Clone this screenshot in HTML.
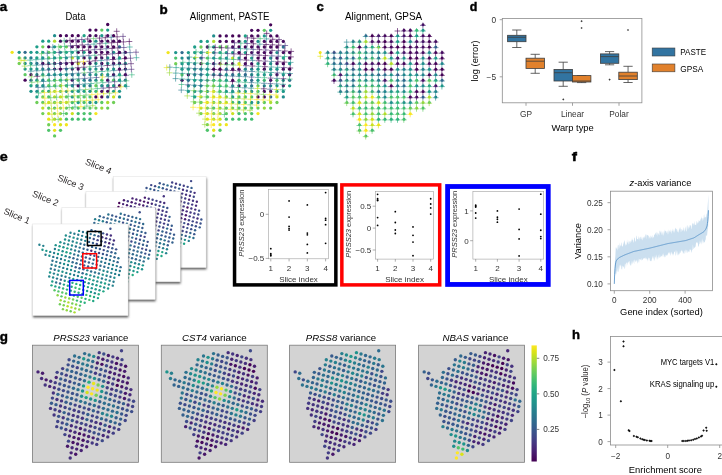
<!DOCTYPE html>
<html><head><meta charset="utf-8"><title>Figure</title>
<style>html,body{margin:0;padding:0;background:#fff;} body{width:722px;height:475px;overflow:hidden;} svg{display:block;}</style>
</head><body>
<svg width="722" height="475" viewBox="0 0 722 475" font-family="'Liberation Sans', Arial, sans-serif">
<defs><filter id="shd" x="-20%" y="-20%" width="140%" height="140%"><feGaussianBlur stdDeviation="1.3"/></filter><linearGradient id="vir" x1="0" y1="1" x2="0" y2="0"><stop offset="0.00" stop-color="#440154"/><stop offset="0.05" stop-color="#471365"/><stop offset="0.10" stop-color="#482475"/><stop offset="0.15" stop-color="#463480"/><stop offset="0.20" stop-color="#414487"/><stop offset="0.25" stop-color="#3b528b"/><stop offset="0.30" stop-color="#355f8d"/><stop offset="0.35" stop-color="#2f6c8e"/><stop offset="0.40" stop-color="#2a788e"/><stop offset="0.45" stop-color="#25848e"/><stop offset="0.50" stop-color="#21918c"/><stop offset="0.55" stop-color="#1e9c89"/><stop offset="0.60" stop-color="#22a884"/><stop offset="0.65" stop-color="#2fb47c"/><stop offset="0.70" stop-color="#44bf70"/><stop offset="0.75" stop-color="#5ec962"/><stop offset="0.80" stop-color="#7ad151"/><stop offset="0.85" stop-color="#9bd93c"/><stop offset="0.90" stop-color="#bddf26"/><stop offset="0.95" stop-color="#dfe318"/><stop offset="1.00" stop-color="#fde725"/></linearGradient></defs>
<text x="-0.30" y="10.80" font-size="13.5" font-weight="bold" fill="#000" stroke="#000" stroke-width="0.45" textLength="7.4" lengthAdjust="spacingAndGlyphs">a</text>
<text x="159.50" y="13.70" font-size="13.5" font-weight="bold" fill="#000" stroke="#000" stroke-width="0.45" textLength="8.2" lengthAdjust="spacingAndGlyphs">b</text>
<text x="316.40" y="11.20" font-size="13.5" font-weight="bold" fill="#000" stroke="#000" stroke-width="0.45" textLength="7.3" lengthAdjust="spacingAndGlyphs">c</text>
<text x="469.70" y="10.70" font-size="13.5" font-weight="bold" fill="#000" stroke="#000" stroke-width="0.45" textLength="7.6" lengthAdjust="spacingAndGlyphs">d</text>
<text x="-0.30" y="160.90" font-size="13.5" font-weight="bold" fill="#000" stroke="#000" stroke-width="0.45" textLength="8.0" lengthAdjust="spacingAndGlyphs">e</text>
<text x="571.80" y="160.80" font-size="13.5" font-weight="bold" fill="#000" stroke="#000" stroke-width="0.45" textLength="5.2" lengthAdjust="spacingAndGlyphs">f</text>
<text x="-0.30" y="341.30" font-size="13.5" font-weight="bold" fill="#000" stroke="#000" stroke-width="0.45" textLength="8.2" lengthAdjust="spacingAndGlyphs">g</text>
<text x="572.00" y="339.20" font-size="13.5" font-weight="bold" fill="#000" stroke="#000" stroke-width="0.45" textLength="8.0" lengthAdjust="spacingAndGlyphs">h</text>
<text x="75.50" y="19.70" font-size="10.4" text-anchor="middle" textLength="20" lengthAdjust="spacingAndGlyphs">Data</text>
<text x="229.65" y="19.80" font-size="10.4" text-anchor="middle" textLength="79.9" lengthAdjust="spacingAndGlyphs">Alignment, PASTE</text>
<text x="383.60" y="19.80" font-size="10.4" text-anchor="middle" textLength="77.2" lengthAdjust="spacingAndGlyphs">Alignment, GPSA</text>
<rect x="502.30" y="18.40" width="139.60" height="84.40" fill="none" stroke="#8c8c8c" stroke-width="0.8"/>
<line x1="499.70" y1="19.70" x2="502.30" y2="19.70" stroke="#8c8c8c" stroke-width="0.8"/>
<text x="496.00" y="22.70" font-size="8.3" text-anchor="end" fill="#333333">0</text>
<line x1="499.70" y1="76.80" x2="502.30" y2="76.80" stroke="#8c8c8c" stroke-width="0.8"/>
<text x="496.00" y="79.80" font-size="8.3" text-anchor="end" fill="#333333">−5</text>
<line x1="526.00" y1="102.80" x2="526.00" y2="105.80" stroke="#8c8c8c" stroke-width="0.8"/>
<text x="526.00" y="117.20" font-size="8.3" text-anchor="middle" fill="#333333">GP</text>
<line x1="572.50" y1="102.80" x2="572.50" y2="105.80" stroke="#8c8c8c" stroke-width="0.8"/>
<text x="572.50" y="117.20" font-size="8.3" text-anchor="middle" fill="#333333">Linear</text>
<line x1="619.00" y1="102.80" x2="619.00" y2="105.80" stroke="#8c8c8c" stroke-width="0.8"/>
<text x="619.00" y="117.20" font-size="8.3" text-anchor="middle" fill="#333333">Polar</text>
<text x="572.60" y="130.60" font-size="9.0" text-anchor="middle" textLength="42.4" lengthAdjust="spacingAndGlyphs">Warp type</text>
<text x="477.80" y="61.00" font-size="9.4" text-anchor="middle" transform="rotate(-90 477.80 61.00)">log (error)</text>
<line x1="516.80" y1="30.00" x2="516.80" y2="35.30" stroke="#3d3d3d" stroke-width="0.8"/>
<line x1="516.80" y1="41.70" x2="516.80" y2="47.50" stroke="#3d3d3d" stroke-width="0.8"/>
<line x1="512.20" y1="30.00" x2="521.40" y2="30.00" stroke="#3d3d3d" stroke-width="0.8"/>
<line x1="512.20" y1="47.50" x2="521.40" y2="47.50" stroke="#3d3d3d" stroke-width="0.8"/>
<rect x="507.60" y="35.30" width="18.40" height="6.40" fill="#3274a1" stroke="#3d3d3d" stroke-width="0.8"/>
<line x1="507.60" y1="37.30" x2="526.00" y2="37.30" stroke="#3d3d3d" stroke-width="0.8"/>
<line x1="535.20" y1="54.30" x2="535.20" y2="58.20" stroke="#3d3d3d" stroke-width="0.8"/>
<line x1="535.20" y1="68.40" x2="535.20" y2="73.30" stroke="#3d3d3d" stroke-width="0.8"/>
<line x1="530.60" y1="54.30" x2="539.80" y2="54.30" stroke="#3d3d3d" stroke-width="0.8"/>
<line x1="530.60" y1="73.30" x2="539.80" y2="73.30" stroke="#3d3d3d" stroke-width="0.8"/>
<rect x="526.00" y="58.20" width="18.40" height="10.20" fill="#e1812c" stroke="#3d3d3d" stroke-width="0.8"/>
<line x1="526.00" y1="61.20" x2="544.40" y2="61.20" stroke="#3d3d3d" stroke-width="0.8"/>
<line x1="563.20" y1="62.20" x2="563.20" y2="69.40" stroke="#3d3d3d" stroke-width="0.8"/>
<line x1="563.20" y1="81.00" x2="563.20" y2="86.30" stroke="#3d3d3d" stroke-width="0.8"/>
<line x1="558.60" y1="62.20" x2="567.80" y2="62.20" stroke="#3d3d3d" stroke-width="0.8"/>
<line x1="558.60" y1="86.30" x2="567.80" y2="86.30" stroke="#3d3d3d" stroke-width="0.8"/>
<rect x="554.00" y="69.40" width="18.40" height="11.60" fill="#3274a1" stroke="#3d3d3d" stroke-width="0.8"/>
<line x1="554.00" y1="72.70" x2="572.40" y2="72.70" stroke="#3d3d3d" stroke-width="0.8"/>
<path d="M562.20 99.40 l1.1 -1.1 l1.1 1.1 l-1.1 1.1z" fill="#3d3d3d"/>
<line x1="581.65" y1="75.60" x2="581.65" y2="75.60" stroke="#3d3d3d" stroke-width="0.8"/>
<line x1="581.65" y1="82.00" x2="581.65" y2="82.60" stroke="#3d3d3d" stroke-width="0.8"/>
<line x1="577.02" y1="75.60" x2="586.27" y2="75.60" stroke="#3d3d3d" stroke-width="0.8"/>
<line x1="577.02" y1="82.60" x2="586.27" y2="82.60" stroke="#3d3d3d" stroke-width="0.8"/>
<rect x="572.40" y="75.60" width="18.50" height="6.40" fill="#e1812c" stroke="#3d3d3d" stroke-width="0.8"/>
<line x1="572.40" y1="81.00" x2="590.90" y2="81.00" stroke="#3d3d3d" stroke-width="0.8"/>
<path d="M580.50 21.20 l1.1 -1.1 l1.1 1.1 l-1.1 1.1z" fill="#3d3d3d"/>
<path d="M580.50 28.00 l1.1 -1.1 l1.1 1.1 l-1.1 1.1z" fill="#3d3d3d"/>
<line x1="609.60" y1="51.60" x2="609.60" y2="53.90" stroke="#3d3d3d" stroke-width="0.8"/>
<line x1="609.60" y1="63.30" x2="609.60" y2="64.80" stroke="#3d3d3d" stroke-width="0.8"/>
<line x1="605.00" y1="51.60" x2="614.20" y2="51.60" stroke="#3d3d3d" stroke-width="0.8"/>
<line x1="605.00" y1="64.80" x2="614.20" y2="64.80" stroke="#3d3d3d" stroke-width="0.8"/>
<rect x="600.40" y="53.90" width="18.40" height="9.40" fill="#3274a1" stroke="#3d3d3d" stroke-width="0.8"/>
<line x1="600.40" y1="56.60" x2="618.80" y2="56.60" stroke="#3d3d3d" stroke-width="0.8"/>
<path d="M608.50 79.60 l1.1 -1.1 l1.1 1.1 l-1.1 1.1z" fill="#3d3d3d"/>
<line x1="628.05" y1="66.30" x2="628.05" y2="72.20" stroke="#3d3d3d" stroke-width="0.8"/>
<line x1="628.05" y1="79.60" x2="628.05" y2="82.50" stroke="#3d3d3d" stroke-width="0.8"/>
<line x1="623.42" y1="66.30" x2="632.67" y2="66.30" stroke="#3d3d3d" stroke-width="0.8"/>
<line x1="623.42" y1="82.50" x2="632.67" y2="82.50" stroke="#3d3d3d" stroke-width="0.8"/>
<rect x="618.80" y="72.20" width="18.50" height="7.40" fill="#e1812c" stroke="#3d3d3d" stroke-width="0.8"/>
<line x1="618.80" y1="76.00" x2="637.30" y2="76.00" stroke="#3d3d3d" stroke-width="0.8"/>
<path d="M626.90 30.00 l1.1 -1.1 l1.1 1.1 l-1.1 1.1z" fill="#3d3d3d"/>
<rect x="652.20" y="48.00" width="22.70" height="8.00" fill="#3274a1" stroke="#3d3d3d" stroke-width="0.6"/>
<rect x="652.20" y="64.00" width="22.70" height="7.80" fill="#e1812c" stroke="#3d3d3d" stroke-width="0.6"/>
<text x="680.30" y="55.30" font-size="9.2" text-anchor="start" textLength="25.8" lengthAdjust="spacingAndGlyphs">PASTE</text>
<text x="680.30" y="71.60" font-size="9.2" text-anchor="start" textLength="23.0" lengthAdjust="spacingAndGlyphs">GPSA</text>
<text x="0" y="0" font-size="9.2" fill="#231f20" transform="translate(2.90,213.60) rotate(22.5)">Slice 1</text>
<text x="0" y="0" font-size="9.2" fill="#231f20" transform="translate(31.50,196.00) rotate(22.5)">Slice 2</text>
<text x="0" y="0" font-size="9.2" fill="#231f20" transform="translate(56.80,179.90) rotate(22.5)">Slice 3</text>
<text x="0" y="0" font-size="9.2" fill="#231f20" transform="translate(84.50,163.90) rotate(22.5)">Slice 4</text>
<rect x="113.70" y="178.20" width="92.80" height="91.20" fill="#5a5a5a" filter="url(#shd)"/>
<rect x="113.30" y="176.40" width="92.80" height="91.20" fill="#ffffff" stroke="#e4e4e4" stroke-width="0.5"/>
<circle cx="120.12" cy="197.20" r="1.2" fill="#3c4f8a"/>
<circle cx="123.99" cy="198.26" r="1.2" fill="#3a538b"/>
<circle cx="123.18" cy="202.18" r="1.2" fill="#33638d"/>
<circle cx="127.05" cy="203.24" r="1.2" fill="#3c4f8a"/>
<circle cx="126.24" cy="207.16" r="1.2" fill="#3b518b"/>
<circle cx="130.91" cy="204.31" r="1.2" fill="#3a548c"/>
<circle cx="130.11" cy="208.22" r="1.2" fill="#414287"/>
<circle cx="136.40" cy="197.54" r="1.2" fill="#3b528b"/>
<circle cx="135.59" cy="201.46" r="1.2" fill="#39568c"/>
<circle cx="134.78" cy="205.37" r="1.2" fill="#355e8d"/>
<circle cx="133.97" cy="209.28" r="1.2" fill="#433e85"/>
<circle cx="133.17" cy="213.20" r="1.2" fill="#3f4889"/>
<circle cx="132.36" cy="217.11" r="1.2" fill="#423f85"/>
<circle cx="131.55" cy="221.03" r="1.2" fill="#34608d"/>
<circle cx="130.75" cy="224.94" r="1.2" fill="#365c8d"/>
<circle cx="129.94" cy="228.85" r="1.2" fill="#423f85"/>
<circle cx="141.07" cy="194.69" r="1.2" fill="#31678e"/>
<circle cx="140.26" cy="198.61" r="1.2" fill="#32658e"/>
<circle cx="139.46" cy="202.52" r="1.2" fill="#38588c"/>
<circle cx="138.65" cy="206.43" r="1.2" fill="#39558c"/>
<circle cx="137.84" cy="210.35" r="1.2" fill="#424186"/>
<circle cx="137.03" cy="214.26" r="1.2" fill="#443a83"/>
<circle cx="136.23" cy="218.18" r="1.2" fill="#3a538b"/>
<circle cx="135.42" cy="222.09" r="1.2" fill="#423f85"/>
<circle cx="134.61" cy="226.00" r="1.2" fill="#404688"/>
<circle cx="133.81" cy="229.92" r="1.2" fill="#3e4989"/>
<circle cx="133.00" cy="233.83" r="1.2" fill="#424086"/>
<circle cx="132.19" cy="237.75" r="1.2" fill="#39558c"/>
<circle cx="146.55" cy="187.93" r="1.2" fill="#3a548c"/>
<circle cx="145.75" cy="191.84" r="1.2" fill="#33638d"/>
<circle cx="144.94" cy="195.76" r="1.2" fill="#3a538b"/>
<circle cx="144.13" cy="199.67" r="1.2" fill="#39568c"/>
<circle cx="143.32" cy="203.58" r="1.2" fill="#3c508b"/>
<circle cx="142.52" cy="207.50" r="1.2" fill="#39568c"/>
<circle cx="141.71" cy="211.41" r="1.2" fill="#3c4f8a"/>
<circle cx="140.90" cy="215.33" r="1.2" fill="#3f4788"/>
<circle cx="140.09" cy="219.24" r="1.2" fill="#31688e"/>
<circle cx="139.29" cy="223.15" r="1.2" fill="#30698e"/>
<circle cx="138.48" cy="227.07" r="1.2" fill="#33638d"/>
<circle cx="137.67" cy="230.98" r="1.2" fill="#355f8d"/>
<circle cx="136.86" cy="234.90" r="1.2" fill="#3c4f8a"/>
<circle cx="136.06" cy="238.81" r="1.2" fill="#3e4c8a"/>
<circle cx="135.25" cy="242.72" r="1.2" fill="#3c4f8a"/>
<circle cx="151.23" cy="185.08" r="1.2" fill="#3f4788"/>
<circle cx="150.42" cy="188.99" r="1.2" fill="#32648e"/>
<circle cx="149.61" cy="192.91" r="1.2" fill="#3b518b"/>
<circle cx="148.81" cy="196.82" r="1.2" fill="#34618d"/>
<circle cx="148.00" cy="200.73" r="1.2" fill="#3e4a89"/>
<circle cx="147.19" cy="204.65" r="1.2" fill="#33638d"/>
<circle cx="146.38" cy="208.56" r="1.2" fill="#355e8d"/>
<circle cx="145.58" cy="212.48" r="1.2" fill="#443983"/>
<circle cx="144.77" cy="216.39" r="1.2" fill="#404588"/>
<circle cx="143.96" cy="220.30" r="1.2" fill="#32658e"/>
<circle cx="143.15" cy="224.22" r="1.2" fill="#3a538b"/>
<circle cx="142.35" cy="228.13" r="1.2" fill="#306a8e"/>
<circle cx="141.54" cy="232.05" r="1.2" fill="#3b528b"/>
<circle cx="140.73" cy="235.96" r="1.2" fill="#404588"/>
<circle cx="139.92" cy="239.87" r="1.2" fill="#355e8d"/>
<circle cx="139.12" cy="243.79" r="1.2" fill="#32658e"/>
<circle cx="138.31" cy="247.70" r="1.2" fill="#3c4f8a"/>
<circle cx="155.10" cy="186.14" r="1.2" fill="#3e4a89"/>
<circle cx="154.29" cy="190.06" r="1.2" fill="#3b528b"/>
<circle cx="153.48" cy="193.97" r="1.2" fill="#30698e"/>
<circle cx="152.67" cy="197.88" r="1.2" fill="#365d8d"/>
<circle cx="151.87" cy="201.80" r="1.2" fill="#433d84"/>
<circle cx="151.06" cy="205.71" r="1.2" fill="#424186"/>
<circle cx="150.25" cy="209.63" r="1.2" fill="#443b84"/>
<circle cx="149.44" cy="213.54" r="1.2" fill="#443b84"/>
<circle cx="148.64" cy="217.45" r="1.2" fill="#355f8d"/>
<circle cx="147.83" cy="221.37" r="1.2" fill="#404688"/>
<circle cx="147.02" cy="225.28" r="1.2" fill="#38598c"/>
<circle cx="146.21" cy="229.20" r="1.2" fill="#3a548c"/>
<circle cx="145.41" cy="233.11" r="1.2" fill="#3e4a89"/>
<circle cx="144.60" cy="237.02" r="1.2" fill="#33638d"/>
<circle cx="143.79" cy="240.94" r="1.2" fill="#3e4989"/>
<circle cx="142.98" cy="244.85" r="1.2" fill="#34608d"/>
<circle cx="142.18" cy="248.77" r="1.2" fill="#3e4989"/>
<circle cx="141.37" cy="252.68" r="1.2" fill="#38588c"/>
<circle cx="140.56" cy="256.59" r="1.2" fill="#3c4f8a"/>
<circle cx="159.77" cy="183.29" r="1.2" fill="#39558c"/>
<circle cx="158.96" cy="187.21" r="1.2" fill="#2c718e"/>
<circle cx="158.16" cy="191.12" r="1.2" fill="#31678e"/>
<circle cx="157.35" cy="195.03" r="1.2" fill="#3e4c8a"/>
<circle cx="156.54" cy="198.95" r="1.2" fill="#34608d"/>
<circle cx="155.73" cy="202.86" r="1.2" fill="#423f85"/>
<circle cx="154.93" cy="206.78" r="1.2" fill="#3f4788"/>
<circle cx="154.12" cy="210.69" r="1.2" fill="#365d8d"/>
<circle cx="153.31" cy="214.60" r="1.2" fill="#39568c"/>
<circle cx="152.50" cy="218.52" r="1.2" fill="#424186"/>
<circle cx="151.70" cy="222.43" r="1.2" fill="#2f6b8e"/>
<circle cx="150.89" cy="226.35" r="1.2" fill="#3e4a89"/>
<circle cx="150.08" cy="230.26" r="1.2" fill="#3d4e8a"/>
<circle cx="149.27" cy="234.17" r="1.2" fill="#32658e"/>
<circle cx="148.47" cy="238.09" r="1.2" fill="#3b528b"/>
<circle cx="147.66" cy="242.00" r="1.2" fill="#3b528b"/>
<circle cx="146.85" cy="245.92" r="1.2" fill="#3f4889"/>
<circle cx="146.04" cy="249.83" r="1.2" fill="#3e4989"/>
<circle cx="145.24" cy="253.74" r="1.2" fill="#34608d"/>
<circle cx="144.43" cy="257.66" r="1.2" fill="#3b518b"/>
<circle cx="143.62" cy="261.57" r="1.2" fill="#34618d"/>
<circle cx="163.64" cy="184.36" r="1.2" fill="#38598c"/>
<circle cx="162.83" cy="188.27" r="1.2" fill="#375b8d"/>
<circle cx="162.02" cy="192.18" r="1.2" fill="#306a8e"/>
<circle cx="161.22" cy="196.10" r="1.2" fill="#3c508b"/>
<circle cx="160.41" cy="200.01" r="1.2" fill="#3c4f8a"/>
<circle cx="159.60" cy="203.93" r="1.2" fill="#38598c"/>
<circle cx="158.79" cy="207.84" r="1.2" fill="#443a83"/>
<circle cx="157.99" cy="211.75" r="1.2" fill="#443b84"/>
<circle cx="157.18" cy="215.67" r="1.2" fill="#33628d"/>
<circle cx="156.37" cy="219.58" r="1.2" fill="#33638d"/>
<circle cx="155.56" cy="223.50" r="1.2" fill="#3d4e8a"/>
<circle cx="154.76" cy="227.41" r="1.2" fill="#3d4d8a"/>
<circle cx="153.95" cy="231.32" r="1.2" fill="#32648e"/>
<circle cx="153.14" cy="235.24" r="1.2" fill="#2e6d8e"/>
<circle cx="152.33" cy="239.15" r="1.2" fill="#3d4e8a"/>
<circle cx="151.53" cy="243.07" r="1.2" fill="#2e6f8e"/>
<circle cx="150.72" cy="246.98" r="1.2" fill="#2e6d8e"/>
<circle cx="149.91" cy="250.89" r="1.2" fill="#33628d"/>
<circle cx="149.10" cy="254.81" r="1.2" fill="#375b8d"/>
<circle cx="148.30" cy="258.72" r="1.2" fill="#3d4d8a"/>
<circle cx="147.49" cy="262.64" r="1.2" fill="#3e4989"/>
<circle cx="167.51" cy="185.42" r="1.2" fill="#2f6c8e"/>
<circle cx="166.70" cy="189.33" r="1.2" fill="#3e4a89"/>
<circle cx="165.89" cy="193.25" r="1.2" fill="#375a8c"/>
<circle cx="165.08" cy="197.16" r="1.2" fill="#423f85"/>
<circle cx="164.28" cy="201.08" r="1.2" fill="#3a548c"/>
<circle cx="163.47" cy="204.99" r="1.2" fill="#3f4889"/>
<circle cx="162.66" cy="208.90" r="1.2" fill="#443b84"/>
<circle cx="161.85" cy="212.82" r="1.2" fill="#443a83"/>
<circle cx="161.05" cy="216.73" r="1.2" fill="#375b8d"/>
<circle cx="160.24" cy="220.65" r="1.2" fill="#404588"/>
<circle cx="159.43" cy="224.56" r="1.2" fill="#3c508b"/>
<circle cx="158.62" cy="228.47" r="1.2" fill="#355f8d"/>
<circle cx="157.82" cy="232.39" r="1.2" fill="#306a8e"/>
<circle cx="157.01" cy="236.30" r="1.2" fill="#34618d"/>
<circle cx="156.20" cy="240.22" r="1.2" fill="#3a538b"/>
<circle cx="155.39" cy="244.13" r="1.2" fill="#2d708e"/>
<circle cx="154.59" cy="248.04" r="1.2" fill="#3b528b"/>
<circle cx="153.78" cy="251.96" r="1.2" fill="#3e4a89"/>
<circle cx="152.97" cy="255.87" r="1.2" fill="#39558c"/>
<circle cx="152.16" cy="259.79" r="1.2" fill="#365d8d"/>
<circle cx="151.36" cy="263.70" r="1.2" fill="#3e4c8a"/>
<circle cx="172.18" cy="182.57" r="1.2" fill="#414287"/>
<circle cx="171.38" cy="186.48" r="1.2" fill="#3e4c8a"/>
<circle cx="170.57" cy="190.40" r="1.2" fill="#3b528b"/>
<circle cx="169.76" cy="194.31" r="1.2" fill="#453882"/>
<circle cx="168.95" cy="198.23" r="1.2" fill="#433d84"/>
<circle cx="168.14" cy="202.14" r="1.2" fill="#3b518b"/>
<circle cx="167.34" cy="206.05" r="1.2" fill="#3a538b"/>
<circle cx="166.53" cy="209.97" r="1.2" fill="#3f4788"/>
<circle cx="165.72" cy="213.88" r="1.2" fill="#3c508b"/>
<circle cx="164.91" cy="217.80" r="1.2" fill="#3a548c"/>
<circle cx="164.11" cy="221.71" r="1.2" fill="#3e4a89"/>
<circle cx="163.30" cy="225.62" r="1.2" fill="#3e4a89"/>
<circle cx="162.49" cy="229.54" r="1.2" fill="#3f4889"/>
<circle cx="161.68" cy="233.45" r="1.2" fill="#2e6e8e"/>
<circle cx="160.88" cy="237.37" r="1.2" fill="#31668e"/>
<circle cx="160.07" cy="241.28" r="1.2" fill="#2c728e"/>
<circle cx="159.26" cy="245.19" r="1.2" fill="#3d4d8a"/>
<circle cx="158.45" cy="249.11" r="1.2" fill="#31688e"/>
<circle cx="157.65" cy="253.02" r="1.2" fill="#33628d"/>
<circle cx="156.84" cy="256.94" r="1.2" fill="#2f6b8e"/>
<circle cx="156.03" cy="260.85" r="1.2" fill="#375a8c"/>
<circle cx="155.22" cy="264.76" r="1.2" fill="#2b748e"/>
<circle cx="176.05" cy="183.63" r="1.2" fill="#453882"/>
<circle cx="175.24" cy="187.55" r="1.2" fill="#3d4d8a"/>
<circle cx="174.43" cy="191.46" r="1.2" fill="#3a538b"/>
<circle cx="173.63" cy="195.38" r="1.2" fill="#39558c"/>
<circle cx="172.82" cy="199.29" r="1.2" fill="#3f4788"/>
<circle cx="172.01" cy="203.20" r="1.2" fill="#424086"/>
<circle cx="171.20" cy="207.12" r="1.2" fill="#414487"/>
<circle cx="170.40" cy="211.03" r="1.2" fill="#3d4d8a"/>
<circle cx="169.59" cy="214.95" r="1.2" fill="#443a83"/>
<circle cx="168.78" cy="218.86" r="1.2" fill="#39568c"/>
<circle cx="167.97" cy="222.77" r="1.2" fill="#306a8e"/>
<circle cx="167.17" cy="226.69" r="1.2" fill="#2e6d8e"/>
<circle cx="166.36" cy="230.60" r="1.2" fill="#375a8c"/>
<circle cx="165.55" cy="234.52" r="1.2" fill="#306a8e"/>
<circle cx="164.74" cy="238.43" r="1.2" fill="#2d708e"/>
<circle cx="163.94" cy="242.34" r="1.2" fill="#31678e"/>
<circle cx="163.13" cy="246.26" r="1.2" fill="#306a8e"/>
<circle cx="162.32" cy="250.17" r="1.2" fill="#34618d"/>
<circle cx="161.51" cy="254.09" r="1.2" fill="#30698e"/>
<circle cx="160.71" cy="258.00" r="1.2" fill="#30698e"/>
<circle cx="159.90" cy="261.91" r="1.2" fill="#3b518b"/>
<circle cx="179.92" cy="184.70" r="1.2" fill="#3c508b"/>
<circle cx="179.11" cy="188.61" r="1.2" fill="#355e8d"/>
<circle cx="178.30" cy="192.53" r="1.2" fill="#39558c"/>
<circle cx="177.49" cy="196.44" r="1.2" fill="#3f4889"/>
<circle cx="176.69" cy="200.35" r="1.2" fill="#46307e"/>
<circle cx="175.88" cy="204.27" r="1.2" fill="#443a83"/>
<circle cx="175.07" cy="208.18" r="1.2" fill="#472f7d"/>
<circle cx="174.26" cy="212.10" r="1.2" fill="#472e7c"/>
<circle cx="173.46" cy="216.01" r="1.2" fill="#3e4a89"/>
<circle cx="172.65" cy="219.92" r="1.2" fill="#46337f"/>
<circle cx="171.84" cy="223.84" r="1.2" fill="#355e8d"/>
<circle cx="171.03" cy="227.75" r="1.2" fill="#414487"/>
<circle cx="170.23" cy="231.67" r="1.2" fill="#34618d"/>
<circle cx="169.42" cy="235.58" r="1.2" fill="#34608d"/>
<circle cx="168.61" cy="239.49" r="1.2" fill="#375b8d"/>
<circle cx="167.80" cy="243.41" r="1.2" fill="#2c718e"/>
<circle cx="167.00" cy="247.32" r="1.2" fill="#2f6b8e"/>
<circle cx="166.19" cy="251.24" r="1.2" fill="#2e6f8e"/>
<circle cx="165.38" cy="255.15" r="1.2" fill="#29798e"/>
<circle cx="183.78" cy="185.76" r="1.2" fill="#433d84"/>
<circle cx="182.98" cy="189.68" r="1.2" fill="#472f7d"/>
<circle cx="182.17" cy="193.59" r="1.2" fill="#443983"/>
<circle cx="181.36" cy="197.50" r="1.2" fill="#414487"/>
<circle cx="180.55" cy="201.42" r="1.2" fill="#482173"/>
<circle cx="179.75" cy="205.33" r="1.2" fill="#481668"/>
<circle cx="178.94" cy="209.25" r="1.2" fill="#443983"/>
<circle cx="178.13" cy="213.16" r="1.2" fill="#46327e"/>
<circle cx="177.32" cy="217.07" r="1.2" fill="#46307e"/>
<circle cx="176.52" cy="220.99" r="1.2" fill="#3a538b"/>
<circle cx="175.71" cy="224.90" r="1.2" fill="#404688"/>
<circle cx="174.90" cy="228.82" r="1.2" fill="#355e8d"/>
<circle cx="174.09" cy="232.73" r="1.2" fill="#3b518b"/>
<circle cx="173.29" cy="236.64" r="1.2" fill="#32658e"/>
<circle cx="172.48" cy="240.56" r="1.2" fill="#297b8e"/>
<circle cx="171.67" cy="244.47" r="1.2" fill="#26828e"/>
<circle cx="170.86" cy="248.39" r="1.2" fill="#27808e"/>
<circle cx="170.06" cy="252.30" r="1.2" fill="#306a8e"/>
<circle cx="187.65" cy="186.83" r="1.2" fill="#3d4d8a"/>
<circle cx="186.84" cy="190.74" r="1.2" fill="#423f85"/>
<circle cx="186.04" cy="194.65" r="1.2" fill="#46327e"/>
<circle cx="185.23" cy="198.57" r="1.2" fill="#443a83"/>
<circle cx="184.42" cy="202.48" r="1.2" fill="#424086"/>
<circle cx="183.61" cy="206.40" r="1.2" fill="#443983"/>
<circle cx="182.81" cy="210.31" r="1.2" fill="#472f7d"/>
<circle cx="182.00" cy="214.22" r="1.2" fill="#453882"/>
<circle cx="181.19" cy="218.14" r="1.2" fill="#482071"/>
<circle cx="180.38" cy="222.05" r="1.2" fill="#472e7c"/>
<circle cx="179.58" cy="225.97" r="1.2" fill="#3e4a89"/>
<circle cx="178.77" cy="229.88" r="1.2" fill="#3d4d8a"/>
<circle cx="177.96" cy="233.79" r="1.2" fill="#38588c"/>
<circle cx="177.15" cy="237.71" r="1.2" fill="#2d718e"/>
<circle cx="176.35" cy="241.62" r="1.2" fill="#25838e"/>
<circle cx="175.54" cy="245.54" r="1.2" fill="#277e8e"/>
<circle cx="174.73" cy="249.45" r="1.2" fill="#2c718e"/>
<circle cx="173.92" cy="253.36" r="1.2" fill="#26818e"/>
<circle cx="191.52" cy="187.89" r="1.2" fill="#355e8d"/>
<circle cx="190.71" cy="191.80" r="1.2" fill="#404688"/>
<circle cx="189.90" cy="195.72" r="1.2" fill="#472e7c"/>
<circle cx="189.10" cy="199.63" r="1.2" fill="#482374"/>
<circle cx="188.29" cy="203.55" r="1.2" fill="#414487"/>
<circle cx="187.48" cy="207.46" r="1.2" fill="#471164"/>
<circle cx="186.67" cy="211.37" r="1.2" fill="#472c7a"/>
<circle cx="185.87" cy="215.29" r="1.2" fill="#481b6d"/>
<circle cx="185.06" cy="219.20" r="1.2" fill="#482173"/>
<circle cx="184.25" cy="223.12" r="1.2" fill="#3c4f8a"/>
<circle cx="183.44" cy="227.03" r="1.2" fill="#443983"/>
<circle cx="182.64" cy="230.94" r="1.2" fill="#404688"/>
<circle cx="181.83" cy="234.86" r="1.2" fill="#31688e"/>
<circle cx="181.02" cy="238.77" r="1.2" fill="#2c738e"/>
<circle cx="180.21" cy="242.69" r="1.2" fill="#1e9d89"/>
<circle cx="179.41" cy="246.60" r="1.2" fill="#277f8e"/>
<circle cx="178.60" cy="250.51" r="1.2" fill="#2c718e"/>
<circle cx="194.58" cy="192.87" r="1.2" fill="#46307e"/>
<circle cx="193.77" cy="196.78" r="1.2" fill="#3f4788"/>
<circle cx="192.96" cy="200.70" r="1.2" fill="#453882"/>
<circle cx="192.16" cy="204.61" r="1.2" fill="#443b84"/>
<circle cx="191.35" cy="208.52" r="1.2" fill="#453781"/>
<circle cx="190.54" cy="212.44" r="1.2" fill="#453882"/>
<circle cx="189.73" cy="216.35" r="1.2" fill="#423f85"/>
<circle cx="188.93" cy="220.27" r="1.2" fill="#424086"/>
<circle cx="188.12" cy="224.18" r="1.2" fill="#443983"/>
<circle cx="187.31" cy="228.09" r="1.2" fill="#3c508b"/>
<circle cx="186.50" cy="232.01" r="1.2" fill="#404688"/>
<circle cx="185.70" cy="235.92" r="1.2" fill="#375a8c"/>
<circle cx="184.89" cy="239.84" r="1.2" fill="#20928c"/>
<circle cx="184.08" cy="243.75" r="1.2" fill="#1fa287"/>
<circle cx="196.83" cy="201.76" r="1.2" fill="#472c7a"/>
<circle cx="196.02" cy="205.67" r="1.2" fill="#472d7b"/>
<circle cx="195.22" cy="209.59" r="1.2" fill="#472d7b"/>
<circle cx="194.41" cy="213.50" r="1.2" fill="#433e85"/>
<circle cx="193.60" cy="217.42" r="1.2" fill="#443b84"/>
<circle cx="192.79" cy="221.33" r="1.2" fill="#3f4788"/>
<circle cx="191.99" cy="225.24" r="1.2" fill="#3a548c"/>
<circle cx="191.18" cy="229.16" r="1.2" fill="#3d4d8a"/>
<circle cx="190.37" cy="233.07" r="1.2" fill="#33638d"/>
<circle cx="189.56" cy="236.99" r="1.2" fill="#277e8e"/>
<circle cx="188.76" cy="240.90" r="1.2" fill="#287d8e"/>
<circle cx="199.08" cy="210.65" r="1.2" fill="#3c4f8a"/>
<circle cx="198.28" cy="214.57" r="1.2" fill="#3f4788"/>
<circle cx="197.47" cy="218.48" r="1.2" fill="#472f7d"/>
<circle cx="196.66" cy="222.39" r="1.2" fill="#424186"/>
<circle cx="195.85" cy="226.31" r="1.2" fill="#3d4d8a"/>
<circle cx="195.05" cy="230.22" r="1.2" fill="#33628d"/>
<circle cx="194.24" cy="234.14" r="1.2" fill="#3a548c"/>
<circle cx="193.43" cy="238.05" r="1.2" fill="#2e6e8e"/>
<circle cx="201.34" cy="219.54" r="1.2" fill="#3a548c"/>
<circle cx="200.53" cy="223.46" r="1.2" fill="#3b528b"/>
<circle cx="199.72" cy="227.37" r="1.2" fill="#365c8d"/>
<circle cx="191.09" cy="181.09" r="1.2" fill="#3f4788"/>
<rect x="86.40" y="193.30" width="94.20" height="90.30" fill="#5a5a5a" filter="url(#shd)"/>
<rect x="86.00" y="191.50" width="94.20" height="90.30" fill="#ffffff" stroke="#e4e4e4" stroke-width="0.5"/>
<circle cx="92.82" cy="212.30" r="1.2" fill="#443a83"/>
<circle cx="96.69" cy="213.36" r="1.2" fill="#482374"/>
<circle cx="95.88" cy="217.28" r="1.2" fill="#424086"/>
<circle cx="99.75" cy="218.34" r="1.2" fill="#414487"/>
<circle cx="98.94" cy="222.26" r="1.2" fill="#424186"/>
<circle cx="103.61" cy="219.41" r="1.2" fill="#423f85"/>
<circle cx="102.81" cy="223.32" r="1.2" fill="#472c7a"/>
<circle cx="109.10" cy="212.64" r="1.2" fill="#443a83"/>
<circle cx="108.29" cy="216.56" r="1.2" fill="#404588"/>
<circle cx="107.48" cy="220.47" r="1.2" fill="#3e4c8a"/>
<circle cx="106.67" cy="224.38" r="1.2" fill="#433e85"/>
<circle cx="105.87" cy="228.30" r="1.2" fill="#3c4f8a"/>
<circle cx="105.06" cy="232.21" r="1.2" fill="#433e85"/>
<circle cx="104.25" cy="236.13" r="1.2" fill="#365d8d"/>
<circle cx="103.44" cy="240.04" r="1.2" fill="#355e8d"/>
<circle cx="102.64" cy="243.95" r="1.2" fill="#3e4989"/>
<circle cx="113.77" cy="209.79" r="1.2" fill="#450457"/>
<circle cx="112.97" cy="213.71" r="1.2" fill="#482173"/>
<circle cx="112.16" cy="217.62" r="1.2" fill="#46307e"/>
<circle cx="111.35" cy="221.53" r="1.2" fill="#414487"/>
<circle cx="110.54" cy="225.45" r="1.2" fill="#433e85"/>
<circle cx="109.73" cy="229.36" r="1.2" fill="#472d7b"/>
<circle cx="108.93" cy="233.28" r="1.2" fill="#38588c"/>
<circle cx="108.12" cy="237.19" r="1.2" fill="#443983"/>
<circle cx="107.31" cy="241.10" r="1.2" fill="#365d8d"/>
<circle cx="106.50" cy="245.02" r="1.2" fill="#414487"/>
<circle cx="105.70" cy="248.93" r="1.2" fill="#3d4d8a"/>
<circle cx="104.89" cy="252.85" r="1.2" fill="#33628d"/>
<circle cx="119.25" cy="203.03" r="1.2" fill="#440154"/>
<circle cx="118.45" cy="206.94" r="1.2" fill="#440154"/>
<circle cx="117.64" cy="210.86" r="1.2" fill="#481d6f"/>
<circle cx="116.83" cy="214.77" r="1.2" fill="#46327e"/>
<circle cx="116.03" cy="218.68" r="1.2" fill="#424186"/>
<circle cx="115.22" cy="222.60" r="1.2" fill="#414287"/>
<circle cx="114.41" cy="226.51" r="1.2" fill="#39558c"/>
<circle cx="113.60" cy="230.43" r="1.2" fill="#3f4788"/>
<circle cx="112.79" cy="234.34" r="1.2" fill="#34608d"/>
<circle cx="111.99" cy="238.25" r="1.2" fill="#433d84"/>
<circle cx="111.18" cy="242.17" r="1.2" fill="#404688"/>
<circle cx="110.37" cy="246.08" r="1.2" fill="#39568c"/>
<circle cx="109.56" cy="250.00" r="1.2" fill="#3d4e8a"/>
<circle cx="108.76" cy="253.91" r="1.2" fill="#33628d"/>
<circle cx="107.95" cy="257.82" r="1.2" fill="#355f8d"/>
<circle cx="123.93" cy="200.18" r="1.2" fill="#481c6e"/>
<circle cx="123.12" cy="204.09" r="1.2" fill="#482979"/>
<circle cx="122.31" cy="208.01" r="1.2" fill="#481c6e"/>
<circle cx="121.51" cy="211.92" r="1.2" fill="#481769"/>
<circle cx="120.70" cy="215.83" r="1.2" fill="#482475"/>
<circle cx="119.89" cy="219.75" r="1.2" fill="#404588"/>
<circle cx="119.08" cy="223.66" r="1.2" fill="#3c508b"/>
<circle cx="118.28" cy="227.58" r="1.2" fill="#453882"/>
<circle cx="117.47" cy="231.49" r="1.2" fill="#375b8d"/>
<circle cx="116.66" cy="235.40" r="1.2" fill="#32648e"/>
<circle cx="115.85" cy="239.32" r="1.2" fill="#3a548c"/>
<circle cx="115.05" cy="243.23" r="1.2" fill="#38598c"/>
<circle cx="114.24" cy="247.15" r="1.2" fill="#3e4a89"/>
<circle cx="113.43" cy="251.06" r="1.2" fill="#375b8d"/>
<circle cx="112.62" cy="254.97" r="1.2" fill="#375b8d"/>
<circle cx="111.82" cy="258.89" r="1.2" fill="#34608d"/>
<circle cx="111.01" cy="262.80" r="1.2" fill="#3f4788"/>
<circle cx="127.80" cy="201.24" r="1.2" fill="#443a83"/>
<circle cx="126.99" cy="205.16" r="1.2" fill="#482173"/>
<circle cx="126.18" cy="209.07" r="1.2" fill="#481c6e"/>
<circle cx="125.38" cy="212.98" r="1.2" fill="#453882"/>
<circle cx="124.57" cy="216.90" r="1.2" fill="#463480"/>
<circle cx="123.76" cy="220.81" r="1.2" fill="#443a83"/>
<circle cx="122.95" cy="224.73" r="1.2" fill="#3e4c8a"/>
<circle cx="122.14" cy="228.64" r="1.2" fill="#453581"/>
<circle cx="121.34" cy="232.55" r="1.2" fill="#3b528b"/>
<circle cx="120.53" cy="236.47" r="1.2" fill="#3c508b"/>
<circle cx="119.72" cy="240.38" r="1.2" fill="#306a8e"/>
<circle cx="118.91" cy="244.30" r="1.2" fill="#306a8e"/>
<circle cx="118.11" cy="248.21" r="1.2" fill="#3c508b"/>
<circle cx="117.30" cy="252.12" r="1.2" fill="#375a8c"/>
<circle cx="116.49" cy="256.04" r="1.2" fill="#3e4c8a"/>
<circle cx="115.69" cy="259.95" r="1.2" fill="#375b8d"/>
<circle cx="114.88" cy="263.87" r="1.2" fill="#2f6b8e"/>
<circle cx="114.07" cy="267.78" r="1.2" fill="#2e6f8e"/>
<circle cx="113.26" cy="271.69" r="1.2" fill="#355e8d"/>
<circle cx="132.47" cy="198.39" r="1.2" fill="#482173"/>
<circle cx="131.66" cy="202.31" r="1.2" fill="#481a6c"/>
<circle cx="130.86" cy="206.22" r="1.2" fill="#472f7d"/>
<circle cx="130.05" cy="210.13" r="1.2" fill="#424086"/>
<circle cx="129.24" cy="214.05" r="1.2" fill="#481d6f"/>
<circle cx="128.44" cy="217.96" r="1.2" fill="#404588"/>
<circle cx="127.63" cy="221.88" r="1.2" fill="#482878"/>
<circle cx="126.82" cy="225.79" r="1.2" fill="#443983"/>
<circle cx="126.01" cy="229.70" r="1.2" fill="#414287"/>
<circle cx="125.20" cy="233.62" r="1.2" fill="#365d8d"/>
<circle cx="124.40" cy="237.53" r="1.2" fill="#3c508b"/>
<circle cx="123.59" cy="241.45" r="1.2" fill="#3a548c"/>
<circle cx="122.78" cy="245.36" r="1.2" fill="#34608d"/>
<circle cx="121.97" cy="249.27" r="1.2" fill="#3e4a89"/>
<circle cx="121.17" cy="253.19" r="1.2" fill="#31678e"/>
<circle cx="120.36" cy="257.10" r="1.2" fill="#3d4e8a"/>
<circle cx="119.55" cy="261.02" r="1.2" fill="#34608d"/>
<circle cx="118.74" cy="264.93" r="1.2" fill="#39558c"/>
<circle cx="117.94" cy="268.84" r="1.2" fill="#3a548c"/>
<circle cx="117.13" cy="272.76" r="1.2" fill="#33638d"/>
<circle cx="116.32" cy="276.67" r="1.2" fill="#355f8d"/>
<circle cx="136.34" cy="199.46" r="1.2" fill="#482576"/>
<circle cx="135.53" cy="203.37" r="1.2" fill="#482878"/>
<circle cx="134.72" cy="207.28" r="1.2" fill="#472f7d"/>
<circle cx="133.92" cy="211.20" r="1.2" fill="#482071"/>
<circle cx="133.11" cy="215.11" r="1.2" fill="#482878"/>
<circle cx="132.30" cy="219.03" r="1.2" fill="#414487"/>
<circle cx="131.50" cy="222.94" r="1.2" fill="#3e4c8a"/>
<circle cx="130.69" cy="226.85" r="1.2" fill="#3d4e8a"/>
<circle cx="129.88" cy="230.77" r="1.2" fill="#33638d"/>
<circle cx="129.07" cy="234.68" r="1.2" fill="#355e8d"/>
<circle cx="128.27" cy="238.60" r="1.2" fill="#2f6b8e"/>
<circle cx="127.46" cy="242.51" r="1.2" fill="#3b518b"/>
<circle cx="126.65" cy="246.42" r="1.2" fill="#31678e"/>
<circle cx="125.84" cy="250.34" r="1.2" fill="#2f6b8e"/>
<circle cx="125.03" cy="254.25" r="1.2" fill="#2d708e"/>
<circle cx="124.23" cy="258.17" r="1.2" fill="#38598c"/>
<circle cx="123.42" cy="262.08" r="1.2" fill="#375a8c"/>
<circle cx="122.61" cy="265.99" r="1.2" fill="#2c738e"/>
<circle cx="121.81" cy="269.91" r="1.2" fill="#38588c"/>
<circle cx="121.00" cy="273.82" r="1.2" fill="#2a778e"/>
<circle cx="120.19" cy="277.74" r="1.2" fill="#2c728e"/>
<circle cx="140.21" cy="200.52" r="1.2" fill="#481769"/>
<circle cx="139.40" cy="204.43" r="1.2" fill="#481f70"/>
<circle cx="138.59" cy="208.35" r="1.2" fill="#433d84"/>
<circle cx="137.78" cy="212.26" r="1.2" fill="#472c7a"/>
<circle cx="136.98" cy="216.18" r="1.2" fill="#482979"/>
<circle cx="136.17" cy="220.09" r="1.2" fill="#3b528b"/>
<circle cx="135.36" cy="224.00" r="1.2" fill="#404688"/>
<circle cx="134.56" cy="227.92" r="1.2" fill="#365d8d"/>
<circle cx="133.75" cy="231.83" r="1.2" fill="#404688"/>
<circle cx="132.94" cy="235.75" r="1.2" fill="#38588c"/>
<circle cx="132.13" cy="239.66" r="1.2" fill="#31668e"/>
<circle cx="131.32" cy="243.57" r="1.2" fill="#3e4989"/>
<circle cx="130.52" cy="247.49" r="1.2" fill="#3b528b"/>
<circle cx="129.71" cy="251.40" r="1.2" fill="#31678e"/>
<circle cx="128.90" cy="255.32" r="1.2" fill="#2c718e"/>
<circle cx="128.09" cy="259.23" r="1.2" fill="#2b758e"/>
<circle cx="127.29" cy="263.14" r="1.2" fill="#3a538b"/>
<circle cx="126.48" cy="267.06" r="1.2" fill="#32658e"/>
<circle cx="125.67" cy="270.97" r="1.2" fill="#2d708e"/>
<circle cx="124.87" cy="274.89" r="1.2" fill="#31668e"/>
<circle cx="124.06" cy="278.80" r="1.2" fill="#2e6d8e"/>
<circle cx="144.88" cy="197.67" r="1.2" fill="#481c6e"/>
<circle cx="144.07" cy="201.58" r="1.2" fill="#481668"/>
<circle cx="143.27" cy="205.50" r="1.2" fill="#481b6d"/>
<circle cx="142.46" cy="209.41" r="1.2" fill="#481f70"/>
<circle cx="141.65" cy="213.33" r="1.2" fill="#423f85"/>
<circle cx="140.84" cy="217.24" r="1.2" fill="#424186"/>
<circle cx="140.04" cy="221.15" r="1.2" fill="#3e4989"/>
<circle cx="139.23" cy="225.07" r="1.2" fill="#443b84"/>
<circle cx="138.42" cy="228.98" r="1.2" fill="#404588"/>
<circle cx="137.61" cy="232.90" r="1.2" fill="#3d4d8a"/>
<circle cx="136.81" cy="236.81" r="1.2" fill="#2f6c8e"/>
<circle cx="136.00" cy="240.72" r="1.2" fill="#2c728e"/>
<circle cx="135.19" cy="244.64" r="1.2" fill="#2d718e"/>
<circle cx="134.38" cy="248.55" r="1.2" fill="#3d4e8a"/>
<circle cx="133.58" cy="252.47" r="1.2" fill="#3c4f8a"/>
<circle cx="132.77" cy="256.38" r="1.2" fill="#2a768e"/>
<circle cx="131.96" cy="260.29" r="1.2" fill="#32648e"/>
<circle cx="131.16" cy="264.21" r="1.2" fill="#2c718e"/>
<circle cx="130.35" cy="268.12" r="1.2" fill="#34618d"/>
<circle cx="129.54" cy="272.04" r="1.2" fill="#31678e"/>
<circle cx="128.73" cy="275.95" r="1.2" fill="#30698e"/>
<circle cx="127.93" cy="279.86" r="1.2" fill="#32658e"/>
<circle cx="148.75" cy="198.73" r="1.2" fill="#453581"/>
<circle cx="147.94" cy="202.65" r="1.2" fill="#48186a"/>
<circle cx="147.13" cy="206.56" r="1.2" fill="#424086"/>
<circle cx="146.33" cy="210.48" r="1.2" fill="#3d4d8a"/>
<circle cx="145.52" cy="214.39" r="1.2" fill="#46307e"/>
<circle cx="144.71" cy="218.30" r="1.2" fill="#424186"/>
<circle cx="143.91" cy="222.22" r="1.2" fill="#3b528b"/>
<circle cx="143.10" cy="226.13" r="1.2" fill="#3f4889"/>
<circle cx="142.29" cy="230.05" r="1.2" fill="#404688"/>
<circle cx="141.48" cy="233.96" r="1.2" fill="#3e4c8a"/>
<circle cx="140.68" cy="237.87" r="1.2" fill="#355f8d"/>
<circle cx="139.87" cy="241.79" r="1.2" fill="#3e4989"/>
<circle cx="139.06" cy="245.70" r="1.2" fill="#2d708e"/>
<circle cx="138.25" cy="249.62" r="1.2" fill="#2e6e8e"/>
<circle cx="137.44" cy="253.53" r="1.2" fill="#2e6d8e"/>
<circle cx="136.64" cy="257.44" r="1.2" fill="#2a768e"/>
<circle cx="135.83" cy="261.36" r="1.2" fill="#2e6f8e"/>
<circle cx="135.02" cy="265.27" r="1.2" fill="#31678e"/>
<circle cx="134.22" cy="269.19" r="1.2" fill="#2d708e"/>
<circle cx="133.41" cy="273.10" r="1.2" fill="#2f6c8e"/>
<circle cx="132.60" cy="277.01" r="1.2" fill="#287d8e"/>
<circle cx="152.62" cy="199.80" r="1.2" fill="#404588"/>
<circle cx="151.81" cy="203.71" r="1.2" fill="#472c7a"/>
<circle cx="151.00" cy="207.63" r="1.2" fill="#3c508b"/>
<circle cx="150.19" cy="211.54" r="1.2" fill="#3d4d8a"/>
<circle cx="149.39" cy="215.45" r="1.2" fill="#3c508b"/>
<circle cx="148.58" cy="219.37" r="1.2" fill="#3a538b"/>
<circle cx="147.77" cy="223.28" r="1.2" fill="#414287"/>
<circle cx="146.97" cy="227.20" r="1.2" fill="#355f8d"/>
<circle cx="146.16" cy="231.11" r="1.2" fill="#32658e"/>
<circle cx="145.35" cy="235.02" r="1.2" fill="#33638d"/>
<circle cx="144.54" cy="238.94" r="1.2" fill="#30698e"/>
<circle cx="143.73" cy="242.85" r="1.2" fill="#2f6b8e"/>
<circle cx="142.93" cy="246.77" r="1.2" fill="#355e8d"/>
<circle cx="142.12" cy="250.68" r="1.2" fill="#2e6f8e"/>
<circle cx="141.31" cy="254.59" r="1.2" fill="#38598c"/>
<circle cx="140.50" cy="258.51" r="1.2" fill="#31678e"/>
<circle cx="139.70" cy="262.42" r="1.2" fill="#2e6e8e"/>
<circle cx="138.89" cy="266.34" r="1.2" fill="#365c8d"/>
<circle cx="138.08" cy="270.25" r="1.2" fill="#306a8e"/>
<circle cx="156.49" cy="200.86" r="1.2" fill="#424186"/>
<circle cx="155.68" cy="204.78" r="1.2" fill="#414487"/>
<circle cx="154.87" cy="208.69" r="1.2" fill="#463480"/>
<circle cx="154.06" cy="212.60" r="1.2" fill="#38588c"/>
<circle cx="153.25" cy="216.52" r="1.2" fill="#3e4c8a"/>
<circle cx="152.45" cy="220.43" r="1.2" fill="#443b84"/>
<circle cx="151.64" cy="224.35" r="1.2" fill="#3c4f8a"/>
<circle cx="150.83" cy="228.26" r="1.2" fill="#3b518b"/>
<circle cx="150.03" cy="232.17" r="1.2" fill="#39568c"/>
<circle cx="149.22" cy="236.09" r="1.2" fill="#39568c"/>
<circle cx="148.41" cy="240.00" r="1.2" fill="#2c738e"/>
<circle cx="147.60" cy="243.92" r="1.2" fill="#30698e"/>
<circle cx="146.79" cy="247.83" r="1.2" fill="#2d708e"/>
<circle cx="145.99" cy="251.74" r="1.2" fill="#2a778e"/>
<circle cx="145.18" cy="255.66" r="1.2" fill="#25848e"/>
<circle cx="144.37" cy="259.57" r="1.2" fill="#33628d"/>
<circle cx="143.56" cy="263.49" r="1.2" fill="#297a8e"/>
<circle cx="142.76" cy="267.40" r="1.2" fill="#277e8e"/>
<circle cx="160.35" cy="201.93" r="1.2" fill="#46337f"/>
<circle cx="159.55" cy="205.84" r="1.2" fill="#433d84"/>
<circle cx="158.74" cy="209.75" r="1.2" fill="#472d7b"/>
<circle cx="157.93" cy="213.67" r="1.2" fill="#453581"/>
<circle cx="157.12" cy="217.58" r="1.2" fill="#433e85"/>
<circle cx="156.31" cy="221.50" r="1.2" fill="#46327e"/>
<circle cx="155.51" cy="225.41" r="1.2" fill="#433e85"/>
<circle cx="154.70" cy="229.32" r="1.2" fill="#33628d"/>
<circle cx="153.89" cy="233.24" r="1.2" fill="#375a8c"/>
<circle cx="153.09" cy="237.15" r="1.2" fill="#355e8d"/>
<circle cx="152.28" cy="241.07" r="1.2" fill="#2b758e"/>
<circle cx="151.47" cy="244.98" r="1.2" fill="#2e6d8e"/>
<circle cx="150.66" cy="248.89" r="1.2" fill="#25848e"/>
<circle cx="149.85" cy="252.81" r="1.2" fill="#277e8e"/>
<circle cx="149.05" cy="256.72" r="1.2" fill="#23898e"/>
<circle cx="148.24" cy="260.64" r="1.2" fill="#2e6e8e"/>
<circle cx="147.43" cy="264.55" r="1.2" fill="#26818e"/>
<circle cx="146.62" cy="268.46" r="1.2" fill="#25848e"/>
<circle cx="164.22" cy="202.99" r="1.2" fill="#472d7b"/>
<circle cx="163.41" cy="206.90" r="1.2" fill="#38588c"/>
<circle cx="162.60" cy="210.82" r="1.2" fill="#453581"/>
<circle cx="161.80" cy="214.73" r="1.2" fill="#404588"/>
<circle cx="160.99" cy="218.65" r="1.2" fill="#453781"/>
<circle cx="160.18" cy="222.56" r="1.2" fill="#3e4989"/>
<circle cx="159.38" cy="226.47" r="1.2" fill="#3a538b"/>
<circle cx="158.57" cy="230.39" r="1.2" fill="#424086"/>
<circle cx="157.76" cy="234.30" r="1.2" fill="#2e6d8e"/>
<circle cx="156.95" cy="238.22" r="1.2" fill="#365c8d"/>
<circle cx="156.15" cy="242.13" r="1.2" fill="#31688e"/>
<circle cx="155.34" cy="246.04" r="1.2" fill="#2b758e"/>
<circle cx="154.53" cy="249.96" r="1.2" fill="#2a788e"/>
<circle cx="153.72" cy="253.87" r="1.2" fill="#277e8e"/>
<circle cx="152.91" cy="257.79" r="1.2" fill="#21908d"/>
<circle cx="152.11" cy="261.70" r="1.2" fill="#238a8d"/>
<circle cx="151.30" cy="265.61" r="1.2" fill="#297b8e"/>
<circle cx="167.28" cy="207.97" r="1.2" fill="#3b518b"/>
<circle cx="166.47" cy="211.88" r="1.2" fill="#423f85"/>
<circle cx="165.66" cy="215.80" r="1.2" fill="#46327e"/>
<circle cx="164.86" cy="219.71" r="1.2" fill="#423f85"/>
<circle cx="164.05" cy="223.62" r="1.2" fill="#443983"/>
<circle cx="163.24" cy="227.54" r="1.2" fill="#404588"/>
<circle cx="162.44" cy="231.45" r="1.2" fill="#33638d"/>
<circle cx="161.63" cy="235.37" r="1.2" fill="#39568c"/>
<circle cx="160.82" cy="239.28" r="1.2" fill="#2d718e"/>
<circle cx="160.01" cy="243.19" r="1.2" fill="#2b748e"/>
<circle cx="159.21" cy="247.11" r="1.2" fill="#31678e"/>
<circle cx="158.40" cy="251.02" r="1.2" fill="#1e9c89"/>
<circle cx="157.59" cy="254.94" r="1.2" fill="#20a486"/>
<circle cx="156.78" cy="258.85" r="1.2" fill="#25848e"/>
<circle cx="169.53" cy="216.86" r="1.2" fill="#355f8d"/>
<circle cx="168.72" cy="220.77" r="1.2" fill="#3d4d8a"/>
<circle cx="167.92" cy="224.69" r="1.2" fill="#3a538b"/>
<circle cx="167.11" cy="228.60" r="1.2" fill="#2f6c8e"/>
<circle cx="166.30" cy="232.52" r="1.2" fill="#3c4f8a"/>
<circle cx="165.50" cy="236.43" r="1.2" fill="#365c8d"/>
<circle cx="164.69" cy="240.34" r="1.2" fill="#2c718e"/>
<circle cx="163.88" cy="244.26" r="1.2" fill="#2b758e"/>
<circle cx="163.07" cy="248.17" r="1.2" fill="#277e8e"/>
<circle cx="162.26" cy="252.09" r="1.2" fill="#20a386"/>
<circle cx="161.46" cy="256.00" r="1.2" fill="#22a785"/>
<circle cx="171.78" cy="225.75" r="1.2" fill="#365c8d"/>
<circle cx="170.98" cy="229.67" r="1.2" fill="#3f4889"/>
<circle cx="170.17" cy="233.58" r="1.2" fill="#355f8d"/>
<circle cx="169.36" cy="237.49" r="1.2" fill="#38598c"/>
<circle cx="168.56" cy="241.41" r="1.2" fill="#3a538b"/>
<circle cx="167.75" cy="245.32" r="1.2" fill="#365c8d"/>
<circle cx="166.94" cy="249.24" r="1.2" fill="#26828e"/>
<circle cx="166.13" cy="253.15" r="1.2" fill="#25848e"/>
<circle cx="174.04" cy="234.64" r="1.2" fill="#38588c"/>
<circle cx="173.23" cy="238.56" r="1.2" fill="#33638d"/>
<circle cx="172.42" cy="242.47" r="1.2" fill="#34608d"/>
<circle cx="163.80" cy="196.19" r="1.2" fill="#463480"/>
<rect x="62.30" y="209.40" width="93.30" height="91.90" fill="#5a5a5a" filter="url(#shd)"/>
<rect x="61.90" y="207.60" width="93.30" height="91.90" fill="#ffffff" stroke="#e4e4e4" stroke-width="0.5"/>
<circle cx="68.72" cy="228.40" r="1.2" fill="#2c738e"/>
<circle cx="72.59" cy="229.46" r="1.2" fill="#2e6d8e"/>
<circle cx="71.78" cy="233.38" r="1.2" fill="#297a8e"/>
<circle cx="75.65" cy="234.44" r="1.2" fill="#2d718e"/>
<circle cx="74.84" cy="238.36" r="1.2" fill="#26828e"/>
<circle cx="79.51" cy="235.51" r="1.2" fill="#26818e"/>
<circle cx="78.71" cy="239.42" r="1.2" fill="#2a778e"/>
<circle cx="85.00" cy="228.74" r="1.2" fill="#31688e"/>
<circle cx="84.19" cy="232.66" r="1.2" fill="#34618d"/>
<circle cx="83.38" cy="236.57" r="1.2" fill="#277e8e"/>
<circle cx="82.57" cy="240.48" r="1.2" fill="#29798e"/>
<circle cx="81.77" cy="244.40" r="1.2" fill="#2c718e"/>
<circle cx="80.96" cy="248.31" r="1.2" fill="#31678e"/>
<circle cx="80.15" cy="252.23" r="1.2" fill="#33638d"/>
<circle cx="79.34" cy="256.14" r="1.2" fill="#2c738e"/>
<circle cx="78.54" cy="260.05" r="1.2" fill="#2d708e"/>
<circle cx="89.67" cy="225.89" r="1.2" fill="#2a788e"/>
<circle cx="88.86" cy="229.81" r="1.2" fill="#2a778e"/>
<circle cx="88.06" cy="233.72" r="1.2" fill="#297a8e"/>
<circle cx="87.25" cy="237.63" r="1.2" fill="#33628d"/>
<circle cx="86.44" cy="241.55" r="1.2" fill="#33638d"/>
<circle cx="85.63" cy="245.46" r="1.2" fill="#277f8e"/>
<circle cx="84.83" cy="249.38" r="1.2" fill="#287c8e"/>
<circle cx="84.02" cy="253.29" r="1.2" fill="#297a8e"/>
<circle cx="83.21" cy="257.20" r="1.2" fill="#38598c"/>
<circle cx="82.41" cy="261.12" r="1.2" fill="#375b8d"/>
<circle cx="81.60" cy="265.03" r="1.2" fill="#32658e"/>
<circle cx="80.79" cy="268.95" r="1.2" fill="#2f6c8e"/>
<circle cx="95.15" cy="219.13" r="1.2" fill="#287d8e"/>
<circle cx="94.35" cy="223.04" r="1.2" fill="#31678e"/>
<circle cx="93.54" cy="226.96" r="1.2" fill="#2b758e"/>
<circle cx="92.73" cy="230.87" r="1.2" fill="#34608d"/>
<circle cx="91.92" cy="234.78" r="1.2" fill="#355e8d"/>
<circle cx="91.12" cy="238.70" r="1.2" fill="#2c738e"/>
<circle cx="90.31" cy="242.61" r="1.2" fill="#2e6e8e"/>
<circle cx="89.50" cy="246.53" r="1.2" fill="#2d708e"/>
<circle cx="88.69" cy="250.44" r="1.2" fill="#31668e"/>
<circle cx="87.89" cy="254.35" r="1.2" fill="#306a8e"/>
<circle cx="87.08" cy="258.27" r="1.2" fill="#34608d"/>
<circle cx="86.27" cy="262.18" r="1.2" fill="#31668e"/>
<circle cx="85.46" cy="266.10" r="1.2" fill="#2a778e"/>
<circle cx="84.66" cy="270.01" r="1.2" fill="#287c8e"/>
<circle cx="83.85" cy="273.92" r="1.2" fill="#355f8d"/>
<circle cx="99.83" cy="216.28" r="1.2" fill="#32658e"/>
<circle cx="99.02" cy="220.19" r="1.2" fill="#26818e"/>
<circle cx="98.21" cy="224.11" r="1.2" fill="#2a788e"/>
<circle cx="97.41" cy="228.02" r="1.2" fill="#297b8e"/>
<circle cx="96.60" cy="231.93" r="1.2" fill="#33638d"/>
<circle cx="95.79" cy="235.85" r="1.2" fill="#30698e"/>
<circle cx="94.98" cy="239.76" r="1.2" fill="#34618d"/>
<circle cx="94.18" cy="243.68" r="1.2" fill="#2a768e"/>
<circle cx="93.37" cy="247.59" r="1.2" fill="#32648e"/>
<circle cx="92.56" cy="251.50" r="1.2" fill="#2d708e"/>
<circle cx="91.75" cy="255.42" r="1.2" fill="#287d8e"/>
<circle cx="90.95" cy="259.33" r="1.2" fill="#32648e"/>
<circle cx="90.14" cy="263.25" r="1.2" fill="#2e6e8e"/>
<circle cx="89.33" cy="267.16" r="1.2" fill="#2a778e"/>
<circle cx="88.52" cy="271.07" r="1.2" fill="#27808e"/>
<circle cx="87.72" cy="274.99" r="1.2" fill="#2e6e8e"/>
<circle cx="86.91" cy="278.90" r="1.2" fill="#2e6d8e"/>
<circle cx="103.70" cy="217.34" r="1.2" fill="#355f8d"/>
<circle cx="102.89" cy="221.26" r="1.2" fill="#277e8e"/>
<circle cx="102.08" cy="225.17" r="1.2" fill="#365d8d"/>
<circle cx="101.27" cy="229.08" r="1.2" fill="#375b8d"/>
<circle cx="100.47" cy="233.00" r="1.2" fill="#2e6e8e"/>
<circle cx="99.66" cy="236.91" r="1.2" fill="#306a8e"/>
<circle cx="98.85" cy="240.83" r="1.2" fill="#2d718e"/>
<circle cx="98.04" cy="244.74" r="1.2" fill="#34608d"/>
<circle cx="97.24" cy="248.65" r="1.2" fill="#2c728e"/>
<circle cx="96.43" cy="252.57" r="1.2" fill="#39568c"/>
<circle cx="95.62" cy="256.48" r="1.2" fill="#365d8d"/>
<circle cx="94.81" cy="260.40" r="1.2" fill="#2d708e"/>
<circle cx="94.01" cy="264.31" r="1.2" fill="#375a8c"/>
<circle cx="93.20" cy="268.22" r="1.2" fill="#31668e"/>
<circle cx="92.39" cy="272.14" r="1.2" fill="#2a788e"/>
<circle cx="91.58" cy="276.05" r="1.2" fill="#29798e"/>
<circle cx="90.78" cy="279.97" r="1.2" fill="#2f6b8e"/>
<circle cx="89.97" cy="283.88" r="1.2" fill="#31678e"/>
<circle cx="89.16" cy="287.79" r="1.2" fill="#2d708e"/>
<circle cx="108.37" cy="214.49" r="1.2" fill="#2c738e"/>
<circle cx="107.56" cy="218.41" r="1.2" fill="#32648e"/>
<circle cx="106.76" cy="222.32" r="1.2" fill="#38598c"/>
<circle cx="105.95" cy="226.23" r="1.2" fill="#2d708e"/>
<circle cx="105.14" cy="230.15" r="1.2" fill="#2f6b8e"/>
<circle cx="104.33" cy="234.06" r="1.2" fill="#2a788e"/>
<circle cx="103.53" cy="237.98" r="1.2" fill="#29798e"/>
<circle cx="102.72" cy="241.89" r="1.2" fill="#2a788e"/>
<circle cx="101.91" cy="245.80" r="1.2" fill="#32658e"/>
<circle cx="101.10" cy="249.72" r="1.2" fill="#2c728e"/>
<circle cx="100.30" cy="253.63" r="1.2" fill="#355e8d"/>
<circle cx="99.49" cy="257.55" r="1.2" fill="#355f8d"/>
<circle cx="98.68" cy="261.46" r="1.2" fill="#32648e"/>
<circle cx="97.87" cy="265.37" r="1.2" fill="#287c8e"/>
<circle cx="97.07" cy="269.29" r="1.2" fill="#287d8e"/>
<circle cx="96.26" cy="273.20" r="1.2" fill="#31678e"/>
<circle cx="95.45" cy="277.12" r="1.2" fill="#2e6e8e"/>
<circle cx="94.64" cy="281.03" r="1.2" fill="#2d708e"/>
<circle cx="93.84" cy="284.94" r="1.2" fill="#2d718e"/>
<circle cx="93.03" cy="288.86" r="1.2" fill="#2c738e"/>
<circle cx="92.22" cy="292.77" r="1.2" fill="#2c738e"/>
<circle cx="112.24" cy="215.56" r="1.2" fill="#375a8c"/>
<circle cx="111.43" cy="219.47" r="1.2" fill="#31688e"/>
<circle cx="110.62" cy="223.38" r="1.2" fill="#2e6f8e"/>
<circle cx="109.82" cy="227.30" r="1.2" fill="#32658e"/>
<circle cx="109.01" cy="231.21" r="1.2" fill="#2c718e"/>
<circle cx="108.20" cy="235.13" r="1.2" fill="#31688e"/>
<circle cx="107.39" cy="239.04" r="1.2" fill="#38598c"/>
<circle cx="106.59" cy="242.95" r="1.2" fill="#2d718e"/>
<circle cx="105.78" cy="246.87" r="1.2" fill="#2b748e"/>
<circle cx="104.97" cy="250.78" r="1.2" fill="#375b8d"/>
<circle cx="104.17" cy="254.70" r="1.2" fill="#3c4f8a"/>
<circle cx="103.36" cy="258.61" r="1.2" fill="#32658e"/>
<circle cx="102.55" cy="262.52" r="1.2" fill="#30698e"/>
<circle cx="101.74" cy="266.44" r="1.2" fill="#2e6e8e"/>
<circle cx="100.94" cy="270.35" r="1.2" fill="#26818e"/>
<circle cx="100.13" cy="274.27" r="1.2" fill="#2a788e"/>
<circle cx="99.32" cy="278.18" r="1.2" fill="#26818e"/>
<circle cx="98.51" cy="282.09" r="1.2" fill="#31668e"/>
<circle cx="97.70" cy="286.01" r="1.2" fill="#297a8e"/>
<circle cx="96.90" cy="289.92" r="1.2" fill="#25848e"/>
<circle cx="96.09" cy="293.84" r="1.2" fill="#30698e"/>
<circle cx="116.11" cy="216.62" r="1.2" fill="#3b528b"/>
<circle cx="115.30" cy="220.53" r="1.2" fill="#2f6c8e"/>
<circle cx="114.49" cy="224.45" r="1.2" fill="#2d718e"/>
<circle cx="113.68" cy="228.36" r="1.2" fill="#3d4e8a"/>
<circle cx="112.88" cy="232.28" r="1.2" fill="#31678e"/>
<circle cx="112.07" cy="236.19" r="1.2" fill="#3a548c"/>
<circle cx="111.26" cy="240.10" r="1.2" fill="#2e6f8e"/>
<circle cx="110.45" cy="244.02" r="1.2" fill="#2f6b8e"/>
<circle cx="109.65" cy="247.93" r="1.2" fill="#375a8c"/>
<circle cx="108.84" cy="251.85" r="1.2" fill="#39568c"/>
<circle cx="108.03" cy="255.76" r="1.2" fill="#2f6c8e"/>
<circle cx="107.22" cy="259.67" r="1.2" fill="#33638d"/>
<circle cx="106.42" cy="263.59" r="1.2" fill="#2d718e"/>
<circle cx="105.61" cy="267.50" r="1.2" fill="#31678e"/>
<circle cx="104.80" cy="271.42" r="1.2" fill="#306a8e"/>
<circle cx="103.99" cy="275.33" r="1.2" fill="#24878e"/>
<circle cx="103.19" cy="279.24" r="1.2" fill="#277f8e"/>
<circle cx="102.38" cy="283.16" r="1.2" fill="#29798e"/>
<circle cx="101.57" cy="287.07" r="1.2" fill="#287c8e"/>
<circle cx="100.77" cy="290.99" r="1.2" fill="#25838e"/>
<circle cx="99.96" cy="294.90" r="1.2" fill="#25838e"/>
<circle cx="120.78" cy="213.77" r="1.2" fill="#2c738e"/>
<circle cx="119.97" cy="217.68" r="1.2" fill="#355f8d"/>
<circle cx="119.17" cy="221.60" r="1.2" fill="#2e6e8e"/>
<circle cx="118.36" cy="225.51" r="1.2" fill="#31668e"/>
<circle cx="117.55" cy="229.43" r="1.2" fill="#2e6e8e"/>
<circle cx="116.74" cy="233.34" r="1.2" fill="#2e6e8e"/>
<circle cx="115.94" cy="237.25" r="1.2" fill="#2d718e"/>
<circle cx="115.13" cy="241.17" r="1.2" fill="#2c738e"/>
<circle cx="114.32" cy="245.08" r="1.2" fill="#2a778e"/>
<circle cx="113.51" cy="249.00" r="1.2" fill="#30698e"/>
<circle cx="112.71" cy="252.91" r="1.2" fill="#33628d"/>
<circle cx="111.90" cy="256.82" r="1.2" fill="#31688e"/>
<circle cx="111.09" cy="260.74" r="1.2" fill="#2e6d8e"/>
<circle cx="110.28" cy="264.65" r="1.2" fill="#33638d"/>
<circle cx="109.48" cy="268.57" r="1.2" fill="#2f6b8e"/>
<circle cx="108.67" cy="272.48" r="1.2" fill="#31668e"/>
<circle cx="107.86" cy="276.39" r="1.2" fill="#26828e"/>
<circle cx="107.05" cy="280.31" r="1.2" fill="#218f8d"/>
<circle cx="106.25" cy="284.22" r="1.2" fill="#2a788e"/>
<circle cx="105.44" cy="288.14" r="1.2" fill="#2d718e"/>
<circle cx="104.63" cy="292.05" r="1.2" fill="#2c728e"/>
<circle cx="103.83" cy="295.96" r="1.2" fill="#297a8e"/>
<circle cx="124.65" cy="214.83" r="1.2" fill="#375a8c"/>
<circle cx="123.84" cy="218.75" r="1.2" fill="#2b748e"/>
<circle cx="123.03" cy="222.66" r="1.2" fill="#3d4e8a"/>
<circle cx="122.23" cy="226.58" r="1.2" fill="#38588c"/>
<circle cx="121.42" cy="230.49" r="1.2" fill="#3c508b"/>
<circle cx="120.61" cy="234.40" r="1.2" fill="#31688e"/>
<circle cx="119.80" cy="238.32" r="1.2" fill="#2e6e8e"/>
<circle cx="119.00" cy="242.23" r="1.2" fill="#39568c"/>
<circle cx="118.19" cy="246.15" r="1.2" fill="#3b528b"/>
<circle cx="117.38" cy="250.06" r="1.2" fill="#33628d"/>
<circle cx="116.58" cy="253.97" r="1.2" fill="#32658e"/>
<circle cx="115.77" cy="257.89" r="1.2" fill="#2d718e"/>
<circle cx="114.96" cy="261.80" r="1.2" fill="#3c4f8a"/>
<circle cx="114.15" cy="265.72" r="1.2" fill="#375a8c"/>
<circle cx="113.34" cy="269.63" r="1.2" fill="#31678e"/>
<circle cx="112.54" cy="273.54" r="1.2" fill="#2d708e"/>
<circle cx="111.73" cy="277.46" r="1.2" fill="#2b748e"/>
<circle cx="110.92" cy="281.37" r="1.2" fill="#23898e"/>
<circle cx="110.11" cy="285.29" r="1.2" fill="#25858e"/>
<circle cx="109.31" cy="289.20" r="1.2" fill="#2a768e"/>
<circle cx="108.50" cy="293.11" r="1.2" fill="#2b748e"/>
<circle cx="128.52" cy="215.90" r="1.2" fill="#38598c"/>
<circle cx="127.71" cy="219.81" r="1.2" fill="#3a538b"/>
<circle cx="126.90" cy="223.73" r="1.2" fill="#2f6c8e"/>
<circle cx="126.09" cy="227.64" r="1.2" fill="#38598c"/>
<circle cx="125.29" cy="231.55" r="1.2" fill="#33638d"/>
<circle cx="124.48" cy="235.47" r="1.2" fill="#2e6f8e"/>
<circle cx="123.67" cy="239.38" r="1.2" fill="#33628d"/>
<circle cx="122.86" cy="243.30" r="1.2" fill="#375a8c"/>
<circle cx="122.06" cy="247.21" r="1.2" fill="#2b748e"/>
<circle cx="121.25" cy="251.12" r="1.2" fill="#2b758e"/>
<circle cx="120.44" cy="255.04" r="1.2" fill="#355e8d"/>
<circle cx="119.63" cy="258.95" r="1.2" fill="#31678e"/>
<circle cx="118.83" cy="262.87" r="1.2" fill="#287c8e"/>
<circle cx="118.02" cy="266.78" r="1.2" fill="#2c728e"/>
<circle cx="117.21" cy="270.69" r="1.2" fill="#2c728e"/>
<circle cx="116.40" cy="274.61" r="1.2" fill="#2c728e"/>
<circle cx="115.60" cy="278.52" r="1.2" fill="#1f988b"/>
<circle cx="114.79" cy="282.44" r="1.2" fill="#20928c"/>
<circle cx="113.98" cy="286.35" r="1.2" fill="#26828e"/>
<circle cx="132.38" cy="216.96" r="1.2" fill="#33628d"/>
<circle cx="131.58" cy="220.88" r="1.2" fill="#33628d"/>
<circle cx="130.77" cy="224.79" r="1.2" fill="#38588c"/>
<circle cx="129.96" cy="228.70" r="1.2" fill="#2b748e"/>
<circle cx="129.15" cy="232.62" r="1.2" fill="#31688e"/>
<circle cx="128.35" cy="236.53" r="1.2" fill="#39568c"/>
<circle cx="127.54" cy="240.45" r="1.2" fill="#3d4d8a"/>
<circle cx="126.73" cy="244.36" r="1.2" fill="#33628d"/>
<circle cx="125.92" cy="248.27" r="1.2" fill="#34608d"/>
<circle cx="125.12" cy="252.19" r="1.2" fill="#2c728e"/>
<circle cx="124.31" cy="256.10" r="1.2" fill="#2c718e"/>
<circle cx="123.50" cy="260.02" r="1.2" fill="#2c718e"/>
<circle cx="122.69" cy="263.93" r="1.2" fill="#31688e"/>
<circle cx="121.89" cy="267.84" r="1.2" fill="#2c738e"/>
<circle cx="121.08" cy="271.76" r="1.2" fill="#25848e"/>
<circle cx="120.27" cy="275.67" r="1.2" fill="#24868e"/>
<circle cx="119.46" cy="279.59" r="1.2" fill="#1f9e89"/>
<circle cx="118.66" cy="283.50" r="1.2" fill="#218f8d"/>
<circle cx="136.25" cy="218.03" r="1.2" fill="#31668e"/>
<circle cx="135.44" cy="221.94" r="1.2" fill="#2b748e"/>
<circle cx="134.64" cy="225.85" r="1.2" fill="#39568c"/>
<circle cx="133.83" cy="229.77" r="1.2" fill="#33628d"/>
<circle cx="133.02" cy="233.68" r="1.2" fill="#3b518b"/>
<circle cx="132.21" cy="237.60" r="1.2" fill="#306a8e"/>
<circle cx="131.41" cy="241.51" r="1.2" fill="#3e4989"/>
<circle cx="130.60" cy="245.42" r="1.2" fill="#2e6e8e"/>
<circle cx="129.79" cy="249.34" r="1.2" fill="#2c718e"/>
<circle cx="128.99" cy="253.25" r="1.2" fill="#2b758e"/>
<circle cx="128.18" cy="257.17" r="1.2" fill="#355e8d"/>
<circle cx="127.37" cy="261.08" r="1.2" fill="#2e6e8e"/>
<circle cx="126.56" cy="264.99" r="1.2" fill="#228b8d"/>
<circle cx="125.75" cy="268.91" r="1.2" fill="#26828e"/>
<circle cx="124.95" cy="272.82" r="1.2" fill="#1f998a"/>
<circle cx="124.14" cy="276.74" r="1.2" fill="#1f9a8a"/>
<circle cx="123.33" cy="280.65" r="1.2" fill="#24aa83"/>
<circle cx="122.52" cy="284.56" r="1.2" fill="#1f978b"/>
<circle cx="140.12" cy="219.09" r="1.2" fill="#2e6f8e"/>
<circle cx="139.31" cy="223.00" r="1.2" fill="#38598c"/>
<circle cx="138.50" cy="226.92" r="1.2" fill="#2f6c8e"/>
<circle cx="137.70" cy="230.83" r="1.2" fill="#365c8d"/>
<circle cx="136.89" cy="234.75" r="1.2" fill="#2e6f8e"/>
<circle cx="136.08" cy="238.66" r="1.2" fill="#3e4989"/>
<circle cx="135.27" cy="242.57" r="1.2" fill="#30698e"/>
<circle cx="134.47" cy="246.49" r="1.2" fill="#3c508b"/>
<circle cx="133.66" cy="250.40" r="1.2" fill="#32648e"/>
<circle cx="132.85" cy="254.32" r="1.2" fill="#306a8e"/>
<circle cx="132.05" cy="258.23" r="1.2" fill="#32658e"/>
<circle cx="131.24" cy="262.14" r="1.2" fill="#228b8d"/>
<circle cx="130.43" cy="266.06" r="1.2" fill="#24878e"/>
<circle cx="129.62" cy="269.97" r="1.2" fill="#1f968b"/>
<circle cx="128.81" cy="273.89" r="1.2" fill="#1f948c"/>
<circle cx="128.01" cy="277.80" r="1.2" fill="#1e9c89"/>
<circle cx="127.20" cy="281.71" r="1.2" fill="#1e9d89"/>
<circle cx="143.18" cy="224.07" r="1.2" fill="#30698e"/>
<circle cx="142.37" cy="227.98" r="1.2" fill="#375a8c"/>
<circle cx="141.56" cy="231.90" r="1.2" fill="#32658e"/>
<circle cx="140.76" cy="235.81" r="1.2" fill="#3e4989"/>
<circle cx="139.95" cy="239.72" r="1.2" fill="#3b528b"/>
<circle cx="139.14" cy="243.64" r="1.2" fill="#3a548c"/>
<circle cx="138.33" cy="247.55" r="1.2" fill="#2f6c8e"/>
<circle cx="137.53" cy="251.47" r="1.2" fill="#2f6c8e"/>
<circle cx="136.72" cy="255.38" r="1.2" fill="#2e6f8e"/>
<circle cx="135.91" cy="259.29" r="1.2" fill="#34618d"/>
<circle cx="135.11" cy="263.21" r="1.2" fill="#277f8e"/>
<circle cx="134.30" cy="267.12" r="1.2" fill="#1e9d89"/>
<circle cx="133.49" cy="271.04" r="1.2" fill="#1f988b"/>
<circle cx="132.68" cy="274.95" r="1.2" fill="#25ab82"/>
<circle cx="145.43" cy="232.96" r="1.2" fill="#375a8c"/>
<circle cx="144.62" cy="236.87" r="1.2" fill="#424186"/>
<circle cx="143.82" cy="240.79" r="1.2" fill="#30698e"/>
<circle cx="143.01" cy="244.70" r="1.2" fill="#355f8d"/>
<circle cx="142.20" cy="248.62" r="1.2" fill="#3f4788"/>
<circle cx="141.39" cy="252.53" r="1.2" fill="#33628d"/>
<circle cx="140.59" cy="256.44" r="1.2" fill="#355f8d"/>
<circle cx="139.78" cy="260.36" r="1.2" fill="#2d718e"/>
<circle cx="138.97" cy="264.27" r="1.2" fill="#24868e"/>
<circle cx="138.16" cy="268.19" r="1.2" fill="#228d8d"/>
<circle cx="137.36" cy="272.10" r="1.2" fill="#1e9b8a"/>
<circle cx="147.69" cy="241.85" r="1.2" fill="#3c4f8a"/>
<circle cx="146.88" cy="245.77" r="1.2" fill="#375a8c"/>
<circle cx="146.07" cy="249.68" r="1.2" fill="#3e4a89"/>
<circle cx="145.26" cy="253.59" r="1.2" fill="#3c508b"/>
<circle cx="144.45" cy="257.51" r="1.2" fill="#2c718e"/>
<circle cx="143.65" cy="261.42" r="1.2" fill="#2e6f8e"/>
<circle cx="142.84" cy="265.34" r="1.2" fill="#1f958b"/>
<circle cx="142.03" cy="269.25" r="1.2" fill="#1f948c"/>
<circle cx="149.94" cy="250.74" r="1.2" fill="#33628d"/>
<circle cx="149.13" cy="254.66" r="1.2" fill="#38598c"/>
<circle cx="148.32" cy="258.57" r="1.2" fill="#2a768e"/>
<circle cx="139.69" cy="212.29" r="1.2" fill="#3d4e8a"/>
<rect x="33.00" y="225.80" width="95.40" height="91.60" fill="#5a5a5a" filter="url(#shd)"/>
<rect x="32.60" y="224.00" width="95.40" height="91.60" fill="#ffffff" stroke="#e4e4e4" stroke-width="0.5"/>
<circle cx="39.42" cy="244.80" r="1.2" fill="#26828e"/>
<circle cx="43.29" cy="245.86" r="1.2" fill="#26818e"/>
<circle cx="42.48" cy="249.78" r="1.2" fill="#1f968b"/>
<circle cx="46.35" cy="250.84" r="1.2" fill="#1f978b"/>
<circle cx="45.54" cy="254.76" r="1.2" fill="#277f8e"/>
<circle cx="50.21" cy="251.91" r="1.2" fill="#23888e"/>
<circle cx="49.41" cy="255.82" r="1.2" fill="#1f948c"/>
<circle cx="55.70" cy="245.14" r="1.2" fill="#20938c"/>
<circle cx="54.89" cy="249.06" r="1.2" fill="#277e8e"/>
<circle cx="54.08" cy="252.97" r="1.2" fill="#27808e"/>
<circle cx="53.27" cy="256.88" r="1.2" fill="#2a768e"/>
<circle cx="52.47" cy="260.80" r="1.2" fill="#2d708e"/>
<circle cx="51.66" cy="264.71" r="1.2" fill="#297b8e"/>
<circle cx="50.85" cy="268.63" r="1.2" fill="#2c738e"/>
<circle cx="50.05" cy="272.54" r="1.2" fill="#1f978b"/>
<circle cx="49.24" cy="276.45" r="1.2" fill="#24878e"/>
<circle cx="60.37" cy="242.29" r="1.2" fill="#20928c"/>
<circle cx="59.56" cy="246.21" r="1.2" fill="#1f9a8a"/>
<circle cx="58.76" cy="250.12" r="1.2" fill="#1e9b8a"/>
<circle cx="57.95" cy="254.03" r="1.2" fill="#1f968b"/>
<circle cx="57.14" cy="257.95" r="1.2" fill="#277f8e"/>
<circle cx="56.34" cy="261.86" r="1.2" fill="#2a778e"/>
<circle cx="55.53" cy="265.78" r="1.2" fill="#287c8e"/>
<circle cx="54.72" cy="269.69" r="1.2" fill="#2d718e"/>
<circle cx="53.91" cy="273.60" r="1.2" fill="#27808e"/>
<circle cx="53.11" cy="277.52" r="1.2" fill="#238a8d"/>
<circle cx="52.30" cy="281.43" r="1.2" fill="#1e9c89"/>
<circle cx="51.49" cy="285.35" r="1.2" fill="#21a685"/>
<circle cx="65.85" cy="235.53" r="1.2" fill="#218f8d"/>
<circle cx="65.05" cy="239.44" r="1.2" fill="#20928c"/>
<circle cx="64.24" cy="243.36" r="1.2" fill="#25848e"/>
<circle cx="63.43" cy="247.27" r="1.2" fill="#1f948c"/>
<circle cx="62.62" cy="251.18" r="1.2" fill="#218e8d"/>
<circle cx="61.82" cy="255.10" r="1.2" fill="#21908d"/>
<circle cx="61.01" cy="259.01" r="1.2" fill="#2b748e"/>
<circle cx="60.20" cy="262.93" r="1.2" fill="#287d8e"/>
<circle cx="59.39" cy="266.84" r="1.2" fill="#26828e"/>
<circle cx="58.59" cy="270.75" r="1.2" fill="#218e8d"/>
<circle cx="57.78" cy="274.67" r="1.2" fill="#238a8d"/>
<circle cx="56.97" cy="278.58" r="1.2" fill="#2a788e"/>
<circle cx="56.16" cy="282.50" r="1.2" fill="#2d718e"/>
<circle cx="55.36" cy="286.41" r="1.2" fill="#21a685"/>
<circle cx="54.55" cy="290.32" r="1.2" fill="#56c667"/>
<circle cx="70.53" cy="232.68" r="1.2" fill="#25858e"/>
<circle cx="69.72" cy="236.59" r="1.2" fill="#26818e"/>
<circle cx="68.91" cy="240.51" r="1.2" fill="#228c8d"/>
<circle cx="68.11" cy="244.42" r="1.2" fill="#24878e"/>
<circle cx="67.30" cy="248.33" r="1.2" fill="#1fa187"/>
<circle cx="66.49" cy="252.25" r="1.2" fill="#20a386"/>
<circle cx="65.68" cy="256.16" r="1.2" fill="#23888e"/>
<circle cx="64.88" cy="260.08" r="1.2" fill="#228b8d"/>
<circle cx="64.07" cy="263.99" r="1.2" fill="#218f8d"/>
<circle cx="63.26" cy="267.90" r="1.2" fill="#2a778e"/>
<circle cx="62.45" cy="271.82" r="1.2" fill="#20938c"/>
<circle cx="61.65" cy="275.73" r="1.2" fill="#277f8e"/>
<circle cx="60.84" cy="279.65" r="1.2" fill="#34618d"/>
<circle cx="60.03" cy="283.56" r="1.2" fill="#2f6c8e"/>
<circle cx="59.22" cy="287.47" r="1.2" fill="#1f988b"/>
<circle cx="58.42" cy="291.39" r="1.2" fill="#50c46a"/>
<circle cx="57.61" cy="295.30" r="1.2" fill="#8bd646"/>
<circle cx="74.40" cy="233.74" r="1.2" fill="#287d8e"/>
<circle cx="73.59" cy="237.66" r="1.2" fill="#1f948c"/>
<circle cx="72.78" cy="241.57" r="1.2" fill="#26828e"/>
<circle cx="71.97" cy="245.48" r="1.2" fill="#228b8d"/>
<circle cx="71.17" cy="249.40" r="1.2" fill="#277f8e"/>
<circle cx="70.36" cy="253.31" r="1.2" fill="#1f9a8a"/>
<circle cx="69.55" cy="257.23" r="1.2" fill="#2c738e"/>
<circle cx="68.74" cy="261.14" r="1.2" fill="#218e8d"/>
<circle cx="67.94" cy="265.05" r="1.2" fill="#26818e"/>
<circle cx="67.13" cy="268.97" r="1.2" fill="#25848e"/>
<circle cx="66.32" cy="272.88" r="1.2" fill="#24868e"/>
<circle cx="65.51" cy="276.80" r="1.2" fill="#2a788e"/>
<circle cx="64.71" cy="280.71" r="1.2" fill="#218f8d"/>
<circle cx="63.90" cy="284.62" r="1.2" fill="#1fa187"/>
<circle cx="63.09" cy="288.54" r="1.2" fill="#34b679"/>
<circle cx="62.28" cy="292.45" r="1.2" fill="#58c765"/>
<circle cx="61.48" cy="296.37" r="1.2" fill="#50c46a"/>
<circle cx="60.67" cy="300.28" r="1.2" fill="#a5db36"/>
<circle cx="59.86" cy="304.19" r="1.2" fill="#70cf57"/>
<circle cx="79.07" cy="230.89" r="1.2" fill="#20928c"/>
<circle cx="78.26" cy="234.81" r="1.2" fill="#297a8e"/>
<circle cx="77.46" cy="238.72" r="1.2" fill="#25838e"/>
<circle cx="76.65" cy="242.63" r="1.2" fill="#228d8d"/>
<circle cx="75.84" cy="246.55" r="1.2" fill="#2b748e"/>
<circle cx="75.03" cy="250.46" r="1.2" fill="#26828e"/>
<circle cx="74.23" cy="254.38" r="1.2" fill="#2f6c8e"/>
<circle cx="73.42" cy="258.29" r="1.2" fill="#32658e"/>
<circle cx="72.61" cy="262.20" r="1.2" fill="#31688e"/>
<circle cx="71.80" cy="266.12" r="1.2" fill="#238a8d"/>
<circle cx="71.00" cy="270.03" r="1.2" fill="#21908d"/>
<circle cx="70.19" cy="273.95" r="1.2" fill="#228d8d"/>
<circle cx="69.38" cy="277.86" r="1.2" fill="#25858e"/>
<circle cx="68.57" cy="281.77" r="1.2" fill="#1e9b8a"/>
<circle cx="67.77" cy="285.69" r="1.2" fill="#24aa83"/>
<circle cx="66.96" cy="289.60" r="1.2" fill="#25ac82"/>
<circle cx="66.15" cy="293.52" r="1.2" fill="#52c569"/>
<circle cx="65.34" cy="297.43" r="1.2" fill="#98d83e"/>
<circle cx="64.54" cy="301.34" r="1.2" fill="#7ad151"/>
<circle cx="63.73" cy="305.26" r="1.2" fill="#7ad151"/>
<circle cx="62.92" cy="309.17" r="1.2" fill="#81d34d"/>
<circle cx="82.94" cy="231.96" r="1.2" fill="#2c728e"/>
<circle cx="82.13" cy="235.87" r="1.2" fill="#297b8e"/>
<circle cx="81.32" cy="239.78" r="1.2" fill="#277e8e"/>
<circle cx="80.52" cy="243.70" r="1.2" fill="#306a8e"/>
<circle cx="79.71" cy="247.61" r="1.2" fill="#2b748e"/>
<circle cx="78.90" cy="251.53" r="1.2" fill="#306a8e"/>
<circle cx="78.09" cy="255.44" r="1.2" fill="#2c738e"/>
<circle cx="77.29" cy="259.35" r="1.2" fill="#32648e"/>
<circle cx="76.48" cy="263.27" r="1.2" fill="#2f6b8e"/>
<circle cx="75.67" cy="267.18" r="1.2" fill="#38588c"/>
<circle cx="74.87" cy="271.10" r="1.2" fill="#26818e"/>
<circle cx="74.06" cy="275.01" r="1.2" fill="#297b8e"/>
<circle cx="73.25" cy="278.92" r="1.2" fill="#22a785"/>
<circle cx="72.44" cy="282.84" r="1.2" fill="#21a585"/>
<circle cx="71.64" cy="286.75" r="1.2" fill="#23a983"/>
<circle cx="70.83" cy="290.67" r="1.2" fill="#27ad81"/>
<circle cx="70.02" cy="294.58" r="1.2" fill="#50c46a"/>
<circle cx="69.21" cy="298.49" r="1.2" fill="#86d549"/>
<circle cx="68.41" cy="302.41" r="1.2" fill="#b2dd2d"/>
<circle cx="67.60" cy="306.32" r="1.2" fill="#b8de29"/>
<circle cx="66.79" cy="310.24" r="1.2" fill="#93d741"/>
<circle cx="86.81" cy="233.02" r="1.2" fill="#228c8d"/>
<circle cx="86.00" cy="236.93" r="1.2" fill="#25838e"/>
<circle cx="85.19" cy="240.85" r="1.2" fill="#277e8e"/>
<circle cx="84.38" cy="244.76" r="1.2" fill="#31668e"/>
<circle cx="83.58" cy="248.68" r="1.2" fill="#33628d"/>
<circle cx="82.77" cy="252.59" r="1.2" fill="#30698e"/>
<circle cx="81.96" cy="256.50" r="1.2" fill="#2a778e"/>
<circle cx="81.16" cy="260.42" r="1.2" fill="#34618d"/>
<circle cx="80.35" cy="264.33" r="1.2" fill="#39558c"/>
<circle cx="79.54" cy="268.25" r="1.2" fill="#365d8d"/>
<circle cx="78.73" cy="272.16" r="1.2" fill="#24868e"/>
<circle cx="77.92" cy="276.07" r="1.2" fill="#25838e"/>
<circle cx="77.12" cy="279.99" r="1.2" fill="#238a8d"/>
<circle cx="76.31" cy="283.90" r="1.2" fill="#2ab07f"/>
<circle cx="75.50" cy="287.82" r="1.2" fill="#3dbc74"/>
<circle cx="74.69" cy="291.73" r="1.2" fill="#37b878"/>
<circle cx="73.89" cy="295.64" r="1.2" fill="#46c06f"/>
<circle cx="73.08" cy="299.56" r="1.2" fill="#77d153"/>
<circle cx="72.27" cy="303.47" r="1.2" fill="#73d056"/>
<circle cx="71.47" cy="307.39" r="1.2" fill="#b8de29"/>
<circle cx="70.66" cy="311.30" r="1.2" fill="#6ece58"/>
<circle cx="91.48" cy="230.17" r="1.2" fill="#34618d"/>
<circle cx="90.67" cy="234.08" r="1.2" fill="#2f6c8e"/>
<circle cx="89.87" cy="238.00" r="1.2" fill="#2f6b8e"/>
<circle cx="89.06" cy="241.91" r="1.2" fill="#34608d"/>
<circle cx="88.25" cy="245.83" r="1.2" fill="#404688"/>
<circle cx="87.44" cy="249.74" r="1.2" fill="#375b8d"/>
<circle cx="86.64" cy="253.65" r="1.2" fill="#375a8c"/>
<circle cx="85.83" cy="257.57" r="1.2" fill="#39568c"/>
<circle cx="85.02" cy="261.48" r="1.2" fill="#39558c"/>
<circle cx="84.21" cy="265.40" r="1.2" fill="#3b518b"/>
<circle cx="83.41" cy="269.31" r="1.2" fill="#38588c"/>
<circle cx="82.60" cy="273.22" r="1.2" fill="#30698e"/>
<circle cx="81.79" cy="277.14" r="1.2" fill="#1e9d89"/>
<circle cx="80.98" cy="281.05" r="1.2" fill="#28ae80"/>
<circle cx="80.18" cy="284.97" r="1.2" fill="#28ae80"/>
<circle cx="79.37" cy="288.88" r="1.2" fill="#3aba76"/>
<circle cx="78.56" cy="292.79" r="1.2" fill="#28ae80"/>
<circle cx="77.75" cy="296.71" r="1.2" fill="#54c568"/>
<circle cx="76.95" cy="300.62" r="1.2" fill="#3aba76"/>
<circle cx="76.14" cy="304.54" r="1.2" fill="#86d549"/>
<circle cx="75.33" cy="308.45" r="1.2" fill="#93d741"/>
<circle cx="74.53" cy="312.36" r="1.2" fill="#addc30"/>
<circle cx="95.35" cy="231.23" r="1.2" fill="#3a538b"/>
<circle cx="94.54" cy="235.15" r="1.2" fill="#2e6d8e"/>
<circle cx="93.73" cy="239.06" r="1.2" fill="#3d4e8a"/>
<circle cx="92.93" cy="242.98" r="1.2" fill="#375b8d"/>
<circle cx="92.12" cy="246.89" r="1.2" fill="#33628d"/>
<circle cx="91.31" cy="250.80" r="1.2" fill="#472c7a"/>
<circle cx="90.50" cy="254.72" r="1.2" fill="#414487"/>
<circle cx="89.70" cy="258.63" r="1.2" fill="#38588c"/>
<circle cx="88.89" cy="262.55" r="1.2" fill="#365d8d"/>
<circle cx="88.08" cy="266.46" r="1.2" fill="#3b528b"/>
<circle cx="87.28" cy="270.37" r="1.2" fill="#277f8e"/>
<circle cx="86.47" cy="274.29" r="1.2" fill="#228c8d"/>
<circle cx="85.66" cy="278.20" r="1.2" fill="#228b8d"/>
<circle cx="84.85" cy="282.12" r="1.2" fill="#1f968b"/>
<circle cx="84.04" cy="286.03" r="1.2" fill="#23a983"/>
<circle cx="83.24" cy="289.94" r="1.2" fill="#1e9b8a"/>
<circle cx="82.43" cy="293.86" r="1.2" fill="#1fa287"/>
<circle cx="81.62" cy="297.77" r="1.2" fill="#60ca60"/>
<circle cx="80.81" cy="301.69" r="1.2" fill="#37b878"/>
<circle cx="80.01" cy="305.60" r="1.2" fill="#52c569"/>
<circle cx="79.20" cy="309.51" r="1.2" fill="#8ed645"/>
<circle cx="99.22" cy="232.30" r="1.2" fill="#2f6b8e"/>
<circle cx="98.41" cy="236.21" r="1.2" fill="#3c4f8a"/>
<circle cx="97.60" cy="240.13" r="1.2" fill="#414287"/>
<circle cx="96.79" cy="244.04" r="1.2" fill="#3e4989"/>
<circle cx="95.99" cy="247.95" r="1.2" fill="#34608d"/>
<circle cx="95.18" cy="251.87" r="1.2" fill="#375b8d"/>
<circle cx="94.37" cy="255.78" r="1.2" fill="#3f4788"/>
<circle cx="93.56" cy="259.70" r="1.2" fill="#2d718e"/>
<circle cx="92.76" cy="263.61" r="1.2" fill="#32658e"/>
<circle cx="91.95" cy="267.52" r="1.2" fill="#2d708e"/>
<circle cx="91.14" cy="271.44" r="1.2" fill="#2e6d8e"/>
<circle cx="90.33" cy="275.35" r="1.2" fill="#20938c"/>
<circle cx="89.53" cy="279.27" r="1.2" fill="#20a486"/>
<circle cx="88.72" cy="283.18" r="1.2" fill="#21908d"/>
<circle cx="87.91" cy="287.09" r="1.2" fill="#22a884"/>
<circle cx="87.10" cy="291.01" r="1.2" fill="#1f9e89"/>
<circle cx="86.30" cy="294.92" r="1.2" fill="#48c16e"/>
<circle cx="85.49" cy="298.84" r="1.2" fill="#26ad81"/>
<circle cx="84.68" cy="302.75" r="1.2" fill="#2ab07f"/>
<circle cx="103.09" cy="233.36" r="1.2" fill="#3b528b"/>
<circle cx="102.28" cy="237.28" r="1.2" fill="#46337f"/>
<circle cx="101.47" cy="241.19" r="1.2" fill="#3b518b"/>
<circle cx="100.66" cy="245.10" r="1.2" fill="#365c8d"/>
<circle cx="99.85" cy="249.02" r="1.2" fill="#365c8d"/>
<circle cx="99.05" cy="252.93" r="1.2" fill="#404588"/>
<circle cx="98.24" cy="256.85" r="1.2" fill="#31678e"/>
<circle cx="97.43" cy="260.76" r="1.2" fill="#297a8e"/>
<circle cx="96.62" cy="264.67" r="1.2" fill="#2e6f8e"/>
<circle cx="95.82" cy="268.59" r="1.2" fill="#31678e"/>
<circle cx="95.01" cy="272.50" r="1.2" fill="#2b748e"/>
<circle cx="94.20" cy="276.42" r="1.2" fill="#26818e"/>
<circle cx="93.39" cy="280.33" r="1.2" fill="#1e9b8a"/>
<circle cx="92.59" cy="284.24" r="1.2" fill="#21908d"/>
<circle cx="91.78" cy="288.16" r="1.2" fill="#20938c"/>
<circle cx="90.97" cy="292.07" r="1.2" fill="#1f998a"/>
<circle cx="90.16" cy="295.99" r="1.2" fill="#2eb37c"/>
<circle cx="89.36" cy="299.90" r="1.2" fill="#4ac16d"/>
<circle cx="106.95" cy="234.43" r="1.2" fill="#453781"/>
<circle cx="106.15" cy="238.34" r="1.2" fill="#453581"/>
<circle cx="105.34" cy="242.25" r="1.2" fill="#414487"/>
<circle cx="104.53" cy="246.17" r="1.2" fill="#3e4a89"/>
<circle cx="103.72" cy="250.08" r="1.2" fill="#3e4989"/>
<circle cx="102.91" cy="254.00" r="1.2" fill="#39558c"/>
<circle cx="102.11" cy="257.91" r="1.2" fill="#2a778e"/>
<circle cx="101.30" cy="261.82" r="1.2" fill="#2b758e"/>
<circle cx="100.49" cy="265.74" r="1.2" fill="#2e6d8e"/>
<circle cx="99.69" cy="269.65" r="1.2" fill="#27808e"/>
<circle cx="98.88" cy="273.57" r="1.2" fill="#2d718e"/>
<circle cx="98.07" cy="277.48" r="1.2" fill="#1e9c89"/>
<circle cx="97.26" cy="281.39" r="1.2" fill="#21918c"/>
<circle cx="96.45" cy="285.31" r="1.2" fill="#1e9c89"/>
<circle cx="95.65" cy="289.22" r="1.2" fill="#1f9e89"/>
<circle cx="94.84" cy="293.14" r="1.2" fill="#228c8d"/>
<circle cx="94.03" cy="297.05" r="1.2" fill="#24aa83"/>
<circle cx="93.22" cy="300.96" r="1.2" fill="#22a785"/>
<circle cx="110.82" cy="235.49" r="1.2" fill="#472f7d"/>
<circle cx="110.01" cy="239.40" r="1.2" fill="#423f85"/>
<circle cx="109.20" cy="243.32" r="1.2" fill="#482071"/>
<circle cx="108.40" cy="247.23" r="1.2" fill="#423f85"/>
<circle cx="107.59" cy="251.15" r="1.2" fill="#32648e"/>
<circle cx="106.78" cy="255.06" r="1.2" fill="#375a8c"/>
<circle cx="105.97" cy="258.97" r="1.2" fill="#32648e"/>
<circle cx="105.17" cy="262.89" r="1.2" fill="#2a768e"/>
<circle cx="104.36" cy="266.80" r="1.2" fill="#2f6c8e"/>
<circle cx="103.55" cy="270.72" r="1.2" fill="#238a8d"/>
<circle cx="102.75" cy="274.63" r="1.2" fill="#20928c"/>
<circle cx="101.94" cy="278.54" r="1.2" fill="#2a778e"/>
<circle cx="101.13" cy="282.46" r="1.2" fill="#20928c"/>
<circle cx="100.32" cy="286.37" r="1.2" fill="#20a386"/>
<circle cx="99.51" cy="290.29" r="1.2" fill="#1f988b"/>
<circle cx="98.71" cy="294.20" r="1.2" fill="#27ad81"/>
<circle cx="97.90" cy="298.11" r="1.2" fill="#20a386"/>
<circle cx="113.88" cy="240.47" r="1.2" fill="#472e7c"/>
<circle cx="113.07" cy="244.38" r="1.2" fill="#3f4788"/>
<circle cx="112.26" cy="248.30" r="1.2" fill="#38598c"/>
<circle cx="111.46" cy="252.21" r="1.2" fill="#375a8c"/>
<circle cx="110.65" cy="256.12" r="1.2" fill="#2d708e"/>
<circle cx="109.84" cy="260.04" r="1.2" fill="#287d8e"/>
<circle cx="109.03" cy="263.95" r="1.2" fill="#2a778e"/>
<circle cx="108.23" cy="267.87" r="1.2" fill="#2a788e"/>
<circle cx="107.42" cy="271.78" r="1.2" fill="#24868e"/>
<circle cx="106.61" cy="275.69" r="1.2" fill="#25858e"/>
<circle cx="105.81" cy="279.61" r="1.2" fill="#23898e"/>
<circle cx="105.00" cy="283.52" r="1.2" fill="#20a386"/>
<circle cx="104.19" cy="287.44" r="1.2" fill="#228c8d"/>
<circle cx="103.38" cy="291.35" r="1.2" fill="#22a785"/>
<circle cx="116.13" cy="249.36" r="1.2" fill="#3d4d8a"/>
<circle cx="115.32" cy="253.27" r="1.2" fill="#306a8e"/>
<circle cx="114.52" cy="257.19" r="1.2" fill="#33638d"/>
<circle cx="113.71" cy="261.10" r="1.2" fill="#2c728e"/>
<circle cx="112.90" cy="265.02" r="1.2" fill="#26828e"/>
<circle cx="112.09" cy="268.93" r="1.2" fill="#25838e"/>
<circle cx="111.29" cy="272.84" r="1.2" fill="#25848e"/>
<circle cx="110.48" cy="276.76" r="1.2" fill="#2b748e"/>
<circle cx="109.67" cy="280.67" r="1.2" fill="#24878e"/>
<circle cx="108.86" cy="284.59" r="1.2" fill="#25858e"/>
<circle cx="108.06" cy="288.50" r="1.2" fill="#1f9a8a"/>
<circle cx="118.38" cy="258.25" r="1.2" fill="#2c718e"/>
<circle cx="117.58" cy="262.17" r="1.2" fill="#32648e"/>
<circle cx="116.77" cy="266.08" r="1.2" fill="#287d8e"/>
<circle cx="115.96" cy="269.99" r="1.2" fill="#26828e"/>
<circle cx="115.16" cy="273.91" r="1.2" fill="#277f8e"/>
<circle cx="114.35" cy="277.82" r="1.2" fill="#21908d"/>
<circle cx="113.54" cy="281.74" r="1.2" fill="#287c8e"/>
<circle cx="112.73" cy="285.65" r="1.2" fill="#26828e"/>
<circle cx="120.64" cy="267.14" r="1.2" fill="#31688e"/>
<circle cx="119.83" cy="271.06" r="1.2" fill="#287c8e"/>
<circle cx="119.02" cy="274.97" r="1.2" fill="#287d8e"/>
<circle cx="110.40" cy="228.69" r="1.2" fill="#3b518b"/>
<rect x="87.40" y="231.50" width="13.70" height="14.00" fill="none" stroke="#000000" stroke-width="1.5"/>
<rect x="82.80" y="253.70" width="13.80" height="14.30" fill="none" stroke="#ff0000" stroke-width="1.5"/>
<rect x="69.70" y="280.40" width="13.60" height="14.60" fill="none" stroke="#0000ff" stroke-width="1.5"/>
<rect x="234.55" y="184.85" width="101.30" height="100.05" fill="none" stroke="#000000" stroke-width="3.5"/>
<rect x="268.50" y="189.50" width="60.00" height="69.30" fill="none" stroke="#a0a0a0" stroke-width="0.6"/>
<line x1="265.70" y1="214.30" x2="268.50" y2="214.30" stroke="#777" stroke-width="0.6"/>
<text x="264.30" y="217.10" font-size="8.0" text-anchor="end" fill="#333333">0</text>
<line x1="265.70" y1="258.40" x2="268.50" y2="258.40" stroke="#777" stroke-width="0.6"/>
<text x="264.30" y="261.20" font-size="8.0" text-anchor="end" fill="#333333">−0.5</text>
<line x1="270.80" y1="258.80" x2="270.80" y2="261.40" stroke="#777" stroke-width="0.6"/>
<text x="270.80" y="270.80" font-size="8.0" text-anchor="middle" fill="#333333">1</text>
<line x1="289.07" y1="258.80" x2="289.07" y2="261.40" stroke="#777" stroke-width="0.6"/>
<text x="289.07" y="270.80" font-size="8.0" text-anchor="middle" fill="#333333">2</text>
<line x1="307.34" y1="258.80" x2="307.34" y2="261.40" stroke="#777" stroke-width="0.6"/>
<text x="307.34" y="270.80" font-size="8.0" text-anchor="middle" fill="#333333">3</text>
<line x1="325.61" y1="258.80" x2="325.61" y2="261.40" stroke="#777" stroke-width="0.6"/>
<text x="325.61" y="270.80" font-size="8.0" text-anchor="middle" fill="#333333">4</text>
<text x="298.50" y="281.60" font-size="8.0" text-anchor="middle" fill="#333333">Slice index</text>
<text x="244.10" y="223.15" font-size="8.0" text-anchor="middle" fill="#333333" textLength="67" lengthAdjust="spacingAndGlyphs" transform="rotate(-90 244.10 223.15)"><tspan font-style="italic">PRSS23</tspan> expression</text>
<circle cx="270.80" cy="248.70" r="0.9" fill="#000"/>
<circle cx="270.80" cy="253.55" r="0.9" fill="#000"/>
<circle cx="270.80" cy="254.87" r="0.9" fill="#000"/>
<circle cx="270.80" cy="255.75" r="0.9" fill="#000"/>
<circle cx="289.07" cy="200.89" r="0.9" fill="#000"/>
<circle cx="289.07" cy="217.12" r="0.9" fill="#000"/>
<circle cx="289.07" cy="226.38" r="0.9" fill="#000"/>
<circle cx="289.07" cy="228.59" r="0.9" fill="#000"/>
<circle cx="289.07" cy="230.09" r="0.9" fill="#000"/>
<circle cx="307.34" cy="204.95" r="0.9" fill="#000"/>
<circle cx="307.34" cy="233.09" r="0.9" fill="#000"/>
<circle cx="307.34" cy="234.85" r="0.9" fill="#000"/>
<circle cx="307.34" cy="244.46" r="0.9" fill="#000"/>
<circle cx="307.34" cy="252.93" r="0.9" fill="#000"/>
<circle cx="325.61" cy="192.60" r="0.9" fill="#000"/>
<circle cx="325.61" cy="218.45" r="0.9" fill="#000"/>
<circle cx="325.61" cy="220.21" r="0.9" fill="#000"/>
<circle cx="325.61" cy="224.71" r="0.9" fill="#000"/>
<circle cx="325.61" cy="243.32" r="0.9" fill="#000"/>
<rect x="341.85" y="184.90" width="97.85" height="100.00" fill="none" stroke="#ff0000" stroke-width="3.5"/>
<rect x="375.50" y="191.30" width="58.10" height="67.80" fill="none" stroke="#a0a0a0" stroke-width="0.6"/>
<line x1="372.70" y1="206.20" x2="375.50" y2="206.20" stroke="#777" stroke-width="0.6"/>
<text x="371.30" y="209.00" font-size="8.0" text-anchor="end" fill="#333333">0.5</text>
<line x1="372.70" y1="228.10" x2="375.50" y2="228.10" stroke="#777" stroke-width="0.6"/>
<text x="371.30" y="230.90" font-size="8.0" text-anchor="end" fill="#333333">0</text>
<line x1="372.70" y1="250.00" x2="375.50" y2="250.00" stroke="#777" stroke-width="0.6"/>
<text x="371.30" y="252.80" font-size="8.0" text-anchor="end" fill="#333333">−0.5</text>
<line x1="377.60" y1="259.10" x2="377.60" y2="261.70" stroke="#777" stroke-width="0.6"/>
<text x="377.60" y="270.80" font-size="8.0" text-anchor="middle" fill="#333333">1</text>
<line x1="395.30" y1="259.10" x2="395.30" y2="261.70" stroke="#777" stroke-width="0.6"/>
<text x="395.30" y="270.80" font-size="8.0" text-anchor="middle" fill="#333333">2</text>
<line x1="413.00" y1="259.10" x2="413.00" y2="261.70" stroke="#777" stroke-width="0.6"/>
<text x="413.00" y="270.80" font-size="8.0" text-anchor="middle" fill="#333333">3</text>
<line x1="430.70" y1="259.10" x2="430.70" y2="261.70" stroke="#777" stroke-width="0.6"/>
<text x="430.70" y="270.80" font-size="8.0" text-anchor="middle" fill="#333333">4</text>
<text x="404.55" y="281.60" font-size="8.0" text-anchor="middle" fill="#333333">Slice index</text>
<text x="351.00" y="224.20" font-size="8.0" text-anchor="middle" fill="#333333" textLength="67" lengthAdjust="spacingAndGlyphs" transform="rotate(-90 351.00 224.20)"><tspan font-style="italic">PRSS23</tspan> expression</text>
<circle cx="377.60" cy="194.37" r="0.9" fill="#000"/>
<circle cx="377.60" cy="198.75" r="0.9" fill="#000"/>
<circle cx="377.60" cy="200.07" r="0.9" fill="#000"/>
<circle cx="377.60" cy="200.51" r="0.9" fill="#000"/>
<circle cx="377.60" cy="217.59" r="0.9" fill="#000"/>
<circle cx="377.60" cy="225.47" r="0.9" fill="#000"/>
<circle cx="395.30" cy="211.68" r="0.9" fill="#000"/>
<circle cx="395.30" cy="222.49" r="0.9" fill="#000"/>
<circle cx="395.30" cy="229.98" r="0.9" fill="#000"/>
<circle cx="395.30" cy="233.49" r="0.9" fill="#000"/>
<circle cx="413.00" cy="226.92" r="0.9" fill="#000"/>
<circle cx="413.00" cy="235.33" r="0.9" fill="#000"/>
<circle cx="413.00" cy="242.12" r="0.9" fill="#000"/>
<circle cx="413.00" cy="255.69" r="0.9" fill="#000"/>
<circle cx="430.70" cy="198.75" r="0.9" fill="#000"/>
<circle cx="430.70" cy="204.01" r="0.9" fill="#000"/>
<circle cx="430.70" cy="207.95" r="0.9" fill="#000"/>
<circle cx="430.70" cy="214.08" r="0.9" fill="#000"/>
<rect x="447.60" y="186.50" width="100.65" height="97.95" fill="none" stroke="#0000ff" stroke-width="4.8"/>
<rect x="472.90" y="191.30" width="70.80" height="67.80" fill="none" stroke="#a0a0a0" stroke-width="0.6"/>
<line x1="470.10" y1="210.90" x2="472.90" y2="210.90" stroke="#777" stroke-width="0.6"/>
<text x="468.70" y="213.70" font-size="8.0" text-anchor="end" fill="#333333">1</text>
<line x1="470.10" y1="240.70" x2="472.90" y2="240.70" stroke="#777" stroke-width="0.6"/>
<text x="468.70" y="243.50" font-size="8.0" text-anchor="end" fill="#333333">0</text>
<line x1="475.70" y1="259.10" x2="475.70" y2="261.70" stroke="#777" stroke-width="0.6"/>
<text x="475.70" y="270.80" font-size="8.0" text-anchor="middle" fill="#333333">1</text>
<line x1="497.40" y1="259.10" x2="497.40" y2="261.70" stroke="#777" stroke-width="0.6"/>
<text x="497.40" y="270.80" font-size="8.0" text-anchor="middle" fill="#333333">2</text>
<line x1="519.10" y1="259.10" x2="519.10" y2="261.70" stroke="#777" stroke-width="0.6"/>
<text x="519.10" y="270.80" font-size="8.0" text-anchor="middle" fill="#333333">3</text>
<line x1="540.80" y1="259.10" x2="540.80" y2="261.70" stroke="#777" stroke-width="0.6"/>
<text x="540.80" y="270.80" font-size="8.0" text-anchor="middle" fill="#333333">4</text>
<text x="508.30" y="281.60" font-size="8.0" text-anchor="middle" fill="#333333">Slice index</text>
<text x="456.90" y="224.20" font-size="8.0" text-anchor="middle" fill="#333333" textLength="67" lengthAdjust="spacingAndGlyphs" transform="rotate(-90 456.90 224.20)"><tspan font-style="italic">PRSS23</tspan> expression</text>
<circle cx="475.70" cy="205.24" r="0.9" fill="#000"/>
<circle cx="475.70" cy="206.13" r="0.9" fill="#000"/>
<circle cx="475.70" cy="207.03" r="0.9" fill="#000"/>
<circle cx="475.70" cy="212.99" r="0.9" fill="#000"/>
<circle cx="475.70" cy="218.05" r="0.9" fill="#000"/>
<circle cx="497.40" cy="210.90" r="0.9" fill="#000"/>
<circle cx="497.40" cy="217.16" r="0.9" fill="#000"/>
<circle cx="497.40" cy="219.24" r="0.9" fill="#000"/>
<circle cx="497.40" cy="222.22" r="0.9" fill="#000"/>
<circle cx="519.10" cy="209.11" r="0.9" fill="#000"/>
<circle cx="519.10" cy="229.38" r="0.9" fill="#000"/>
<circle cx="519.10" cy="238.91" r="0.9" fill="#000"/>
<circle cx="519.10" cy="255.90" r="0.9" fill="#000"/>
<circle cx="540.80" cy="194.21" r="0.9" fill="#000"/>
<circle cx="540.80" cy="214.18" r="0.9" fill="#000"/>
<circle cx="540.80" cy="230.27" r="0.9" fill="#000"/>
<circle cx="540.80" cy="236.53" r="0.9" fill="#000"/>
<circle cx="540.80" cy="238.61" r="0.9" fill="#000"/>
<path d="M614.30 283.10 L614.65 268.26 L615.01 259.23 L615.36 256.09 L615.72 247.98 L616.07 246.81 L616.42 248.90 L616.78 247.69 L617.13 250.63 L617.49 248.61 L617.84 245.16 L618.19 244.67 L618.55 245.55 L618.90 249.26 L619.26 247.62 L619.61 242.31 L619.96 246.65 L620.32 244.85 L620.67 246.86 L621.03 243.53 L621.38 242.04 L621.73 245.33 L622.09 246.56 L622.44 245.38 L622.80 247.15 L623.15 244.80 L623.50 241.51 L623.86 244.61 L624.21 241.91 L624.57 239.98 L624.92 241.28 L625.27 245.90 L625.63 243.50 L625.98 245.69 L626.34 244.44 L626.69 244.20 L627.04 239.31 L627.40 242.98 L627.75 241.67 L628.11 244.24 L628.46 239.63 L628.81 244.44 L629.17 243.95 L629.52 240.44 L629.88 242.07 L630.23 240.60 L630.58 241.95 L630.94 243.37 L631.29 239.26 L631.65 242.56 L632.00 237.06 L632.35 240.70 L632.71 239.35 L633.06 240.11 L633.42 242.58 L633.77 242.59 L634.12 237.25 L634.48 237.87 L634.83 238.46 L635.19 241.79 L635.54 241.44 L635.89 240.42 L636.25 235.77 L636.60 235.85 L636.96 238.95 L637.31 238.93 L637.66 239.35 L638.02 239.45 L638.37 235.59 L638.73 238.51 L639.08 241.10 L639.43 236.52 L639.79 239.19 L640.14 236.42 L640.50 237.07 L640.85 238.95 L641.20 239.42 L641.56 236.17 L641.91 239.19 L642.27 236.80 L642.62 240.87 L642.97 239.25 L643.33 237.79 L643.68 236.52 L644.04 238.40 L644.39 235.79 L644.74 238.24 L645.10 234.78 L645.45 234.02 L645.81 236.92 L646.16 239.14 L646.51 234.05 L646.87 235.58 L647.22 235.25 L647.58 234.86 L647.93 235.53 L648.28 235.73 L648.64 235.57 L648.99 239.46 L649.35 236.70 L649.70 238.07 L650.05 235.30 L650.41 236.25 L650.76 238.87 L651.12 237.07 L651.47 237.79 L651.82 235.93 L652.18 234.89 L652.53 237.23 L652.89 238.68 L653.24 236.79 L653.59 237.76 L653.95 235.99 L654.30 234.34 L654.66 234.70 L655.01 234.38 L655.36 232.74 L655.72 232.69 L656.07 235.48 L656.43 233.92 L656.78 231.48 L657.13 233.66 L657.49 231.72 L657.84 236.74 L658.20 233.35 L658.55 233.17 L658.90 234.73 L659.26 235.61 L659.61 230.67 L659.97 230.66 L660.32 232.94 L660.67 230.35 L661.03 233.93 L661.38 230.15 L661.74 234.59 L662.09 235.57 L662.44 233.40 L662.80 231.11 L663.15 236.01 L663.51 234.23 L663.86 230.84 L664.21 234.09 L664.57 229.32 L664.92 231.70 L665.28 231.37 L665.63 230.64 L665.98 230.44 L666.34 231.83 L666.69 233.28 L667.05 232.10 L667.40 230.19 L667.75 234.70 L668.11 231.92 L668.46 229.05 L668.82 234.66 L669.17 231.92 L669.52 230.04 L669.88 231.45 L670.23 232.01 L670.59 228.92 L670.94 232.47 L671.29 233.91 L671.65 229.76 L672.00 232.36 L672.36 228.24 L672.71 230.99 L673.06 230.80 L673.42 232.98 L673.77 228.64 L674.13 232.36 L674.48 228.65 L674.83 233.57 L675.19 227.32 L675.54 229.06 L675.90 228.09 L676.25 229.30 L676.60 228.81 L676.96 231.48 L677.31 232.34 L677.67 230.57 L678.02 229.15 L678.37 232.43 L678.73 232.61 L679.08 229.28 L679.44 227.25 L679.79 230.09 L680.14 228.94 L680.50 226.68 L680.85 232.35 L681.21 231.68 L681.56 229.31 L681.91 228.93 L682.27 230.77 L682.62 230.76 L682.98 229.00 L683.33 230.77 L683.68 227.45 L684.04 227.54 L684.39 231.56 L684.75 231.46 L685.10 228.14 L685.45 226.24 L685.81 229.75 L686.16 231.54 L686.52 231.27 L686.87 225.32 L687.22 229.94 L687.58 224.95 L687.93 225.82 L688.29 226.98 L688.64 229.40 L688.99 226.82 L689.35 228.19 L689.70 225.18 L690.06 225.24 L690.41 224.82 L690.76 226.38 L691.12 225.31 L691.47 229.37 L691.83 228.57 L692.18 224.00 L692.53 222.55 L692.89 224.32 L693.24 223.24 L693.60 224.12 L693.95 226.03 L694.30 224.37 L694.66 220.86 L695.01 224.71 L695.37 225.09 L695.72 224.38 L696.07 225.48 L696.43 223.07 L696.78 220.77 L697.14 221.95 L697.49 224.02 L697.84 222.67 L698.20 219.60 L698.55 222.81 L698.91 222.40 L699.26 221.07 L699.61 221.10 L699.97 220.22 L700.32 218.29 L700.68 221.78 L701.03 218.27 L701.38 218.23 L701.74 215.88 L702.09 221.62 L702.45 219.14 L702.80 218.03 L703.15 218.01 L703.51 220.57 L703.86 215.01 L704.22 214.32 L704.57 218.36 L704.92 216.91 L705.28 217.38 L705.63 216.60 L705.99 217.66 L706.34 215.81 L706.69 213.43 L707.05 214.03 L707.40 209.16 L707.76 204.28 L708.11 199.41 L708.46 194.54 L708.46 218.65 L708.11 227.26 L707.76 229.21 L707.40 231.96 L707.05 235.82 L706.69 235.34 L706.34 236.42 L705.99 234.33 L705.63 241.01 L705.28 239.14 L704.92 241.85 L704.57 242.37 L704.22 242.80 L703.86 240.40 L703.51 243.46 L703.15 241.86 L702.80 237.91 L702.45 244.26 L702.09 239.69 L701.74 244.93 L701.38 242.38 L701.03 239.27 L700.68 244.03 L700.32 241.13 L699.97 244.17 L699.61 244.19 L699.26 240.10 L698.91 246.13 L698.55 246.70 L698.20 246.03 L697.84 242.93 L697.49 243.19 L697.14 241.62 L696.78 243.61 L696.43 242.11 L696.07 242.43 L695.72 245.53 L695.37 247.02 L695.01 247.30 L694.66 248.34 L694.30 247.05 L693.95 248.75 L693.60 249.25 L693.24 247.22 L692.89 244.34 L692.53 250.24 L692.18 249.40 L691.83 252.38 L691.47 252.54 L691.12 250.30 L690.76 249.26 L690.41 249.73 L690.06 250.40 L689.70 249.12 L689.35 252.56 L688.99 251.29 L688.64 251.51 L688.29 251.49 L687.93 253.00 L687.58 249.70 L687.22 253.38 L686.87 249.82 L686.52 253.39 L686.16 249.77 L685.81 249.42 L685.45 251.56 L685.10 253.19 L684.75 253.99 L684.39 250.52 L684.04 250.67 L683.68 253.82 L683.33 252.63 L682.98 254.23 L682.62 250.29 L682.27 251.64 L681.91 251.25 L681.56 249.43 L681.21 251.30 L680.85 250.93 L680.50 253.09 L680.14 252.40 L679.79 253.60 L679.44 254.83 L679.08 250.94 L678.73 255.45 L678.37 253.42 L678.02 255.66 L677.67 254.96 L677.31 252.10 L676.96 250.16 L676.60 255.31 L676.25 250.06 L675.90 254.88 L675.54 256.05 L675.19 249.94 L674.83 251.79 L674.48 252.23 L674.13 251.28 L673.77 256.22 L673.42 252.92 L673.06 254.64 L672.71 253.28 L672.36 255.98 L672.00 251.89 L671.65 254.21 L671.29 251.65 L670.94 251.75 L670.59 255.93 L670.23 254.72 L669.88 251.40 L669.52 253.28 L669.17 253.71 L668.82 252.45 L668.46 254.02 L668.11 251.67 L667.75 256.05 L667.40 253.94 L667.05 255.52 L666.69 254.51 L666.34 255.86 L665.98 256.18 L665.63 257.45 L665.28 254.39 L664.92 255.32 L664.57 256.58 L664.21 257.57 L663.86 257.07 L663.51 252.68 L663.15 255.38 L662.80 253.56 L662.44 257.12 L662.09 255.07 L661.74 256.10 L661.38 256.10 L661.03 257.31 L660.67 256.25 L660.32 257.87 L659.97 253.71 L659.61 257.27 L659.26 257.93 L658.90 257.11 L658.55 254.21 L658.20 259.18 L657.84 256.51 L657.49 260.27 L657.13 258.08 L656.78 254.16 L656.43 256.88 L656.07 259.71 L655.72 256.55 L655.36 258.08 L655.01 254.67 L654.66 258.78 L654.30 260.46 L653.95 260.93 L653.59 255.85 L653.24 258.68 L652.89 258.80 L652.53 255.65 L652.18 257.78 L651.82 259.23 L651.47 261.56 L651.12 260.70 L650.76 261.10 L650.41 260.59 L650.05 261.87 L649.70 257.78 L649.35 258.08 L648.99 261.34 L648.64 257.77 L648.28 257.49 L647.93 259.87 L647.58 258.90 L647.22 261.63 L646.87 258.14 L646.51 259.79 L646.16 257.53 L645.81 259.60 L645.45 256.90 L645.10 258.71 L644.74 257.78 L644.39 257.95 L644.04 259.22 L643.68 258.29 L643.33 258.24 L642.97 259.26 L642.62 260.14 L642.27 260.00 L641.91 257.70 L641.56 259.43 L641.20 260.83 L640.85 259.48 L640.50 259.20 L640.14 259.69 L639.79 259.17 L639.43 258.72 L639.08 262.66 L638.73 262.30 L638.37 260.50 L638.02 258.22 L637.66 263.77 L637.31 262.90 L636.96 260.12 L636.60 261.99 L636.25 259.47 L635.89 262.14 L635.54 259.67 L635.19 262.41 L634.83 260.18 L634.48 259.20 L634.12 264.60 L633.77 262.34 L633.42 259.73 L633.06 263.08 L632.71 260.58 L632.35 264.55 L632.00 262.75 L631.65 266.04 L631.29 260.01 L630.94 265.66 L630.58 265.60 L630.23 264.86 L629.88 261.02 L629.52 261.19 L629.17 265.08 L628.81 261.28 L628.46 261.97 L628.11 262.83 L627.75 262.79 L627.40 265.66 L627.04 261.97 L626.69 263.32 L626.34 262.15 L625.98 268.19 L625.63 264.87 L625.27 263.64 L624.92 263.41 L624.57 268.92 L624.21 268.87 L623.86 266.28 L623.50 266.45 L623.15 267.73 L622.80 265.51 L622.44 266.17 L622.09 269.83 L621.73 269.35 L621.38 268.65 L621.03 264.48 L620.67 264.82 L620.32 266.70 L619.96 265.02 L619.61 265.77 L619.26 270.33 L618.90 266.36 L618.55 271.49 L618.19 271.70 L617.84 271.85 L617.49 267.22 L617.13 272.06 L616.78 270.24 L616.42 273.09 L616.07 274.68 L615.72 272.64 L615.36 276.00 L615.01 273.21 L614.65 274.89 L614.30 282.33Z" fill="#cbdfef" stroke="none"/>
<path d="M614.30 283.90 L614.65 274.15 L615.01 268.74 L615.36 264.94 L615.72 262.78 L616.07 261.33 L616.42 260.61 L616.78 259.89 L617.13 259.38 L617.49 259.09 L617.84 258.81 L618.19 258.52 L618.55 258.23 L618.90 257.94 L619.26 257.65 L619.61 257.36 L619.96 257.19 L620.32 257.02 L620.67 256.85 L621.03 256.68 L621.38 256.51 L621.73 256.34 L622.09 256.17 L622.44 256.00 L622.80 255.83 L623.15 255.66 L623.50 255.49 L623.86 255.33 L624.21 255.16 L624.57 254.99 L624.92 254.82 L625.27 254.68 L625.63 254.55 L625.98 254.41 L626.34 254.28 L626.69 254.15 L627.04 254.01 L627.40 253.88 L627.75 253.75 L628.11 253.61 L628.46 253.48 L628.81 253.34 L629.17 253.21 L629.52 253.08 L629.88 252.94 L630.23 252.81 L630.58 252.68 L630.94 252.54 L631.29 252.41 L631.65 252.27 L632.00 252.14 L632.35 252.01 L632.71 251.87 L633.06 251.74 L633.42 251.60 L633.77 251.47 L634.12 251.37 L634.48 251.29 L634.83 251.22 L635.19 251.15 L635.54 251.08 L635.89 251.00 L636.25 250.93 L636.60 250.86 L636.96 250.78 L637.31 250.71 L637.66 250.64 L638.02 250.56 L638.37 250.49 L638.73 250.42 L639.08 250.35 L639.43 250.27 L639.79 250.20 L640.14 250.13 L640.50 250.05 L640.85 249.98 L641.20 249.91 L641.56 249.83 L641.91 249.76 L642.27 249.69 L642.62 249.61 L642.97 249.54 L643.33 249.47 L643.68 249.40 L644.04 249.32 L644.39 249.25 L644.74 249.18 L645.10 249.10 L645.45 249.03 L645.81 248.96 L646.16 248.88 L646.51 248.81 L646.87 248.74 L647.22 248.67 L647.58 248.59 L647.93 248.52 L648.28 248.45 L648.64 248.37 L648.99 248.30 L649.35 248.23 L649.70 248.15 L650.05 248.07 L650.41 247.98 L650.76 247.89 L651.12 247.80 L651.47 247.71 L651.82 247.62 L652.18 247.53 L652.53 247.44 L652.89 247.35 L653.24 247.26 L653.59 247.17 L653.95 247.08 L654.30 246.99 L654.66 246.91 L655.01 246.82 L655.36 246.73 L655.72 246.64 L656.07 246.55 L656.43 246.46 L656.78 246.37 L657.13 246.28 L657.49 246.19 L657.84 246.10 L658.20 246.01 L658.55 245.92 L658.90 245.84 L659.26 245.75 L659.61 245.66 L659.97 245.57 L660.32 245.48 L660.67 245.39 L661.03 245.30 L661.38 245.21 L661.74 245.12 L662.09 245.03 L662.44 244.94 L662.80 244.85 L663.15 244.76 L663.51 244.68 L663.86 244.59 L664.21 244.50 L664.57 244.41 L664.92 244.32 L665.28 244.23 L665.63 244.14 L665.98 244.05 L666.34 243.96 L666.69 243.87 L667.05 243.78 L667.40 243.69 L667.75 243.60 L668.11 243.54 L668.46 243.48 L668.82 243.42 L669.17 243.36 L669.52 243.30 L669.88 243.24 L670.23 243.18 L670.59 243.12 L670.94 243.06 L671.29 243.00 L671.65 242.94 L672.00 242.88 L672.36 242.82 L672.71 242.76 L673.06 242.70 L673.42 242.64 L673.77 242.58 L674.13 242.52 L674.48 242.46 L674.83 242.40 L675.19 242.34 L675.54 242.28 L675.90 242.22 L676.25 242.16 L676.60 242.10 L676.96 242.04 L677.31 241.98 L677.67 241.92 L678.02 241.86 L678.37 241.80 L678.73 241.74 L679.08 241.68 L679.44 241.62 L679.79 241.56 L680.14 241.50 L680.50 241.44 L680.85 241.38 L681.21 241.32 L681.56 241.26 L681.91 241.20 L682.27 241.14 L682.62 241.08 L682.98 241.02 L683.33 240.96 L683.68 240.90 L684.04 240.84 L684.39 240.78 L684.75 240.72 L685.10 240.66 L685.45 240.60 L685.81 240.51 L686.16 240.40 L686.52 240.28 L686.87 240.17 L687.22 240.05 L687.58 239.94 L687.93 239.82 L688.29 239.71 L688.64 239.59 L688.99 239.48 L689.35 239.36 L689.70 239.25 L690.06 239.13 L690.41 239.02 L690.76 238.90 L691.12 238.79 L691.47 238.67 L691.83 238.56 L692.18 238.44 L692.53 238.32 L692.89 238.21 L693.24 238.09 L693.60 237.98 L693.95 237.86 L694.30 237.64 L694.66 237.42 L695.01 237.19 L695.37 236.97 L695.72 236.74 L696.07 236.52 L696.43 236.30 L696.78 236.07 L697.14 235.85 L697.49 235.62 L697.84 235.40 L698.20 235.17 L698.55 234.95 L698.91 234.73 L699.26 234.51 L699.61 234.30 L699.97 234.09 L700.32 233.89 L700.68 233.68 L701.03 233.47 L701.38 233.26 L701.74 233.05 L702.09 232.84 L702.45 232.64 L702.80 232.43 L703.15 232.22 L703.51 232.01 L703.86 231.68 L704.22 231.23 L704.57 230.78 L704.92 230.33 L705.28 229.88 L705.63 229.42 L705.99 228.73 L706.34 227.81 L706.69 226.88 L707.05 225.95 L707.40 223.57 L707.76 221.18 L708.11 216.74 L708.46 210.24" fill="none" stroke="#4a8ac4" stroke-width="0.8"/>
<rect x="610.50" y="191.20" width="102.10" height="99.50" fill="none" stroke="#8c8c8c" stroke-width="0.8"/>
<line x1="607.50" y1="283.90" x2="610.50" y2="283.90" stroke="#8c8c8c" stroke-width="0.8"/>
<text x="602.90" y="286.80" font-size="8.2" text-anchor="end" fill="#333333">0.10</text>
<line x1="607.50" y1="256.82" x2="610.50" y2="256.82" stroke="#8c8c8c" stroke-width="0.8"/>
<text x="602.90" y="259.72" font-size="8.2" text-anchor="end" fill="#333333">0.15</text>
<line x1="607.50" y1="229.74" x2="610.50" y2="229.74" stroke="#8c8c8c" stroke-width="0.8"/>
<text x="602.90" y="232.64" font-size="8.2" text-anchor="end" fill="#333333">0.20</text>
<line x1="607.50" y1="202.66" x2="610.50" y2="202.66" stroke="#8c8c8c" stroke-width="0.8"/>
<text x="602.90" y="205.56" font-size="8.2" text-anchor="end" fill="#333333">0.25</text>
<line x1="614.30" y1="290.70" x2="614.30" y2="293.70" stroke="#8c8c8c" stroke-width="0.8"/>
<text x="614.30" y="302.60" font-size="8.2" text-anchor="middle" fill="#333333">0</text>
<line x1="649.70" y1="290.70" x2="649.70" y2="293.70" stroke="#8c8c8c" stroke-width="0.8"/>
<text x="649.70" y="302.60" font-size="8.2" text-anchor="middle" fill="#333333">200</text>
<line x1="685.10" y1="290.70" x2="685.10" y2="293.70" stroke="#8c8c8c" stroke-width="0.8"/>
<text x="685.10" y="302.60" font-size="8.2" text-anchor="middle" fill="#333333">400</text>
<text x="660.45" y="186.4" font-size="9.3" text-anchor="middle" textLength="61.7" lengthAdjust="spacingAndGlyphs"><tspan font-style="italic">z</tspan>-axis variance</text>
<text x="661.50" y="315.20" font-size="9.3" text-anchor="middle" textLength="82.8" lengthAdjust="spacingAndGlyphs">Gene index (sorted)</text>
<text x="580.50" y="241.00" font-size="9.3" text-anchor="middle" transform="rotate(-90 580.50 241.00)">Variance</text>
<rect x="32.40" y="345.20" width="106.00" height="117.10" fill="#d3d3d3" stroke="#7a7a7a" stroke-width="0.8"/>
<circle cx="38.00" cy="371.90" r="1.7" fill="#482576"/>
<circle cx="42.55" cy="373.30" r="1.7" fill="#481b6d"/>
<circle cx="41.60" cy="378.45" r="1.7" fill="#472a7a"/>
<circle cx="46.15" cy="379.85" r="1.7" fill="#48186a"/>
<circle cx="45.20" cy="385.00" r="1.7" fill="#463480"/>
<circle cx="50.70" cy="381.25" r="1.7" fill="#472f7d"/>
<circle cx="49.75" cy="386.40" r="1.7" fill="#482475"/>
<circle cx="57.15" cy="372.35" r="1.7" fill="#414287"/>
<circle cx="56.20" cy="377.50" r="1.7" fill="#482475"/>
<circle cx="55.25" cy="382.65" r="1.7" fill="#433e85"/>
<circle cx="54.30" cy="387.80" r="1.7" fill="#46307e"/>
<circle cx="53.35" cy="392.95" r="1.7" fill="#46337f"/>
<circle cx="52.40" cy="398.10" r="1.7" fill="#404588"/>
<circle cx="51.45" cy="403.25" r="1.7" fill="#375a8c"/>
<circle cx="50.50" cy="408.40" r="1.7" fill="#463480"/>
<circle cx="62.65" cy="368.60" r="1.7" fill="#423f85"/>
<circle cx="61.70" cy="373.75" r="1.7" fill="#3c508b"/>
<circle cx="60.75" cy="378.90" r="1.7" fill="#355e8d"/>
<circle cx="59.80" cy="384.05" r="1.7" fill="#3c4f8a"/>
<circle cx="58.85" cy="389.20" r="1.7" fill="#3e4989"/>
<circle cx="57.90" cy="394.35" r="1.7" fill="#32648e"/>
<circle cx="56.95" cy="399.50" r="1.7" fill="#463480"/>
<circle cx="56.00" cy="404.65" r="1.7" fill="#365d8d"/>
<circle cx="55.05" cy="409.80" r="1.7" fill="#433e85"/>
<circle cx="54.10" cy="414.95" r="1.7" fill="#453581"/>
<circle cx="69.10" cy="359.70" r="1.7" fill="#3e4989"/>
<circle cx="68.15" cy="364.85" r="1.7" fill="#3d4e8a"/>
<circle cx="67.20" cy="370.00" r="1.7" fill="#34618d"/>
<circle cx="66.25" cy="375.15" r="1.7" fill="#433e85"/>
<circle cx="65.30" cy="380.30" r="1.7" fill="#3b518b"/>
<circle cx="64.35" cy="385.45" r="1.7" fill="#3a548c"/>
<circle cx="63.40" cy="390.60" r="1.7" fill="#3f4889"/>
<circle cx="62.45" cy="395.75" r="1.7" fill="#3b518b"/>
<circle cx="61.50" cy="400.90" r="1.7" fill="#453882"/>
<circle cx="60.55" cy="406.05" r="1.7" fill="#463480"/>
<circle cx="59.60" cy="411.20" r="1.7" fill="#443a83"/>
<circle cx="58.65" cy="416.35" r="1.7" fill="#3b528b"/>
<circle cx="57.70" cy="421.50" r="1.7" fill="#404588"/>
<circle cx="56.75" cy="426.65" r="1.7" fill="#423f85"/>
<circle cx="74.60" cy="355.95" r="1.7" fill="#2d708e"/>
<circle cx="73.65" cy="361.10" r="1.7" fill="#33628d"/>
<circle cx="72.70" cy="366.25" r="1.7" fill="#3c508b"/>
<circle cx="71.75" cy="371.40" r="1.7" fill="#33638d"/>
<circle cx="70.80" cy="376.55" r="1.7" fill="#365c8d"/>
<circle cx="69.85" cy="381.70" r="1.7" fill="#414487"/>
<circle cx="68.90" cy="386.85" r="1.7" fill="#39558c"/>
<circle cx="67.95" cy="392.00" r="1.7" fill="#3a538b"/>
<circle cx="67.00" cy="397.15" r="1.7" fill="#32658e"/>
<circle cx="66.05" cy="402.30" r="1.7" fill="#365d8d"/>
<circle cx="65.10" cy="407.45" r="1.7" fill="#414287"/>
<circle cx="64.15" cy="412.60" r="1.7" fill="#34618d"/>
<circle cx="63.20" cy="417.75" r="1.7" fill="#463480"/>
<circle cx="62.25" cy="422.90" r="1.7" fill="#414487"/>
<circle cx="61.30" cy="428.05" r="1.7" fill="#3a538b"/>
<circle cx="79.15" cy="357.35" r="1.7" fill="#2e6e8e"/>
<circle cx="78.20" cy="362.50" r="1.7" fill="#2f6c8e"/>
<circle cx="77.25" cy="367.65" r="1.7" fill="#424186"/>
<circle cx="76.30" cy="372.80" r="1.7" fill="#365c8d"/>
<circle cx="75.35" cy="377.95" r="1.7" fill="#34618d"/>
<circle cx="74.40" cy="383.10" r="1.7" fill="#38598c"/>
<circle cx="73.45" cy="388.25" r="1.7" fill="#306a8e"/>
<circle cx="72.50" cy="393.40" r="1.7" fill="#3c4f8a"/>
<circle cx="71.55" cy="398.55" r="1.7" fill="#355e8d"/>
<circle cx="70.60" cy="403.70" r="1.7" fill="#38588c"/>
<circle cx="69.65" cy="408.85" r="1.7" fill="#3b518b"/>
<circle cx="68.70" cy="414.00" r="1.7" fill="#3f4788"/>
<circle cx="67.75" cy="419.15" r="1.7" fill="#38598c"/>
<circle cx="66.80" cy="424.30" r="1.7" fill="#375b8d"/>
<circle cx="65.85" cy="429.45" r="1.7" fill="#433e85"/>
<circle cx="64.90" cy="434.60" r="1.7" fill="#414287"/>
<circle cx="84.65" cy="353.60" r="1.7" fill="#2f6c8e"/>
<circle cx="83.70" cy="358.75" r="1.7" fill="#1f988b"/>
<circle cx="82.75" cy="363.90" r="1.7" fill="#2a768e"/>
<circle cx="81.80" cy="369.05" r="1.7" fill="#2e6d8e"/>
<circle cx="80.85" cy="374.20" r="1.7" fill="#33638d"/>
<circle cx="79.90" cy="379.35" r="1.7" fill="#3c508b"/>
<circle cx="78.95" cy="384.50" r="1.7" fill="#355f8d"/>
<circle cx="78.00" cy="389.65" r="1.7" fill="#2c728e"/>
<circle cx="77.05" cy="394.80" r="1.7" fill="#3a548c"/>
<circle cx="76.10" cy="399.95" r="1.7" fill="#375a8c"/>
<circle cx="75.15" cy="405.10" r="1.7" fill="#414287"/>
<circle cx="74.20" cy="410.25" r="1.7" fill="#443983"/>
<circle cx="73.25" cy="415.40" r="1.7" fill="#46327e"/>
<circle cx="72.30" cy="420.55" r="1.7" fill="#3a538b"/>
<circle cx="71.35" cy="425.70" r="1.7" fill="#482979"/>
<circle cx="70.40" cy="430.85" r="1.7" fill="#482475"/>
<circle cx="69.45" cy="436.00" r="1.7" fill="#482979"/>
<circle cx="68.50" cy="441.15" r="1.7" fill="#404688"/>
<circle cx="67.55" cy="446.30" r="1.7" fill="#481769"/>
<circle cx="89.20" cy="355.00" r="1.7" fill="#29798e"/>
<circle cx="88.25" cy="360.15" r="1.7" fill="#297b8e"/>
<circle cx="87.30" cy="365.30" r="1.7" fill="#2a778e"/>
<circle cx="86.35" cy="370.45" r="1.7" fill="#31688e"/>
<circle cx="85.40" cy="375.60" r="1.7" fill="#2e6e8e"/>
<circle cx="84.45" cy="380.75" r="1.7" fill="#2d718e"/>
<circle cx="83.50" cy="385.90" r="1.7" fill="#1f998a"/>
<circle cx="82.55" cy="391.05" r="1.7" fill="#1f948c"/>
<circle cx="81.60" cy="396.20" r="1.7" fill="#218f8d"/>
<circle cx="80.65" cy="401.35" r="1.7" fill="#2b748e"/>
<circle cx="79.70" cy="406.50" r="1.7" fill="#424186"/>
<circle cx="78.75" cy="411.65" r="1.7" fill="#433d84"/>
<circle cx="77.80" cy="416.80" r="1.7" fill="#443a83"/>
<circle cx="76.85" cy="421.95" r="1.7" fill="#46337f"/>
<circle cx="75.90" cy="427.10" r="1.7" fill="#453781"/>
<circle cx="74.95" cy="432.25" r="1.7" fill="#472d7b"/>
<circle cx="74.00" cy="437.40" r="1.7" fill="#48186a"/>
<circle cx="73.05" cy="442.55" r="1.7" fill="#471164"/>
<circle cx="72.10" cy="447.70" r="1.7" fill="#482979"/>
<circle cx="71.15" cy="452.85" r="1.7" fill="#482374"/>
<circle cx="70.20" cy="458.00" r="1.7" fill="#46327e"/>
<circle cx="93.75" cy="356.40" r="1.7" fill="#24878e"/>
<circle cx="92.80" cy="361.55" r="1.7" fill="#30698e"/>
<circle cx="91.85" cy="366.70" r="1.7" fill="#38588c"/>
<circle cx="90.90" cy="371.85" r="1.7" fill="#365c8d"/>
<circle cx="89.95" cy="377.00" r="1.7" fill="#2a788e"/>
<circle cx="89.00" cy="382.15" r="1.7" fill="#28ae80"/>
<circle cx="88.05" cy="387.30" r="1.7" fill="#fde725"/>
<circle cx="87.10" cy="392.45" r="1.7" fill="#d0e11c"/>
<circle cx="86.15" cy="397.60" r="1.7" fill="#1f9f88"/>
<circle cx="85.20" cy="402.75" r="1.7" fill="#2e6e8e"/>
<circle cx="84.25" cy="407.90" r="1.7" fill="#3d4e8a"/>
<circle cx="83.30" cy="413.05" r="1.7" fill="#3f4889"/>
<circle cx="82.35" cy="418.20" r="1.7" fill="#46327e"/>
<circle cx="81.40" cy="423.35" r="1.7" fill="#3f4788"/>
<circle cx="80.45" cy="428.50" r="1.7" fill="#481c6e"/>
<circle cx="79.50" cy="433.65" r="1.7" fill="#471164"/>
<circle cx="78.55" cy="438.80" r="1.7" fill="#481a6c"/>
<circle cx="77.60" cy="443.95" r="1.7" fill="#481b6d"/>
<circle cx="76.65" cy="449.10" r="1.7" fill="#482576"/>
<circle cx="75.70" cy="454.25" r="1.7" fill="#481467"/>
<circle cx="99.25" cy="352.65" r="1.7" fill="#453882"/>
<circle cx="98.30" cy="357.80" r="1.7" fill="#472f7d"/>
<circle cx="97.35" cy="362.95" r="1.7" fill="#481a6c"/>
<circle cx="96.40" cy="368.10" r="1.7" fill="#433d84"/>
<circle cx="95.45" cy="373.25" r="1.7" fill="#443983"/>
<circle cx="94.50" cy="378.40" r="1.7" fill="#21908d"/>
<circle cx="93.55" cy="383.55" r="1.7" fill="#eae51a"/>
<circle cx="92.60" cy="388.70" r="1.7" fill="#fde725"/>
<circle cx="91.65" cy="393.85" r="1.7" fill="#fbe723"/>
<circle cx="90.70" cy="399.00" r="1.7" fill="#228c8d"/>
<circle cx="89.75" cy="404.15" r="1.7" fill="#38598c"/>
<circle cx="88.80" cy="409.30" r="1.7" fill="#424086"/>
<circle cx="87.85" cy="414.45" r="1.7" fill="#355f8d"/>
<circle cx="86.90" cy="419.60" r="1.7" fill="#34608d"/>
<circle cx="85.95" cy="424.75" r="1.7" fill="#433e85"/>
<circle cx="85.00" cy="429.90" r="1.7" fill="#453581"/>
<circle cx="84.05" cy="435.05" r="1.7" fill="#481467"/>
<circle cx="83.10" cy="440.20" r="1.7" fill="#471063"/>
<circle cx="82.15" cy="445.35" r="1.7" fill="#482374"/>
<circle cx="81.20" cy="450.50" r="1.7" fill="#482374"/>
<circle cx="103.80" cy="354.05" r="1.7" fill="#3c4f8a"/>
<circle cx="102.85" cy="359.20" r="1.7" fill="#481c6e"/>
<circle cx="101.90" cy="364.35" r="1.7" fill="#471063"/>
<circle cx="100.95" cy="369.50" r="1.7" fill="#3a548c"/>
<circle cx="100.00" cy="374.65" r="1.7" fill="#3e4c8a"/>
<circle cx="99.05" cy="379.80" r="1.7" fill="#32658e"/>
<circle cx="98.10" cy="384.95" r="1.7" fill="#77d153"/>
<circle cx="97.15" cy="390.10" r="1.7" fill="#f1e51d"/>
<circle cx="96.20" cy="395.25" r="1.7" fill="#7ad151"/>
<circle cx="95.25" cy="400.40" r="1.7" fill="#20928c"/>
<circle cx="94.30" cy="405.55" r="1.7" fill="#2e6e8e"/>
<circle cx="93.35" cy="410.70" r="1.7" fill="#34608d"/>
<circle cx="92.40" cy="415.85" r="1.7" fill="#414287"/>
<circle cx="91.45" cy="421.00" r="1.7" fill="#423f85"/>
<circle cx="90.50" cy="426.15" r="1.7" fill="#472d7b"/>
<circle cx="89.55" cy="431.30" r="1.7" fill="#414487"/>
<circle cx="88.60" cy="436.45" r="1.7" fill="#482374"/>
<circle cx="87.65" cy="441.60" r="1.7" fill="#472d7b"/>
<circle cx="86.70" cy="446.75" r="1.7" fill="#481f70"/>
<circle cx="108.35" cy="355.45" r="1.7" fill="#481b6d"/>
<circle cx="107.40" cy="360.60" r="1.7" fill="#443983"/>
<circle cx="106.45" cy="365.75" r="1.7" fill="#3e4a89"/>
<circle cx="105.50" cy="370.90" r="1.7" fill="#3e4c8a"/>
<circle cx="104.55" cy="376.05" r="1.7" fill="#3c508b"/>
<circle cx="103.60" cy="381.20" r="1.7" fill="#31668e"/>
<circle cx="102.65" cy="386.35" r="1.7" fill="#218e8d"/>
<circle cx="101.70" cy="391.50" r="1.7" fill="#1f958b"/>
<circle cx="100.75" cy="396.65" r="1.7" fill="#23898e"/>
<circle cx="99.80" cy="401.80" r="1.7" fill="#34608d"/>
<circle cx="98.85" cy="406.95" r="1.7" fill="#3f4889"/>
<circle cx="97.90" cy="412.10" r="1.7" fill="#3f4889"/>
<circle cx="96.95" cy="417.25" r="1.7" fill="#3f4889"/>
<circle cx="96.00" cy="422.40" r="1.7" fill="#46337f"/>
<circle cx="95.05" cy="427.55" r="1.7" fill="#3f4889"/>
<circle cx="94.10" cy="432.70" r="1.7" fill="#3c4f8a"/>
<circle cx="93.15" cy="437.85" r="1.7" fill="#481d6f"/>
<circle cx="92.20" cy="443.00" r="1.7" fill="#453882"/>
<circle cx="112.90" cy="356.85" r="1.7" fill="#443a83"/>
<circle cx="111.95" cy="362.00" r="1.7" fill="#463480"/>
<circle cx="111.00" cy="367.15" r="1.7" fill="#482374"/>
<circle cx="110.05" cy="372.30" r="1.7" fill="#482173"/>
<circle cx="109.10" cy="377.45" r="1.7" fill="#482677"/>
<circle cx="108.15" cy="382.60" r="1.7" fill="#482979"/>
<circle cx="107.20" cy="387.75" r="1.7" fill="#433e85"/>
<circle cx="106.25" cy="392.90" r="1.7" fill="#32658e"/>
<circle cx="105.30" cy="398.05" r="1.7" fill="#2c718e"/>
<circle cx="104.35" cy="403.20" r="1.7" fill="#2e6f8e"/>
<circle cx="103.40" cy="408.35" r="1.7" fill="#2e6d8e"/>
<circle cx="102.45" cy="413.50" r="1.7" fill="#27808e"/>
<circle cx="101.50" cy="418.65" r="1.7" fill="#2e6d8e"/>
<circle cx="100.55" cy="423.80" r="1.7" fill="#472d7b"/>
<circle cx="99.60" cy="428.95" r="1.7" fill="#3f4889"/>
<circle cx="98.65" cy="434.10" r="1.7" fill="#3c508b"/>
<circle cx="97.70" cy="439.25" r="1.7" fill="#423f85"/>
<circle cx="96.75" cy="444.40" r="1.7" fill="#443a83"/>
<circle cx="117.45" cy="358.25" r="1.7" fill="#482374"/>
<circle cx="116.50" cy="363.40" r="1.7" fill="#470e61"/>
<circle cx="115.55" cy="368.55" r="1.7" fill="#453781"/>
<circle cx="114.60" cy="373.70" r="1.7" fill="#481f70"/>
<circle cx="113.65" cy="378.85" r="1.7" fill="#433d84"/>
<circle cx="112.70" cy="384.00" r="1.7" fill="#433e85"/>
<circle cx="111.75" cy="389.15" r="1.7" fill="#472d7b"/>
<circle cx="110.80" cy="394.30" r="1.7" fill="#414287"/>
<circle cx="109.85" cy="399.45" r="1.7" fill="#30698e"/>
<circle cx="108.90" cy="404.60" r="1.7" fill="#2f6b8e"/>
<circle cx="107.95" cy="409.75" r="1.7" fill="#2e6d8e"/>
<circle cx="107.00" cy="414.90" r="1.7" fill="#25838e"/>
<circle cx="106.05" cy="420.05" r="1.7" fill="#39558c"/>
<circle cx="105.10" cy="425.20" r="1.7" fill="#375a8c"/>
<circle cx="104.15" cy="430.35" r="1.7" fill="#3c4f8a"/>
<circle cx="103.20" cy="435.50" r="1.7" fill="#482979"/>
<circle cx="102.25" cy="440.65" r="1.7" fill="#3e4a89"/>
<circle cx="122.00" cy="359.65" r="1.7" fill="#404588"/>
<circle cx="121.05" cy="364.80" r="1.7" fill="#472d7b"/>
<circle cx="120.10" cy="369.95" r="1.7" fill="#470e61"/>
<circle cx="119.15" cy="375.10" r="1.7" fill="#482173"/>
<circle cx="118.20" cy="380.25" r="1.7" fill="#471164"/>
<circle cx="117.25" cy="385.40" r="1.7" fill="#440256"/>
<circle cx="116.30" cy="390.55" r="1.7" fill="#3e4a89"/>
<circle cx="115.35" cy="395.70" r="1.7" fill="#3e4c8a"/>
<circle cx="114.40" cy="400.85" r="1.7" fill="#3a548c"/>
<circle cx="113.45" cy="406.00" r="1.7" fill="#2c718e"/>
<circle cx="112.50" cy="411.15" r="1.7" fill="#30698e"/>
<circle cx="111.55" cy="416.30" r="1.7" fill="#25848e"/>
<circle cx="110.60" cy="421.45" r="1.7" fill="#32658e"/>
<circle cx="109.65" cy="426.60" r="1.7" fill="#482576"/>
<circle cx="108.70" cy="431.75" r="1.7" fill="#472c7a"/>
<circle cx="107.75" cy="436.90" r="1.7" fill="#46337f"/>
<circle cx="125.60" cy="366.20" r="1.7" fill="#471365"/>
<circle cx="124.65" cy="371.35" r="1.7" fill="#481d6f"/>
<circle cx="123.70" cy="376.50" r="1.7" fill="#471063"/>
<circle cx="122.75" cy="381.65" r="1.7" fill="#482576"/>
<circle cx="121.80" cy="386.80" r="1.7" fill="#481769"/>
<circle cx="120.85" cy="391.95" r="1.7" fill="#3e4989"/>
<circle cx="119.90" cy="397.10" r="1.7" fill="#453781"/>
<circle cx="118.95" cy="402.25" r="1.7" fill="#3b518b"/>
<circle cx="118.00" cy="407.40" r="1.7" fill="#33638d"/>
<circle cx="117.05" cy="412.55" r="1.7" fill="#2c718e"/>
<circle cx="116.10" cy="417.70" r="1.7" fill="#375a8c"/>
<circle cx="115.15" cy="422.85" r="1.7" fill="#33628d"/>
<circle cx="114.20" cy="428.00" r="1.7" fill="#433d84"/>
<circle cx="113.25" cy="433.15" r="1.7" fill="#423f85"/>
<circle cx="128.25" cy="377.90" r="1.7" fill="#472a7a"/>
<circle cx="127.30" cy="383.05" r="1.7" fill="#471164"/>
<circle cx="126.35" cy="388.20" r="1.7" fill="#472c7a"/>
<circle cx="125.40" cy="393.35" r="1.7" fill="#481769"/>
<circle cx="124.45" cy="398.50" r="1.7" fill="#481769"/>
<circle cx="123.50" cy="403.65" r="1.7" fill="#365c8d"/>
<circle cx="122.55" cy="408.80" r="1.7" fill="#3e4989"/>
<circle cx="121.60" cy="413.95" r="1.7" fill="#38588c"/>
<circle cx="120.65" cy="419.10" r="1.7" fill="#34608d"/>
<circle cx="119.70" cy="424.25" r="1.7" fill="#3c508b"/>
<circle cx="118.75" cy="429.40" r="1.7" fill="#443b84"/>
<circle cx="130.90" cy="389.60" r="1.7" fill="#472f7d"/>
<circle cx="129.95" cy="394.75" r="1.7" fill="#482979"/>
<circle cx="129.00" cy="399.90" r="1.7" fill="#424186"/>
<circle cx="128.05" cy="405.05" r="1.7" fill="#46307e"/>
<circle cx="127.10" cy="410.20" r="1.7" fill="#3a538b"/>
<circle cx="126.15" cy="415.35" r="1.7" fill="#404588"/>
<circle cx="125.20" cy="420.50" r="1.7" fill="#404588"/>
<circle cx="133.55" cy="401.30" r="1.7" fill="#3f4788"/>
<circle cx="132.60" cy="406.45" r="1.7" fill="#414487"/>
<circle cx="131.65" cy="411.60" r="1.7" fill="#3d4e8a"/>
<circle cx="121.50" cy="350.70" r="1.7" fill="#424186"/>
<rect x="161.30" y="345.20" width="106.00" height="117.10" fill="#d3d3d3" stroke="#7a7a7a" stroke-width="0.8"/>
<circle cx="166.90" cy="371.90" r="1.7" fill="#1f948c"/>
<circle cx="171.45" cy="373.30" r="1.7" fill="#277f8e"/>
<circle cx="170.50" cy="378.45" r="1.7" fill="#287c8e"/>
<circle cx="175.05" cy="379.85" r="1.7" fill="#31678e"/>
<circle cx="174.10" cy="385.00" r="1.7" fill="#32658e"/>
<circle cx="179.60" cy="381.25" r="1.7" fill="#30698e"/>
<circle cx="178.65" cy="386.40" r="1.7" fill="#34608d"/>
<circle cx="186.05" cy="372.35" r="1.7" fill="#2c718e"/>
<circle cx="185.10" cy="377.50" r="1.7" fill="#2f6b8e"/>
<circle cx="184.15" cy="382.65" r="1.7" fill="#29798e"/>
<circle cx="183.20" cy="387.80" r="1.7" fill="#2e6f8e"/>
<circle cx="182.25" cy="392.95" r="1.7" fill="#2b748e"/>
<circle cx="181.30" cy="398.10" r="1.7" fill="#2b758e"/>
<circle cx="180.35" cy="403.25" r="1.7" fill="#3b518b"/>
<circle cx="179.40" cy="408.40" r="1.7" fill="#365c8d"/>
<circle cx="191.55" cy="368.60" r="1.7" fill="#23898e"/>
<circle cx="190.60" cy="373.75" r="1.7" fill="#23898e"/>
<circle cx="189.65" cy="378.90" r="1.7" fill="#30698e"/>
<circle cx="188.70" cy="384.05" r="1.7" fill="#355f8d"/>
<circle cx="187.75" cy="389.20" r="1.7" fill="#32658e"/>
<circle cx="186.80" cy="394.35" r="1.7" fill="#3c508b"/>
<circle cx="185.85" cy="399.50" r="1.7" fill="#39558c"/>
<circle cx="184.90" cy="404.65" r="1.7" fill="#3f4889"/>
<circle cx="183.95" cy="409.80" r="1.7" fill="#33638d"/>
<circle cx="183.00" cy="414.95" r="1.7" fill="#34608d"/>
<circle cx="198.00" cy="359.70" r="1.7" fill="#25838e"/>
<circle cx="197.05" cy="364.85" r="1.7" fill="#32658e"/>
<circle cx="196.10" cy="370.00" r="1.7" fill="#24868e"/>
<circle cx="195.15" cy="375.15" r="1.7" fill="#20938c"/>
<circle cx="194.20" cy="380.30" r="1.7" fill="#26828e"/>
<circle cx="193.25" cy="385.45" r="1.7" fill="#228c8d"/>
<circle cx="192.30" cy="390.60" r="1.7" fill="#287d8e"/>
<circle cx="191.35" cy="395.75" r="1.7" fill="#39568c"/>
<circle cx="190.40" cy="400.90" r="1.7" fill="#2b758e"/>
<circle cx="189.45" cy="406.05" r="1.7" fill="#38598c"/>
<circle cx="188.50" cy="411.20" r="1.7" fill="#355e8d"/>
<circle cx="187.55" cy="416.35" r="1.7" fill="#31688e"/>
<circle cx="186.60" cy="421.50" r="1.7" fill="#3e4c8a"/>
<circle cx="185.65" cy="426.65" r="1.7" fill="#482173"/>
<circle cx="203.50" cy="355.95" r="1.7" fill="#2a768e"/>
<circle cx="202.55" cy="361.10" r="1.7" fill="#2a778e"/>
<circle cx="201.60" cy="366.25" r="1.7" fill="#2e6f8e"/>
<circle cx="200.65" cy="371.40" r="1.7" fill="#2b748e"/>
<circle cx="199.70" cy="376.55" r="1.7" fill="#1f948c"/>
<circle cx="198.75" cy="381.70" r="1.7" fill="#27ad81"/>
<circle cx="197.80" cy="386.85" r="1.7" fill="#2f6c8e"/>
<circle cx="196.85" cy="392.00" r="1.7" fill="#2f6c8e"/>
<circle cx="195.90" cy="397.15" r="1.7" fill="#355f8d"/>
<circle cx="194.95" cy="402.30" r="1.7" fill="#404588"/>
<circle cx="194.00" cy="407.45" r="1.7" fill="#3a538b"/>
<circle cx="193.05" cy="412.60" r="1.7" fill="#355f8d"/>
<circle cx="192.10" cy="417.75" r="1.7" fill="#3d4d8a"/>
<circle cx="191.15" cy="422.90" r="1.7" fill="#482374"/>
<circle cx="190.20" cy="428.05" r="1.7" fill="#3b528b"/>
<circle cx="208.05" cy="357.35" r="1.7" fill="#20938c"/>
<circle cx="207.10" cy="362.50" r="1.7" fill="#218f8d"/>
<circle cx="206.15" cy="367.65" r="1.7" fill="#33628d"/>
<circle cx="205.20" cy="372.80" r="1.7" fill="#2c718e"/>
<circle cx="204.25" cy="377.95" r="1.7" fill="#297a8e"/>
<circle cx="203.30" cy="383.10" r="1.7" fill="#1f9a8a"/>
<circle cx="202.35" cy="388.25" r="1.7" fill="#2f6c8e"/>
<circle cx="201.40" cy="393.40" r="1.7" fill="#3a538b"/>
<circle cx="200.45" cy="398.55" r="1.7" fill="#38598c"/>
<circle cx="199.50" cy="403.70" r="1.7" fill="#2e6d8e"/>
<circle cx="198.55" cy="408.85" r="1.7" fill="#31668e"/>
<circle cx="197.60" cy="414.00" r="1.7" fill="#404688"/>
<circle cx="196.65" cy="419.15" r="1.7" fill="#453781"/>
<circle cx="195.70" cy="424.30" r="1.7" fill="#39558c"/>
<circle cx="194.75" cy="429.45" r="1.7" fill="#433d84"/>
<circle cx="193.80" cy="434.60" r="1.7" fill="#423f85"/>
<circle cx="213.55" cy="353.60" r="1.7" fill="#2c728e"/>
<circle cx="212.60" cy="358.75" r="1.7" fill="#29798e"/>
<circle cx="211.65" cy="363.90" r="1.7" fill="#277e8e"/>
<circle cx="210.70" cy="369.05" r="1.7" fill="#30698e"/>
<circle cx="209.75" cy="374.20" r="1.7" fill="#365d8d"/>
<circle cx="208.80" cy="379.35" r="1.7" fill="#228b8d"/>
<circle cx="207.85" cy="384.50" r="1.7" fill="#277f8e"/>
<circle cx="206.90" cy="389.65" r="1.7" fill="#27808e"/>
<circle cx="205.95" cy="394.80" r="1.7" fill="#3c4f8a"/>
<circle cx="205.00" cy="399.95" r="1.7" fill="#31688e"/>
<circle cx="204.05" cy="405.10" r="1.7" fill="#423f85"/>
<circle cx="203.10" cy="410.25" r="1.7" fill="#32648e"/>
<circle cx="202.15" cy="415.40" r="1.7" fill="#3e4a89"/>
<circle cx="201.20" cy="420.55" r="1.7" fill="#433d84"/>
<circle cx="200.25" cy="425.70" r="1.7" fill="#424086"/>
<circle cx="199.30" cy="430.85" r="1.7" fill="#3e4a89"/>
<circle cx="198.35" cy="436.00" r="1.7" fill="#481b6d"/>
<circle cx="197.40" cy="441.15" r="1.7" fill="#470e61"/>
<circle cx="196.45" cy="446.30" r="1.7" fill="#472c7a"/>
<circle cx="218.10" cy="355.00" r="1.7" fill="#355e8d"/>
<circle cx="217.15" cy="360.15" r="1.7" fill="#39568c"/>
<circle cx="216.20" cy="365.30" r="1.7" fill="#3b528b"/>
<circle cx="215.25" cy="370.45" r="1.7" fill="#3e4c8a"/>
<circle cx="214.30" cy="375.60" r="1.7" fill="#38588c"/>
<circle cx="213.35" cy="380.75" r="1.7" fill="#31688e"/>
<circle cx="212.40" cy="385.90" r="1.7" fill="#25858e"/>
<circle cx="211.45" cy="391.05" r="1.7" fill="#29af7f"/>
<circle cx="210.50" cy="396.20" r="1.7" fill="#287c8e"/>
<circle cx="209.55" cy="401.35" r="1.7" fill="#34608d"/>
<circle cx="208.60" cy="406.50" r="1.7" fill="#414487"/>
<circle cx="207.65" cy="411.65" r="1.7" fill="#3f4889"/>
<circle cx="206.70" cy="416.80" r="1.7" fill="#472f7d"/>
<circle cx="205.75" cy="421.95" r="1.7" fill="#463480"/>
<circle cx="204.80" cy="427.10" r="1.7" fill="#481c6e"/>
<circle cx="203.85" cy="432.25" r="1.7" fill="#453882"/>
<circle cx="202.90" cy="437.40" r="1.7" fill="#481d6f"/>
<circle cx="201.95" cy="442.55" r="1.7" fill="#46085c"/>
<circle cx="201.00" cy="447.70" r="1.7" fill="#482878"/>
<circle cx="200.05" cy="452.85" r="1.7" fill="#414287"/>
<circle cx="199.10" cy="458.00" r="1.7" fill="#481668"/>
<circle cx="222.65" cy="356.40" r="1.7" fill="#375a8c"/>
<circle cx="221.70" cy="361.55" r="1.7" fill="#414487"/>
<circle cx="220.75" cy="366.70" r="1.7" fill="#3c508b"/>
<circle cx="219.80" cy="371.85" r="1.7" fill="#31668e"/>
<circle cx="218.85" cy="377.00" r="1.7" fill="#38598c"/>
<circle cx="217.90" cy="382.15" r="1.7" fill="#277e8e"/>
<circle cx="216.95" cy="387.30" r="1.7" fill="#95d840"/>
<circle cx="216.00" cy="392.45" r="1.7" fill="#fde725"/>
<circle cx="215.05" cy="397.60" r="1.7" fill="#50c46a"/>
<circle cx="214.10" cy="402.75" r="1.7" fill="#27808e"/>
<circle cx="213.15" cy="407.90" r="1.7" fill="#355f8d"/>
<circle cx="212.20" cy="413.05" r="1.7" fill="#3a538b"/>
<circle cx="211.25" cy="418.20" r="1.7" fill="#424086"/>
<circle cx="210.30" cy="423.35" r="1.7" fill="#463480"/>
<circle cx="209.35" cy="428.50" r="1.7" fill="#481a6c"/>
<circle cx="208.40" cy="433.65" r="1.7" fill="#471164"/>
<circle cx="207.45" cy="438.80" r="1.7" fill="#440154"/>
<circle cx="206.50" cy="443.95" r="1.7" fill="#472e7c"/>
<circle cx="205.55" cy="449.10" r="1.7" fill="#481a6c"/>
<circle cx="204.60" cy="454.25" r="1.7" fill="#481769"/>
<circle cx="228.15" cy="352.65" r="1.7" fill="#472d7b"/>
<circle cx="227.20" cy="357.80" r="1.7" fill="#3b528b"/>
<circle cx="226.25" cy="362.95" r="1.7" fill="#3a548c"/>
<circle cx="225.30" cy="368.10" r="1.7" fill="#3d4e8a"/>
<circle cx="224.35" cy="373.25" r="1.7" fill="#414287"/>
<circle cx="223.40" cy="378.40" r="1.7" fill="#3d4d8a"/>
<circle cx="222.45" cy="383.55" r="1.7" fill="#26818e"/>
<circle cx="221.50" cy="388.70" r="1.7" fill="#fde725"/>
<circle cx="220.55" cy="393.85" r="1.7" fill="#fde725"/>
<circle cx="219.60" cy="399.00" r="1.7" fill="#8bd646"/>
<circle cx="218.65" cy="404.15" r="1.7" fill="#306a8e"/>
<circle cx="217.70" cy="409.30" r="1.7" fill="#306a8e"/>
<circle cx="216.75" cy="414.45" r="1.7" fill="#34618d"/>
<circle cx="215.80" cy="419.60" r="1.7" fill="#424186"/>
<circle cx="214.85" cy="424.75" r="1.7" fill="#482979"/>
<circle cx="213.90" cy="429.90" r="1.7" fill="#3e4989"/>
<circle cx="212.95" cy="435.05" r="1.7" fill="#481b6d"/>
<circle cx="212.00" cy="440.20" r="1.7" fill="#48186a"/>
<circle cx="211.05" cy="445.35" r="1.7" fill="#450457"/>
<circle cx="210.10" cy="450.50" r="1.7" fill="#482374"/>
<circle cx="232.70" cy="354.05" r="1.7" fill="#453581"/>
<circle cx="231.75" cy="359.20" r="1.7" fill="#482576"/>
<circle cx="230.80" cy="364.35" r="1.7" fill="#481668"/>
<circle cx="229.85" cy="369.50" r="1.7" fill="#443a83"/>
<circle cx="228.90" cy="374.65" r="1.7" fill="#472c7a"/>
<circle cx="227.95" cy="379.80" r="1.7" fill="#3f4788"/>
<circle cx="227.00" cy="384.95" r="1.7" fill="#31688e"/>
<circle cx="226.05" cy="390.10" r="1.7" fill="#58c765"/>
<circle cx="225.10" cy="395.25" r="1.7" fill="#84d44b"/>
<circle cx="224.15" cy="400.40" r="1.7" fill="#218f8d"/>
<circle cx="223.20" cy="405.55" r="1.7" fill="#355e8d"/>
<circle cx="222.25" cy="410.70" r="1.7" fill="#404688"/>
<circle cx="221.30" cy="415.85" r="1.7" fill="#3e4a89"/>
<circle cx="220.35" cy="421.00" r="1.7" fill="#453882"/>
<circle cx="219.40" cy="426.15" r="1.7" fill="#423f85"/>
<circle cx="218.45" cy="431.30" r="1.7" fill="#453581"/>
<circle cx="217.50" cy="436.45" r="1.7" fill="#482979"/>
<circle cx="216.55" cy="441.60" r="1.7" fill="#472e7c"/>
<circle cx="215.60" cy="446.75" r="1.7" fill="#481c6e"/>
<circle cx="237.25" cy="355.45" r="1.7" fill="#482475"/>
<circle cx="236.30" cy="360.60" r="1.7" fill="#443983"/>
<circle cx="235.35" cy="365.75" r="1.7" fill="#470d60"/>
<circle cx="234.40" cy="370.90" r="1.7" fill="#424186"/>
<circle cx="233.45" cy="376.05" r="1.7" fill="#3f4889"/>
<circle cx="232.50" cy="381.20" r="1.7" fill="#46337f"/>
<circle cx="231.55" cy="386.35" r="1.7" fill="#2e6f8e"/>
<circle cx="230.60" cy="391.50" r="1.7" fill="#21908d"/>
<circle cx="229.65" cy="396.65" r="1.7" fill="#228c8d"/>
<circle cx="228.70" cy="401.80" r="1.7" fill="#29798e"/>
<circle cx="227.75" cy="406.95" r="1.7" fill="#2d708e"/>
<circle cx="226.80" cy="412.10" r="1.7" fill="#3f4889"/>
<circle cx="225.85" cy="417.25" r="1.7" fill="#3e4989"/>
<circle cx="224.90" cy="422.40" r="1.7" fill="#472f7d"/>
<circle cx="223.95" cy="427.55" r="1.7" fill="#424086"/>
<circle cx="223.00" cy="432.70" r="1.7" fill="#433d84"/>
<circle cx="222.05" cy="437.85" r="1.7" fill="#472f7d"/>
<circle cx="221.10" cy="443.00" r="1.7" fill="#481f70"/>
<circle cx="241.80" cy="356.85" r="1.7" fill="#404588"/>
<circle cx="240.85" cy="362.00" r="1.7" fill="#46337f"/>
<circle cx="239.90" cy="367.15" r="1.7" fill="#463480"/>
<circle cx="238.95" cy="372.30" r="1.7" fill="#482173"/>
<circle cx="238.00" cy="377.45" r="1.7" fill="#482071"/>
<circle cx="237.05" cy="382.60" r="1.7" fill="#46327e"/>
<circle cx="236.10" cy="387.75" r="1.7" fill="#3e4989"/>
<circle cx="235.15" cy="392.90" r="1.7" fill="#3f4889"/>
<circle cx="234.20" cy="398.05" r="1.7" fill="#2e6f8e"/>
<circle cx="233.25" cy="403.20" r="1.7" fill="#32658e"/>
<circle cx="232.30" cy="408.35" r="1.7" fill="#2a768e"/>
<circle cx="231.35" cy="413.50" r="1.7" fill="#2b748e"/>
<circle cx="230.40" cy="418.65" r="1.7" fill="#375b8d"/>
<circle cx="229.45" cy="423.80" r="1.7" fill="#443983"/>
<circle cx="228.50" cy="428.95" r="1.7" fill="#481668"/>
<circle cx="227.55" cy="434.10" r="1.7" fill="#424086"/>
<circle cx="226.60" cy="439.25" r="1.7" fill="#453581"/>
<circle cx="225.65" cy="444.40" r="1.7" fill="#482677"/>
<circle cx="246.35" cy="358.25" r="1.7" fill="#46307e"/>
<circle cx="245.40" cy="363.40" r="1.7" fill="#472f7d"/>
<circle cx="244.45" cy="368.55" r="1.7" fill="#440256"/>
<circle cx="243.50" cy="373.70" r="1.7" fill="#463480"/>
<circle cx="242.55" cy="378.85" r="1.7" fill="#482677"/>
<circle cx="241.60" cy="384.00" r="1.7" fill="#482677"/>
<circle cx="240.65" cy="389.15" r="1.7" fill="#443a83"/>
<circle cx="239.70" cy="394.30" r="1.7" fill="#375a8c"/>
<circle cx="238.75" cy="399.45" r="1.7" fill="#404688"/>
<circle cx="237.80" cy="404.60" r="1.7" fill="#2e6f8e"/>
<circle cx="236.85" cy="409.75" r="1.7" fill="#1e9d89"/>
<circle cx="235.90" cy="414.90" r="1.7" fill="#26828e"/>
<circle cx="234.95" cy="420.05" r="1.7" fill="#3a538b"/>
<circle cx="234.00" cy="425.20" r="1.7" fill="#433d84"/>
<circle cx="233.05" cy="430.35" r="1.7" fill="#433e85"/>
<circle cx="232.10" cy="435.50" r="1.7" fill="#424086"/>
<circle cx="231.15" cy="440.65" r="1.7" fill="#453581"/>
<circle cx="250.90" cy="359.65" r="1.7" fill="#463480"/>
<circle cx="249.95" cy="364.80" r="1.7" fill="#440256"/>
<circle cx="249.00" cy="369.95" r="1.7" fill="#440154"/>
<circle cx="248.05" cy="375.10" r="1.7" fill="#471164"/>
<circle cx="247.10" cy="380.25" r="1.7" fill="#433e85"/>
<circle cx="246.15" cy="385.40" r="1.7" fill="#472a7a"/>
<circle cx="245.20" cy="390.55" r="1.7" fill="#423f85"/>
<circle cx="244.25" cy="395.70" r="1.7" fill="#472a7a"/>
<circle cx="243.30" cy="400.85" r="1.7" fill="#463480"/>
<circle cx="242.35" cy="406.00" r="1.7" fill="#3f4889"/>
<circle cx="241.40" cy="411.15" r="1.7" fill="#297b8e"/>
<circle cx="240.45" cy="416.30" r="1.7" fill="#2a778e"/>
<circle cx="239.50" cy="421.45" r="1.7" fill="#39568c"/>
<circle cx="238.55" cy="426.60" r="1.7" fill="#482374"/>
<circle cx="237.60" cy="431.75" r="1.7" fill="#472c7a"/>
<circle cx="236.65" cy="436.90" r="1.7" fill="#472f7d"/>
<circle cx="254.50" cy="366.20" r="1.7" fill="#482071"/>
<circle cx="253.55" cy="371.35" r="1.7" fill="#450457"/>
<circle cx="252.60" cy="376.50" r="1.7" fill="#433d84"/>
<circle cx="251.65" cy="381.65" r="1.7" fill="#481b6d"/>
<circle cx="250.70" cy="386.80" r="1.7" fill="#414287"/>
<circle cx="249.75" cy="391.95" r="1.7" fill="#414287"/>
<circle cx="248.80" cy="397.10" r="1.7" fill="#482374"/>
<circle cx="247.85" cy="402.25" r="1.7" fill="#414287"/>
<circle cx="246.90" cy="407.40" r="1.7" fill="#39568c"/>
<circle cx="245.95" cy="412.55" r="1.7" fill="#2e6f8e"/>
<circle cx="245.00" cy="417.70" r="1.7" fill="#39558c"/>
<circle cx="244.05" cy="422.85" r="1.7" fill="#453581"/>
<circle cx="243.10" cy="428.00" r="1.7" fill="#48186a"/>
<circle cx="242.15" cy="433.15" r="1.7" fill="#424186"/>
<circle cx="257.15" cy="377.90" r="1.7" fill="#481c6e"/>
<circle cx="256.20" cy="383.05" r="1.7" fill="#472f7d"/>
<circle cx="255.25" cy="388.20" r="1.7" fill="#460a5d"/>
<circle cx="254.30" cy="393.35" r="1.7" fill="#482677"/>
<circle cx="253.35" cy="398.50" r="1.7" fill="#3b528b"/>
<circle cx="252.40" cy="403.65" r="1.7" fill="#46307e"/>
<circle cx="251.45" cy="408.80" r="1.7" fill="#375a8c"/>
<circle cx="250.50" cy="413.95" r="1.7" fill="#3c508b"/>
<circle cx="249.55" cy="419.10" r="1.7" fill="#34608d"/>
<circle cx="248.60" cy="424.25" r="1.7" fill="#3e4c8a"/>
<circle cx="247.65" cy="429.40" r="1.7" fill="#482475"/>
<circle cx="259.80" cy="389.60" r="1.7" fill="#424086"/>
<circle cx="258.85" cy="394.75" r="1.7" fill="#472e7c"/>
<circle cx="257.90" cy="399.90" r="1.7" fill="#482173"/>
<circle cx="256.95" cy="405.05" r="1.7" fill="#482979"/>
<circle cx="256.00" cy="410.20" r="1.7" fill="#3f4889"/>
<circle cx="255.05" cy="415.35" r="1.7" fill="#3f4889"/>
<circle cx="254.10" cy="420.50" r="1.7" fill="#433e85"/>
<circle cx="262.45" cy="401.30" r="1.7" fill="#472a7a"/>
<circle cx="261.50" cy="406.45" r="1.7" fill="#443b84"/>
<circle cx="260.55" cy="411.60" r="1.7" fill="#433e85"/>
<circle cx="250.40" cy="350.70" r="1.7" fill="#3e4a89"/>
<rect x="289.60" y="345.20" width="106.00" height="117.10" fill="#d3d3d3" stroke="#7a7a7a" stroke-width="0.8"/>
<circle cx="295.20" cy="371.90" r="1.7" fill="#3f4788"/>
<circle cx="299.75" cy="373.30" r="1.7" fill="#2f6c8e"/>
<circle cx="298.80" cy="378.45" r="1.7" fill="#2e6f8e"/>
<circle cx="303.35" cy="379.85" r="1.7" fill="#3c4f8a"/>
<circle cx="302.40" cy="385.00" r="1.7" fill="#2c728e"/>
<circle cx="307.90" cy="381.25" r="1.7" fill="#2e6f8e"/>
<circle cx="306.95" cy="386.40" r="1.7" fill="#2c728e"/>
<circle cx="314.35" cy="372.35" r="1.7" fill="#34618d"/>
<circle cx="313.40" cy="377.50" r="1.7" fill="#32658e"/>
<circle cx="312.45" cy="382.65" r="1.7" fill="#33628d"/>
<circle cx="311.50" cy="387.80" r="1.7" fill="#2a778e"/>
<circle cx="310.55" cy="392.95" r="1.7" fill="#375b8d"/>
<circle cx="309.60" cy="398.10" r="1.7" fill="#414287"/>
<circle cx="308.65" cy="403.25" r="1.7" fill="#443b84"/>
<circle cx="307.70" cy="408.40" r="1.7" fill="#46307e"/>
<circle cx="319.85" cy="368.60" r="1.7" fill="#3a548c"/>
<circle cx="318.90" cy="373.75" r="1.7" fill="#38588c"/>
<circle cx="317.95" cy="378.90" r="1.7" fill="#2a788e"/>
<circle cx="317.00" cy="384.05" r="1.7" fill="#355f8d"/>
<circle cx="316.05" cy="389.20" r="1.7" fill="#2a768e"/>
<circle cx="315.10" cy="394.35" r="1.7" fill="#3f4788"/>
<circle cx="314.15" cy="399.50" r="1.7" fill="#46327e"/>
<circle cx="313.20" cy="404.65" r="1.7" fill="#46337f"/>
<circle cx="312.25" cy="409.80" r="1.7" fill="#482576"/>
<circle cx="311.30" cy="414.95" r="1.7" fill="#472f7d"/>
<circle cx="326.30" cy="359.70" r="1.7" fill="#26818e"/>
<circle cx="325.35" cy="364.85" r="1.7" fill="#287d8e"/>
<circle cx="324.40" cy="370.00" r="1.7" fill="#29798e"/>
<circle cx="323.45" cy="375.15" r="1.7" fill="#2c718e"/>
<circle cx="322.50" cy="380.30" r="1.7" fill="#287d8e"/>
<circle cx="321.55" cy="385.45" r="1.7" fill="#277f8e"/>
<circle cx="320.60" cy="390.60" r="1.7" fill="#31678e"/>
<circle cx="319.65" cy="395.75" r="1.7" fill="#365d8d"/>
<circle cx="318.70" cy="400.90" r="1.7" fill="#481d6f"/>
<circle cx="317.75" cy="406.05" r="1.7" fill="#443983"/>
<circle cx="316.80" cy="411.20" r="1.7" fill="#46327e"/>
<circle cx="315.85" cy="416.35" r="1.7" fill="#414487"/>
<circle cx="314.90" cy="421.50" r="1.7" fill="#433d84"/>
<circle cx="313.95" cy="426.65" r="1.7" fill="#482979"/>
<circle cx="331.80" cy="355.95" r="1.7" fill="#375a8c"/>
<circle cx="330.85" cy="361.10" r="1.7" fill="#26818e"/>
<circle cx="329.90" cy="366.25" r="1.7" fill="#365d8d"/>
<circle cx="328.95" cy="371.40" r="1.7" fill="#2e6e8e"/>
<circle cx="328.00" cy="376.55" r="1.7" fill="#30698e"/>
<circle cx="327.05" cy="381.70" r="1.7" fill="#31668e"/>
<circle cx="326.10" cy="386.85" r="1.7" fill="#2a768e"/>
<circle cx="325.15" cy="392.00" r="1.7" fill="#29798e"/>
<circle cx="324.20" cy="397.15" r="1.7" fill="#3f4788"/>
<circle cx="323.25" cy="402.30" r="1.7" fill="#3f4889"/>
<circle cx="322.30" cy="407.45" r="1.7" fill="#472c7a"/>
<circle cx="321.35" cy="412.60" r="1.7" fill="#453882"/>
<circle cx="320.40" cy="417.75" r="1.7" fill="#472a7a"/>
<circle cx="319.45" cy="422.90" r="1.7" fill="#481d6f"/>
<circle cx="318.50" cy="428.05" r="1.7" fill="#482071"/>
<circle cx="336.35" cy="357.35" r="1.7" fill="#33628d"/>
<circle cx="335.40" cy="362.50" r="1.7" fill="#26818e"/>
<circle cx="334.45" cy="367.65" r="1.7" fill="#2d708e"/>
<circle cx="333.50" cy="372.80" r="1.7" fill="#31678e"/>
<circle cx="332.55" cy="377.95" r="1.7" fill="#228b8d"/>
<circle cx="331.60" cy="383.10" r="1.7" fill="#20928c"/>
<circle cx="330.65" cy="388.25" r="1.7" fill="#2c718e"/>
<circle cx="329.70" cy="393.40" r="1.7" fill="#39558c"/>
<circle cx="328.75" cy="398.55" r="1.7" fill="#3f4889"/>
<circle cx="327.80" cy="403.70" r="1.7" fill="#46337f"/>
<circle cx="326.85" cy="408.85" r="1.7" fill="#463480"/>
<circle cx="325.90" cy="414.00" r="1.7" fill="#481769"/>
<circle cx="324.95" cy="419.15" r="1.7" fill="#471164"/>
<circle cx="324.00" cy="424.30" r="1.7" fill="#481b6d"/>
<circle cx="323.05" cy="429.45" r="1.7" fill="#463480"/>
<circle cx="322.10" cy="434.60" r="1.7" fill="#3f4788"/>
<circle cx="341.85" cy="353.60" r="1.7" fill="#277e8e"/>
<circle cx="340.90" cy="358.75" r="1.7" fill="#30698e"/>
<circle cx="339.95" cy="363.90" r="1.7" fill="#2f6b8e"/>
<circle cx="339.00" cy="369.05" r="1.7" fill="#2c728e"/>
<circle cx="338.05" cy="374.20" r="1.7" fill="#2c718e"/>
<circle cx="337.10" cy="379.35" r="1.7" fill="#277e8e"/>
<circle cx="336.15" cy="384.50" r="1.7" fill="#287c8e"/>
<circle cx="335.20" cy="389.65" r="1.7" fill="#2c728e"/>
<circle cx="334.25" cy="394.80" r="1.7" fill="#277e8e"/>
<circle cx="333.30" cy="399.95" r="1.7" fill="#3e4989"/>
<circle cx="332.35" cy="405.10" r="1.7" fill="#3c4f8a"/>
<circle cx="331.40" cy="410.25" r="1.7" fill="#3f4788"/>
<circle cx="330.45" cy="415.40" r="1.7" fill="#414287"/>
<circle cx="329.50" cy="420.55" r="1.7" fill="#471063"/>
<circle cx="328.55" cy="425.70" r="1.7" fill="#481b6d"/>
<circle cx="327.60" cy="430.85" r="1.7" fill="#481c6e"/>
<circle cx="326.65" cy="436.00" r="1.7" fill="#482878"/>
<circle cx="325.70" cy="441.15" r="1.7" fill="#472a7a"/>
<circle cx="324.75" cy="446.30" r="1.7" fill="#414487"/>
<circle cx="346.40" cy="355.00" r="1.7" fill="#238a8d"/>
<circle cx="345.45" cy="360.15" r="1.7" fill="#26818e"/>
<circle cx="344.50" cy="365.30" r="1.7" fill="#365c8d"/>
<circle cx="343.55" cy="370.45" r="1.7" fill="#355e8d"/>
<circle cx="342.60" cy="375.60" r="1.7" fill="#26818e"/>
<circle cx="341.65" cy="380.75" r="1.7" fill="#20938c"/>
<circle cx="340.70" cy="385.90" r="1.7" fill="#25858e"/>
<circle cx="339.75" cy="391.05" r="1.7" fill="#297b8e"/>
<circle cx="338.80" cy="396.20" r="1.7" fill="#3b518b"/>
<circle cx="337.85" cy="401.35" r="1.7" fill="#375a8c"/>
<circle cx="336.90" cy="406.50" r="1.7" fill="#31688e"/>
<circle cx="335.95" cy="411.65" r="1.7" fill="#39568c"/>
<circle cx="335.00" cy="416.80" r="1.7" fill="#3e4a89"/>
<circle cx="334.05" cy="421.95" r="1.7" fill="#3f4788"/>
<circle cx="333.10" cy="427.10" r="1.7" fill="#48186a"/>
<circle cx="332.15" cy="432.25" r="1.7" fill="#460a5d"/>
<circle cx="331.20" cy="437.40" r="1.7" fill="#471365"/>
<circle cx="330.25" cy="442.55" r="1.7" fill="#472d7b"/>
<circle cx="329.30" cy="447.70" r="1.7" fill="#46327e"/>
<circle cx="328.35" cy="452.85" r="1.7" fill="#433e85"/>
<circle cx="327.40" cy="458.00" r="1.7" fill="#453581"/>
<circle cx="350.95" cy="356.40" r="1.7" fill="#1f998a"/>
<circle cx="350.00" cy="361.55" r="1.7" fill="#218f8d"/>
<circle cx="349.05" cy="366.70" r="1.7" fill="#2b758e"/>
<circle cx="348.10" cy="371.85" r="1.7" fill="#2a768e"/>
<circle cx="347.15" cy="377.00" r="1.7" fill="#34608d"/>
<circle cx="346.20" cy="382.15" r="1.7" fill="#25838e"/>
<circle cx="345.25" cy="387.30" r="1.7" fill="#2f6b8e"/>
<circle cx="344.30" cy="392.45" r="1.7" fill="#26828e"/>
<circle cx="343.35" cy="397.60" r="1.7" fill="#2d708e"/>
<circle cx="342.40" cy="402.75" r="1.7" fill="#375a8c"/>
<circle cx="341.45" cy="407.90" r="1.7" fill="#3f4788"/>
<circle cx="340.50" cy="413.05" r="1.7" fill="#424086"/>
<circle cx="339.55" cy="418.20" r="1.7" fill="#3f4788"/>
<circle cx="338.60" cy="423.35" r="1.7" fill="#433d84"/>
<circle cx="337.65" cy="428.50" r="1.7" fill="#450559"/>
<circle cx="336.70" cy="433.65" r="1.7" fill="#440154"/>
<circle cx="335.75" cy="438.80" r="1.7" fill="#482677"/>
<circle cx="334.80" cy="443.95" r="1.7" fill="#472f7d"/>
<circle cx="333.85" cy="449.10" r="1.7" fill="#482475"/>
<circle cx="332.90" cy="454.25" r="1.7" fill="#48186a"/>
<circle cx="356.45" cy="352.65" r="1.7" fill="#1f948c"/>
<circle cx="355.50" cy="357.80" r="1.7" fill="#25858e"/>
<circle cx="354.55" cy="362.95" r="1.7" fill="#277e8e"/>
<circle cx="353.60" cy="368.10" r="1.7" fill="#2a768e"/>
<circle cx="352.65" cy="373.25" r="1.7" fill="#24868e"/>
<circle cx="351.70" cy="378.40" r="1.7" fill="#2a778e"/>
<circle cx="350.75" cy="383.55" r="1.7" fill="#26818e"/>
<circle cx="349.80" cy="388.70" r="1.7" fill="#2e6e8e"/>
<circle cx="348.85" cy="393.85" r="1.7" fill="#34608d"/>
<circle cx="347.90" cy="399.00" r="1.7" fill="#355f8d"/>
<circle cx="346.95" cy="404.15" r="1.7" fill="#287c8e"/>
<circle cx="346.00" cy="409.30" r="1.7" fill="#306a8e"/>
<circle cx="345.05" cy="414.45" r="1.7" fill="#3e4c8a"/>
<circle cx="344.10" cy="419.60" r="1.7" fill="#472d7b"/>
<circle cx="343.15" cy="424.75" r="1.7" fill="#453781"/>
<circle cx="342.20" cy="429.90" r="1.7" fill="#472f7d"/>
<circle cx="341.25" cy="435.05" r="1.7" fill="#481d6f"/>
<circle cx="340.30" cy="440.20" r="1.7" fill="#481769"/>
<circle cx="339.35" cy="445.35" r="1.7" fill="#463480"/>
<circle cx="338.40" cy="450.50" r="1.7" fill="#404588"/>
<circle cx="361.00" cy="354.05" r="1.7" fill="#29798e"/>
<circle cx="360.05" cy="359.20" r="1.7" fill="#2d708e"/>
<circle cx="359.10" cy="364.35" r="1.7" fill="#2c728e"/>
<circle cx="358.15" cy="369.50" r="1.7" fill="#2d708e"/>
<circle cx="357.20" cy="374.65" r="1.7" fill="#2a778e"/>
<circle cx="356.25" cy="379.80" r="1.7" fill="#34608d"/>
<circle cx="355.30" cy="384.95" r="1.7" fill="#29798e"/>
<circle cx="354.35" cy="390.10" r="1.7" fill="#2b758e"/>
<circle cx="353.40" cy="395.25" r="1.7" fill="#2f6c8e"/>
<circle cx="352.45" cy="400.40" r="1.7" fill="#355f8d"/>
<circle cx="351.50" cy="405.55" r="1.7" fill="#27808e"/>
<circle cx="350.55" cy="410.70" r="1.7" fill="#34608d"/>
<circle cx="349.60" cy="415.85" r="1.7" fill="#2e6d8e"/>
<circle cx="348.65" cy="421.00" r="1.7" fill="#424086"/>
<circle cx="347.70" cy="426.15" r="1.7" fill="#472e7c"/>
<circle cx="346.75" cy="431.30" r="1.7" fill="#433e85"/>
<circle cx="345.80" cy="436.45" r="1.7" fill="#481769"/>
<circle cx="344.85" cy="441.60" r="1.7" fill="#443a83"/>
<circle cx="343.90" cy="446.75" r="1.7" fill="#482979"/>
<circle cx="365.55" cy="355.45" r="1.7" fill="#30698e"/>
<circle cx="364.60" cy="360.60" r="1.7" fill="#32658e"/>
<circle cx="363.65" cy="365.75" r="1.7" fill="#306a8e"/>
<circle cx="362.70" cy="370.90" r="1.7" fill="#2b758e"/>
<circle cx="361.75" cy="376.05" r="1.7" fill="#27808e"/>
<circle cx="360.80" cy="381.20" r="1.7" fill="#375a8c"/>
<circle cx="359.85" cy="386.35" r="1.7" fill="#32648e"/>
<circle cx="358.90" cy="391.50" r="1.7" fill="#365d8d"/>
<circle cx="357.95" cy="396.65" r="1.7" fill="#27808e"/>
<circle cx="357.00" cy="401.80" r="1.7" fill="#355e8d"/>
<circle cx="356.05" cy="406.95" r="1.7" fill="#34618d"/>
<circle cx="355.10" cy="412.10" r="1.7" fill="#32658e"/>
<circle cx="354.15" cy="417.25" r="1.7" fill="#32658e"/>
<circle cx="353.20" cy="422.40" r="1.7" fill="#30698e"/>
<circle cx="352.25" cy="427.55" r="1.7" fill="#38588c"/>
<circle cx="351.30" cy="432.70" r="1.7" fill="#424086"/>
<circle cx="350.35" cy="437.85" r="1.7" fill="#424086"/>
<circle cx="349.40" cy="443.00" r="1.7" fill="#443b84"/>
<circle cx="370.10" cy="356.85" r="1.7" fill="#31688e"/>
<circle cx="369.15" cy="362.00" r="1.7" fill="#355e8d"/>
<circle cx="368.20" cy="367.15" r="1.7" fill="#277f8e"/>
<circle cx="367.25" cy="372.30" r="1.7" fill="#2b758e"/>
<circle cx="366.30" cy="377.45" r="1.7" fill="#3b528b"/>
<circle cx="365.35" cy="382.60" r="1.7" fill="#2e6e8e"/>
<circle cx="364.40" cy="387.75" r="1.7" fill="#34618d"/>
<circle cx="363.45" cy="392.90" r="1.7" fill="#33628d"/>
<circle cx="362.50" cy="398.05" r="1.7" fill="#32648e"/>
<circle cx="361.55" cy="403.20" r="1.7" fill="#31668e"/>
<circle cx="360.60" cy="408.35" r="1.7" fill="#29798e"/>
<circle cx="359.65" cy="413.50" r="1.7" fill="#228b8d"/>
<circle cx="358.70" cy="418.65" r="1.7" fill="#2e6e8e"/>
<circle cx="357.75" cy="423.80" r="1.7" fill="#2e6d8e"/>
<circle cx="356.80" cy="428.95" r="1.7" fill="#46327e"/>
<circle cx="355.85" cy="434.10" r="1.7" fill="#3b528b"/>
<circle cx="354.90" cy="439.25" r="1.7" fill="#481f70"/>
<circle cx="353.95" cy="444.40" r="1.7" fill="#482576"/>
<circle cx="374.65" cy="358.25" r="1.7" fill="#297a8e"/>
<circle cx="373.70" cy="363.40" r="1.7" fill="#2a788e"/>
<circle cx="372.75" cy="368.55" r="1.7" fill="#32658e"/>
<circle cx="371.80" cy="373.70" r="1.7" fill="#3c508b"/>
<circle cx="370.85" cy="378.85" r="1.7" fill="#33638d"/>
<circle cx="369.90" cy="384.00" r="1.7" fill="#365c8d"/>
<circle cx="368.95" cy="389.15" r="1.7" fill="#2b748e"/>
<circle cx="368.00" cy="394.30" r="1.7" fill="#39558c"/>
<circle cx="367.05" cy="399.45" r="1.7" fill="#33628d"/>
<circle cx="366.10" cy="404.60" r="1.7" fill="#26828e"/>
<circle cx="365.15" cy="409.75" r="1.7" fill="#25848e"/>
<circle cx="364.20" cy="414.90" r="1.7" fill="#1f968b"/>
<circle cx="363.25" cy="420.05" r="1.7" fill="#277e8e"/>
<circle cx="362.30" cy="425.20" r="1.7" fill="#375b8d"/>
<circle cx="361.35" cy="430.35" r="1.7" fill="#482677"/>
<circle cx="360.40" cy="435.50" r="1.7" fill="#482475"/>
<circle cx="359.45" cy="440.65" r="1.7" fill="#482173"/>
<circle cx="379.20" cy="359.65" r="1.7" fill="#297b8e"/>
<circle cx="378.25" cy="364.80" r="1.7" fill="#375a8c"/>
<circle cx="377.30" cy="369.95" r="1.7" fill="#2f6c8e"/>
<circle cx="376.35" cy="375.10" r="1.7" fill="#2c728e"/>
<circle cx="375.40" cy="380.25" r="1.7" fill="#38588c"/>
<circle cx="374.45" cy="385.40" r="1.7" fill="#3c508b"/>
<circle cx="373.50" cy="390.55" r="1.7" fill="#2e6f8e"/>
<circle cx="372.55" cy="395.70" r="1.7" fill="#32648e"/>
<circle cx="371.60" cy="400.85" r="1.7" fill="#39568c"/>
<circle cx="370.65" cy="406.00" r="1.7" fill="#2f6b8e"/>
<circle cx="369.70" cy="411.15" r="1.7" fill="#2c718e"/>
<circle cx="368.75" cy="416.30" r="1.7" fill="#2c718e"/>
<circle cx="367.80" cy="421.45" r="1.7" fill="#404688"/>
<circle cx="366.85" cy="426.60" r="1.7" fill="#3e4a89"/>
<circle cx="365.90" cy="431.75" r="1.7" fill="#3d4d8a"/>
<circle cx="364.95" cy="436.90" r="1.7" fill="#404588"/>
<circle cx="382.80" cy="366.20" r="1.7" fill="#2a768e"/>
<circle cx="381.85" cy="371.35" r="1.7" fill="#3f4889"/>
<circle cx="380.90" cy="376.50" r="1.7" fill="#3b528b"/>
<circle cx="379.95" cy="381.65" r="1.7" fill="#375a8c"/>
<circle cx="379.00" cy="386.80" r="1.7" fill="#31678e"/>
<circle cx="378.05" cy="391.95" r="1.7" fill="#33628d"/>
<circle cx="377.10" cy="397.10" r="1.7" fill="#3b518b"/>
<circle cx="376.15" cy="402.25" r="1.7" fill="#3a548c"/>
<circle cx="375.20" cy="407.40" r="1.7" fill="#355f8d"/>
<circle cx="374.25" cy="412.55" r="1.7" fill="#306a8e"/>
<circle cx="373.30" cy="417.70" r="1.7" fill="#297b8e"/>
<circle cx="372.35" cy="422.85" r="1.7" fill="#404688"/>
<circle cx="371.40" cy="428.00" r="1.7" fill="#3c4f8a"/>
<circle cx="370.45" cy="433.15" r="1.7" fill="#3f4889"/>
<circle cx="385.45" cy="377.90" r="1.7" fill="#2e6d8e"/>
<circle cx="384.50" cy="383.05" r="1.7" fill="#32648e"/>
<circle cx="383.55" cy="388.20" r="1.7" fill="#3c4f8a"/>
<circle cx="382.60" cy="393.35" r="1.7" fill="#443b84"/>
<circle cx="381.65" cy="398.50" r="1.7" fill="#3e4989"/>
<circle cx="380.70" cy="403.65" r="1.7" fill="#38588c"/>
<circle cx="379.75" cy="408.80" r="1.7" fill="#2e6f8e"/>
<circle cx="378.80" cy="413.95" r="1.7" fill="#3c508b"/>
<circle cx="377.85" cy="419.10" r="1.7" fill="#3b518b"/>
<circle cx="376.90" cy="424.25" r="1.7" fill="#34618d"/>
<circle cx="375.95" cy="429.40" r="1.7" fill="#443b84"/>
<circle cx="388.10" cy="389.60" r="1.7" fill="#453781"/>
<circle cx="387.15" cy="394.75" r="1.7" fill="#463480"/>
<circle cx="386.20" cy="399.90" r="1.7" fill="#38588c"/>
<circle cx="385.25" cy="405.05" r="1.7" fill="#3a538b"/>
<circle cx="384.30" cy="410.20" r="1.7" fill="#2b758e"/>
<circle cx="383.35" cy="415.35" r="1.7" fill="#2c718e"/>
<circle cx="382.40" cy="420.50" r="1.7" fill="#2c728e"/>
<circle cx="390.75" cy="401.30" r="1.7" fill="#3d4d8a"/>
<circle cx="389.80" cy="406.45" r="1.7" fill="#3f4788"/>
<circle cx="388.85" cy="411.60" r="1.7" fill="#3e4989"/>
<circle cx="378.70" cy="350.70" r="1.7" fill="#2f6c8e"/>
<rect x="418.60" y="345.20" width="106.00" height="117.10" fill="#d3d3d3" stroke="#7a7a7a" stroke-width="0.8"/>
<circle cx="424.20" cy="371.90" r="1.7" fill="#34608d"/>
<circle cx="428.75" cy="373.30" r="1.7" fill="#3a538b"/>
<circle cx="427.80" cy="378.45" r="1.7" fill="#404588"/>
<circle cx="432.35" cy="379.85" r="1.7" fill="#38588c"/>
<circle cx="431.40" cy="385.00" r="1.7" fill="#32658e"/>
<circle cx="436.90" cy="381.25" r="1.7" fill="#2e6d8e"/>
<circle cx="435.95" cy="386.40" r="1.7" fill="#2a788e"/>
<circle cx="443.35" cy="372.35" r="1.7" fill="#2e6f8e"/>
<circle cx="442.40" cy="377.50" r="1.7" fill="#31688e"/>
<circle cx="441.45" cy="382.65" r="1.7" fill="#34608d"/>
<circle cx="440.50" cy="387.80" r="1.7" fill="#20928c"/>
<circle cx="439.55" cy="392.95" r="1.7" fill="#2e6d8e"/>
<circle cx="438.60" cy="398.10" r="1.7" fill="#2e6d8e"/>
<circle cx="437.65" cy="403.25" r="1.7" fill="#355f8d"/>
<circle cx="436.70" cy="408.40" r="1.7" fill="#2e6f8e"/>
<circle cx="448.85" cy="368.60" r="1.7" fill="#3c4f8a"/>
<circle cx="447.90" cy="373.75" r="1.7" fill="#3b518b"/>
<circle cx="446.95" cy="378.90" r="1.7" fill="#3a548c"/>
<circle cx="446.00" cy="384.05" r="1.7" fill="#30698e"/>
<circle cx="445.05" cy="389.20" r="1.7" fill="#1f9e89"/>
<circle cx="444.10" cy="394.35" r="1.7" fill="#29798e"/>
<circle cx="443.15" cy="399.50" r="1.7" fill="#34608d"/>
<circle cx="442.20" cy="404.65" r="1.7" fill="#355e8d"/>
<circle cx="441.25" cy="409.80" r="1.7" fill="#2a788e"/>
<circle cx="440.30" cy="414.95" r="1.7" fill="#33638d"/>
<circle cx="455.30" cy="359.70" r="1.7" fill="#365c8d"/>
<circle cx="454.35" cy="364.85" r="1.7" fill="#2b758e"/>
<circle cx="453.40" cy="370.00" r="1.7" fill="#31678e"/>
<circle cx="452.45" cy="375.15" r="1.7" fill="#2e6d8e"/>
<circle cx="451.50" cy="380.30" r="1.7" fill="#443983"/>
<circle cx="450.55" cy="385.45" r="1.7" fill="#3a548c"/>
<circle cx="449.60" cy="390.60" r="1.7" fill="#2a788e"/>
<circle cx="448.65" cy="395.75" r="1.7" fill="#2b758e"/>
<circle cx="447.70" cy="400.90" r="1.7" fill="#2b748e"/>
<circle cx="446.75" cy="406.05" r="1.7" fill="#3e4a89"/>
<circle cx="445.80" cy="411.20" r="1.7" fill="#38588c"/>
<circle cx="444.85" cy="416.35" r="1.7" fill="#3d4e8a"/>
<circle cx="443.90" cy="421.50" r="1.7" fill="#3b528b"/>
<circle cx="442.95" cy="426.65" r="1.7" fill="#27808e"/>
<circle cx="460.80" cy="355.95" r="1.7" fill="#306a8e"/>
<circle cx="459.85" cy="361.10" r="1.7" fill="#24868e"/>
<circle cx="458.90" cy="366.25" r="1.7" fill="#2d708e"/>
<circle cx="457.95" cy="371.40" r="1.7" fill="#2c728e"/>
<circle cx="457.00" cy="376.55" r="1.7" fill="#3e4a89"/>
<circle cx="456.05" cy="381.70" r="1.7" fill="#482475"/>
<circle cx="455.10" cy="386.85" r="1.7" fill="#443b84"/>
<circle cx="454.15" cy="392.00" r="1.7" fill="#33638d"/>
<circle cx="453.20" cy="397.15" r="1.7" fill="#404588"/>
<circle cx="452.25" cy="402.30" r="1.7" fill="#34618d"/>
<circle cx="451.30" cy="407.45" r="1.7" fill="#32648e"/>
<circle cx="450.35" cy="412.60" r="1.7" fill="#3a538b"/>
<circle cx="449.40" cy="417.75" r="1.7" fill="#375b8d"/>
<circle cx="448.45" cy="422.90" r="1.7" fill="#3b528b"/>
<circle cx="447.50" cy="428.05" r="1.7" fill="#32658e"/>
<circle cx="465.35" cy="357.35" r="1.7" fill="#375b8d"/>
<circle cx="464.40" cy="362.50" r="1.7" fill="#297b8e"/>
<circle cx="463.45" cy="367.65" r="1.7" fill="#277e8e"/>
<circle cx="462.50" cy="372.80" r="1.7" fill="#3c508b"/>
<circle cx="461.55" cy="377.95" r="1.7" fill="#472d7b"/>
<circle cx="460.60" cy="383.10" r="1.7" fill="#472c7a"/>
<circle cx="459.65" cy="388.25" r="1.7" fill="#423f85"/>
<circle cx="458.70" cy="393.40" r="1.7" fill="#463480"/>
<circle cx="457.75" cy="398.55" r="1.7" fill="#3f4889"/>
<circle cx="456.80" cy="403.70" r="1.7" fill="#3e4a89"/>
<circle cx="455.85" cy="408.85" r="1.7" fill="#2f6b8e"/>
<circle cx="454.90" cy="414.00" r="1.7" fill="#33628d"/>
<circle cx="453.95" cy="419.15" r="1.7" fill="#3d4d8a"/>
<circle cx="453.00" cy="424.30" r="1.7" fill="#38588c"/>
<circle cx="452.05" cy="429.45" r="1.7" fill="#297b8e"/>
<circle cx="451.10" cy="434.60" r="1.7" fill="#218e8d"/>
<circle cx="470.85" cy="353.60" r="1.7" fill="#375a8c"/>
<circle cx="469.90" cy="358.75" r="1.7" fill="#3f4788"/>
<circle cx="468.95" cy="363.90" r="1.7" fill="#39558c"/>
<circle cx="468.00" cy="369.05" r="1.7" fill="#2f6c8e"/>
<circle cx="467.05" cy="374.20" r="1.7" fill="#3d4e8a"/>
<circle cx="466.10" cy="379.35" r="1.7" fill="#453781"/>
<circle cx="465.15" cy="384.50" r="1.7" fill="#472c7a"/>
<circle cx="464.20" cy="389.65" r="1.7" fill="#3d4d8a"/>
<circle cx="463.25" cy="394.80" r="1.7" fill="#453781"/>
<circle cx="462.30" cy="399.95" r="1.7" fill="#3a538b"/>
<circle cx="461.35" cy="405.10" r="1.7" fill="#3b528b"/>
<circle cx="460.40" cy="410.25" r="1.7" fill="#38598c"/>
<circle cx="459.45" cy="415.40" r="1.7" fill="#2e6d8e"/>
<circle cx="458.50" cy="420.55" r="1.7" fill="#2c718e"/>
<circle cx="457.55" cy="425.70" r="1.7" fill="#34608d"/>
<circle cx="456.60" cy="430.85" r="1.7" fill="#2b758e"/>
<circle cx="455.65" cy="436.00" r="1.7" fill="#1f978b"/>
<circle cx="454.70" cy="441.15" r="1.7" fill="#23888e"/>
<circle cx="453.75" cy="446.30" r="1.7" fill="#218f8d"/>
<circle cx="475.40" cy="355.00" r="1.7" fill="#375a8c"/>
<circle cx="474.45" cy="360.15" r="1.7" fill="#404588"/>
<circle cx="473.50" cy="365.30" r="1.7" fill="#365d8d"/>
<circle cx="472.55" cy="370.45" r="1.7" fill="#3f4889"/>
<circle cx="471.60" cy="375.60" r="1.7" fill="#375a8c"/>
<circle cx="470.65" cy="380.75" r="1.7" fill="#453882"/>
<circle cx="469.70" cy="385.90" r="1.7" fill="#471063"/>
<circle cx="468.75" cy="391.05" r="1.7" fill="#440154"/>
<circle cx="467.80" cy="396.20" r="1.7" fill="#433d84"/>
<circle cx="466.85" cy="401.35" r="1.7" fill="#375b8d"/>
<circle cx="465.90" cy="406.50" r="1.7" fill="#2c738e"/>
<circle cx="464.95" cy="411.65" r="1.7" fill="#3d4d8a"/>
<circle cx="464.00" cy="416.80" r="1.7" fill="#365d8d"/>
<circle cx="463.05" cy="421.95" r="1.7" fill="#424086"/>
<circle cx="462.10" cy="427.10" r="1.7" fill="#3d4e8a"/>
<circle cx="461.15" cy="432.25" r="1.7" fill="#355f8d"/>
<circle cx="460.20" cy="437.40" r="1.7" fill="#2a788e"/>
<circle cx="459.25" cy="442.55" r="1.7" fill="#1f968b"/>
<circle cx="458.30" cy="447.70" r="1.7" fill="#50c46a"/>
<circle cx="457.35" cy="452.85" r="1.7" fill="#fde725"/>
<circle cx="456.40" cy="458.00" r="1.7" fill="#fde725"/>
<circle cx="479.95" cy="356.40" r="1.7" fill="#404688"/>
<circle cx="479.00" cy="361.55" r="1.7" fill="#3e4989"/>
<circle cx="478.05" cy="366.70" r="1.7" fill="#482374"/>
<circle cx="477.10" cy="371.85" r="1.7" fill="#482677"/>
<circle cx="476.15" cy="377.00" r="1.7" fill="#3a548c"/>
<circle cx="475.20" cy="382.15" r="1.7" fill="#3c4f8a"/>
<circle cx="474.25" cy="387.30" r="1.7" fill="#482173"/>
<circle cx="473.30" cy="392.45" r="1.7" fill="#440256"/>
<circle cx="472.35" cy="397.60" r="1.7" fill="#39568c"/>
<circle cx="471.40" cy="402.75" r="1.7" fill="#365d8d"/>
<circle cx="470.45" cy="407.90" r="1.7" fill="#23888e"/>
<circle cx="469.50" cy="413.05" r="1.7" fill="#2c728e"/>
<circle cx="468.55" cy="418.20" r="1.7" fill="#32648e"/>
<circle cx="467.60" cy="423.35" r="1.7" fill="#482677"/>
<circle cx="466.65" cy="428.50" r="1.7" fill="#3b518b"/>
<circle cx="465.70" cy="433.65" r="1.7" fill="#3b518b"/>
<circle cx="464.75" cy="438.80" r="1.7" fill="#2e6d8e"/>
<circle cx="463.80" cy="443.95" r="1.7" fill="#1f968b"/>
<circle cx="462.85" cy="449.10" r="1.7" fill="#3aba76"/>
<circle cx="461.90" cy="454.25" r="1.7" fill="#dae319"/>
<circle cx="485.45" cy="352.65" r="1.7" fill="#482374"/>
<circle cx="484.50" cy="357.80" r="1.7" fill="#482173"/>
<circle cx="483.55" cy="362.95" r="1.7" fill="#481b6d"/>
<circle cx="482.60" cy="368.10" r="1.7" fill="#481a6c"/>
<circle cx="481.65" cy="373.25" r="1.7" fill="#481b6d"/>
<circle cx="480.70" cy="378.40" r="1.7" fill="#472a7a"/>
<circle cx="479.75" cy="383.55" r="1.7" fill="#414487"/>
<circle cx="478.80" cy="388.70" r="1.7" fill="#3f4889"/>
<circle cx="477.85" cy="393.85" r="1.7" fill="#481d6f"/>
<circle cx="476.90" cy="399.00" r="1.7" fill="#3b528b"/>
<circle cx="475.95" cy="404.15" r="1.7" fill="#277f8e"/>
<circle cx="475.00" cy="409.30" r="1.7" fill="#25848e"/>
<circle cx="474.05" cy="414.45" r="1.7" fill="#228b8d"/>
<circle cx="473.10" cy="419.60" r="1.7" fill="#404588"/>
<circle cx="472.15" cy="424.75" r="1.7" fill="#3d4d8a"/>
<circle cx="471.20" cy="429.90" r="1.7" fill="#3e4c8a"/>
<circle cx="470.25" cy="435.05" r="1.7" fill="#39568c"/>
<circle cx="469.30" cy="440.20" r="1.7" fill="#3e4989"/>
<circle cx="468.35" cy="445.35" r="1.7" fill="#32658e"/>
<circle cx="467.40" cy="450.50" r="1.7" fill="#228c8d"/>
<circle cx="490.00" cy="354.05" r="1.7" fill="#482979"/>
<circle cx="489.05" cy="359.20" r="1.7" fill="#472a7a"/>
<circle cx="488.10" cy="364.35" r="1.7" fill="#471365"/>
<circle cx="487.15" cy="369.50" r="1.7" fill="#481a6c"/>
<circle cx="486.20" cy="374.65" r="1.7" fill="#471164"/>
<circle cx="485.25" cy="379.80" r="1.7" fill="#433d84"/>
<circle cx="484.30" cy="384.95" r="1.7" fill="#443983"/>
<circle cx="483.35" cy="390.10" r="1.7" fill="#472d7b"/>
<circle cx="482.40" cy="395.25" r="1.7" fill="#3c508b"/>
<circle cx="481.45" cy="400.40" r="1.7" fill="#365d8d"/>
<circle cx="480.50" cy="405.55" r="1.7" fill="#2f6b8e"/>
<circle cx="479.55" cy="410.70" r="1.7" fill="#297a8e"/>
<circle cx="478.60" cy="415.85" r="1.7" fill="#2e6d8e"/>
<circle cx="477.65" cy="421.00" r="1.7" fill="#433e85"/>
<circle cx="476.70" cy="426.15" r="1.7" fill="#46307e"/>
<circle cx="475.75" cy="431.30" r="1.7" fill="#433e85"/>
<circle cx="474.80" cy="436.45" r="1.7" fill="#482374"/>
<circle cx="473.85" cy="441.60" r="1.7" fill="#482374"/>
<circle cx="472.90" cy="446.75" r="1.7" fill="#404688"/>
<circle cx="494.55" cy="355.45" r="1.7" fill="#471063"/>
<circle cx="493.60" cy="360.60" r="1.7" fill="#472c7a"/>
<circle cx="492.65" cy="365.75" r="1.7" fill="#450457"/>
<circle cx="491.70" cy="370.90" r="1.7" fill="#46307e"/>
<circle cx="490.75" cy="376.05" r="1.7" fill="#433d84"/>
<circle cx="489.80" cy="381.20" r="1.7" fill="#453581"/>
<circle cx="488.85" cy="386.35" r="1.7" fill="#482173"/>
<circle cx="487.90" cy="391.50" r="1.7" fill="#433e85"/>
<circle cx="486.95" cy="396.65" r="1.7" fill="#453882"/>
<circle cx="486.00" cy="401.80" r="1.7" fill="#3a548c"/>
<circle cx="485.05" cy="406.95" r="1.7" fill="#453581"/>
<circle cx="484.10" cy="412.10" r="1.7" fill="#2f6b8e"/>
<circle cx="483.15" cy="417.25" r="1.7" fill="#30698e"/>
<circle cx="482.20" cy="422.40" r="1.7" fill="#3e4c8a"/>
<circle cx="481.25" cy="427.55" r="1.7" fill="#424086"/>
<circle cx="480.30" cy="432.70" r="1.7" fill="#481f70"/>
<circle cx="479.35" cy="437.85" r="1.7" fill="#3e4a89"/>
<circle cx="478.40" cy="443.00" r="1.7" fill="#482475"/>
<circle cx="499.10" cy="356.85" r="1.7" fill="#414487"/>
<circle cx="498.15" cy="362.00" r="1.7" fill="#443a83"/>
<circle cx="497.20" cy="367.15" r="1.7" fill="#450559"/>
<circle cx="496.25" cy="372.30" r="1.7" fill="#472f7d"/>
<circle cx="495.30" cy="377.45" r="1.7" fill="#414287"/>
<circle cx="494.35" cy="382.60" r="1.7" fill="#481b6d"/>
<circle cx="493.40" cy="387.75" r="1.7" fill="#46327e"/>
<circle cx="492.45" cy="392.90" r="1.7" fill="#3e4989"/>
<circle cx="491.50" cy="398.05" r="1.7" fill="#482374"/>
<circle cx="490.55" cy="403.20" r="1.7" fill="#433e85"/>
<circle cx="489.60" cy="408.35" r="1.7" fill="#482374"/>
<circle cx="488.65" cy="413.50" r="1.7" fill="#3c4f8a"/>
<circle cx="487.70" cy="418.65" r="1.7" fill="#482576"/>
<circle cx="486.75" cy="423.80" r="1.7" fill="#472e7c"/>
<circle cx="485.80" cy="428.95" r="1.7" fill="#472e7c"/>
<circle cx="484.85" cy="434.10" r="1.7" fill="#471164"/>
<circle cx="483.90" cy="439.25" r="1.7" fill="#482677"/>
<circle cx="482.95" cy="444.40" r="1.7" fill="#443983"/>
<circle cx="503.65" cy="358.25" r="1.7" fill="#481f70"/>
<circle cx="502.70" cy="363.40" r="1.7" fill="#440154"/>
<circle cx="501.75" cy="368.55" r="1.7" fill="#440154"/>
<circle cx="500.80" cy="373.70" r="1.7" fill="#450457"/>
<circle cx="499.85" cy="378.85" r="1.7" fill="#414287"/>
<circle cx="498.90" cy="384.00" r="1.7" fill="#433d84"/>
<circle cx="497.95" cy="389.15" r="1.7" fill="#3d4e8a"/>
<circle cx="497.00" cy="394.30" r="1.7" fill="#482979"/>
<circle cx="496.05" cy="399.45" r="1.7" fill="#404688"/>
<circle cx="495.10" cy="404.60" r="1.7" fill="#481668"/>
<circle cx="494.15" cy="409.75" r="1.7" fill="#46337f"/>
<circle cx="493.20" cy="414.90" r="1.7" fill="#463480"/>
<circle cx="492.25" cy="420.05" r="1.7" fill="#481b6d"/>
<circle cx="491.30" cy="425.20" r="1.7" fill="#433d84"/>
<circle cx="490.35" cy="430.35" r="1.7" fill="#482475"/>
<circle cx="489.40" cy="435.50" r="1.7" fill="#472f7d"/>
<circle cx="488.45" cy="440.65" r="1.7" fill="#3d4d8a"/>
<circle cx="508.20" cy="359.65" r="1.7" fill="#471365"/>
<circle cx="507.25" cy="364.80" r="1.7" fill="#423f85"/>
<circle cx="506.30" cy="369.95" r="1.7" fill="#482475"/>
<circle cx="505.35" cy="375.10" r="1.7" fill="#481c6e"/>
<circle cx="504.40" cy="380.25" r="1.7" fill="#433d84"/>
<circle cx="503.45" cy="385.40" r="1.7" fill="#482475"/>
<circle cx="502.50" cy="390.55" r="1.7" fill="#3a538b"/>
<circle cx="501.55" cy="395.70" r="1.7" fill="#414287"/>
<circle cx="500.60" cy="400.85" r="1.7" fill="#463480"/>
<circle cx="499.65" cy="406.00" r="1.7" fill="#404688"/>
<circle cx="498.70" cy="411.15" r="1.7" fill="#472f7d"/>
<circle cx="497.75" cy="416.30" r="1.7" fill="#470e61"/>
<circle cx="496.80" cy="421.45" r="1.7" fill="#482878"/>
<circle cx="495.85" cy="426.60" r="1.7" fill="#470d60"/>
<circle cx="494.90" cy="431.75" r="1.7" fill="#424086"/>
<circle cx="493.95" cy="436.90" r="1.7" fill="#482677"/>
<circle cx="511.80" cy="366.20" r="1.7" fill="#46327e"/>
<circle cx="510.85" cy="371.35" r="1.7" fill="#414487"/>
<circle cx="509.90" cy="376.50" r="1.7" fill="#472f7d"/>
<circle cx="508.95" cy="381.65" r="1.7" fill="#46327e"/>
<circle cx="508.00" cy="386.80" r="1.7" fill="#482071"/>
<circle cx="507.05" cy="391.95" r="1.7" fill="#482173"/>
<circle cx="506.10" cy="397.10" r="1.7" fill="#472e7c"/>
<circle cx="505.15" cy="402.25" r="1.7" fill="#46327e"/>
<circle cx="504.20" cy="407.40" r="1.7" fill="#404588"/>
<circle cx="503.25" cy="412.55" r="1.7" fill="#46327e"/>
<circle cx="502.30" cy="417.70" r="1.7" fill="#472c7a"/>
<circle cx="501.35" cy="422.85" r="1.7" fill="#433d84"/>
<circle cx="500.40" cy="428.00" r="1.7" fill="#481a6c"/>
<circle cx="499.45" cy="433.15" r="1.7" fill="#482677"/>
<circle cx="514.45" cy="377.90" r="1.7" fill="#453781"/>
<circle cx="513.50" cy="383.05" r="1.7" fill="#460a5d"/>
<circle cx="512.55" cy="388.20" r="1.7" fill="#470e61"/>
<circle cx="511.60" cy="393.35" r="1.7" fill="#404588"/>
<circle cx="510.65" cy="398.50" r="1.7" fill="#404588"/>
<circle cx="509.70" cy="403.65" r="1.7" fill="#3f4788"/>
<circle cx="508.75" cy="408.80" r="1.7" fill="#463480"/>
<circle cx="507.80" cy="413.95" r="1.7" fill="#424086"/>
<circle cx="506.85" cy="419.10" r="1.7" fill="#443a83"/>
<circle cx="505.90" cy="424.25" r="1.7" fill="#482374"/>
<circle cx="504.95" cy="429.40" r="1.7" fill="#433e85"/>
<circle cx="517.10" cy="389.60" r="1.7" fill="#433d84"/>
<circle cx="516.15" cy="394.75" r="1.7" fill="#404588"/>
<circle cx="515.20" cy="399.90" r="1.7" fill="#2d718e"/>
<circle cx="514.25" cy="405.05" r="1.7" fill="#414487"/>
<circle cx="513.30" cy="410.20" r="1.7" fill="#463480"/>
<circle cx="512.35" cy="415.35" r="1.7" fill="#482979"/>
<circle cx="511.40" cy="420.50" r="1.7" fill="#414487"/>
<circle cx="519.75" cy="401.30" r="1.7" fill="#31668e"/>
<circle cx="518.80" cy="406.45" r="1.7" fill="#365c8d"/>
<circle cx="517.85" cy="411.60" r="1.7" fill="#414287"/>
<circle cx="507.70" cy="350.70" r="1.7" fill="#482677"/>
<text x="90.85" y="341.0" font-size="9.7" text-anchor="middle" textLength="75.1" lengthAdjust="spacingAndGlyphs"><tspan font-style="italic">PRSS23</tspan> variance</text>
<text x="214.35" y="341.0" font-size="9.7" text-anchor="middle" textLength="64.9" lengthAdjust="spacingAndGlyphs"><tspan font-style="italic">CST4</tspan> variance</text>
<text x="340.95" y="341.0" font-size="9.7" text-anchor="middle" textLength="70.3" lengthAdjust="spacingAndGlyphs"><tspan font-style="italic">PRSS8</tspan> variance</text>
<text x="475.40" y="341.0" font-size="9.7" text-anchor="middle" textLength="66.0" lengthAdjust="spacingAndGlyphs"><tspan font-style="italic">NBAS</tspan> variance</text>
<rect x="531.50" y="345.40" width="5.30" height="116.10" fill="url(#vir)"/>
<line x1="536.80" y1="429.40" x2="539.30" y2="429.40" stroke="#555" stroke-width="0.7"/>
<text x="543.20" y="432.30" font-size="8.2" text-anchor="start" fill="#333333">0.25</text>
<line x1="536.80" y1="393.85" x2="539.30" y2="393.85" stroke="#555" stroke-width="0.7"/>
<text x="543.20" y="396.75" font-size="8.2" text-anchor="start" fill="#333333">0.50</text>
<line x1="536.80" y1="358.30" x2="539.30" y2="358.30" stroke="#555" stroke-width="0.7"/>
<text x="543.20" y="361.20" font-size="8.2" text-anchor="start" fill="#333333">0.75</text>
<rect x="610.50" y="336.40" width="114.50" height="108.60" fill="none" stroke="#8c8c8c" stroke-width="0.8"/>
<line x1="607.50" y1="441.60" x2="610.50" y2="441.60" stroke="#8c8c8c" stroke-width="0.8"/>
<text x="602.70" y="444.50" font-size="8.2" text-anchor="end" fill="#333333">0</text>
<line x1="607.50" y1="415.10" x2="610.50" y2="415.10" stroke="#8c8c8c" stroke-width="0.8"/>
<text x="602.70" y="418.00" font-size="8.2" text-anchor="end" fill="#333333">1</text>
<line x1="607.50" y1="388.60" x2="610.50" y2="388.60" stroke="#8c8c8c" stroke-width="0.8"/>
<text x="602.70" y="391.50" font-size="8.2" text-anchor="end" fill="#333333">2</text>
<line x1="607.50" y1="362.10" x2="610.50" y2="362.10" stroke="#8c8c8c" stroke-width="0.8"/>
<text x="602.70" y="365.00" font-size="8.2" text-anchor="end" fill="#333333">3</text>
<line x1="615.70" y1="445.00" x2="615.70" y2="448.00" stroke="#8c8c8c" stroke-width="0.8"/>
<text x="615.70" y="459.00" font-size="8.2" text-anchor="middle" fill="#333333">−2</text>
<line x1="667.70" y1="445.00" x2="667.70" y2="448.00" stroke="#8c8c8c" stroke-width="0.8"/>
<text x="667.70" y="459.00" font-size="8.2" text-anchor="middle" fill="#333333">0</text>
<line x1="719.70" y1="445.00" x2="719.70" y2="448.00" stroke="#8c8c8c" stroke-width="0.8"/>
<text x="719.70" y="459.00" font-size="8.2" text-anchor="middle" fill="#333333">2</text>
<text x="665.35" y="472.60" font-size="9.1" text-anchor="middle" textLength="73.1" lengthAdjust="spacingAndGlyphs">Enrichment score</text>
<text x="587.6" y="391.6" font-size="8.8" text-anchor="middle" fill="#231f20" textLength="54" lengthAdjust="spacingAndGlyphs" transform="rotate(-90 587.6 391.6)">−log<tspan font-size="6" dy="2">10</tspan><tspan dy="-2"> (</tspan><tspan font-style="italic">P</tspan> value)</text>
<path d="M613.15 370.05 l1.25 -1.25 l1.25 1.25 l-1.25 1.25z" fill="#111"/>
<path d="M622.25 341.43 l1.25 -1.25 l1.25 1.25 l-1.25 1.25z" fill="#111"/>
<path d="M622.25 346.20 l1.25 -1.25 l1.25 1.25 l-1.25 1.25z" fill="#111"/>
<path d="M619.65 401.32 l1.25 -1.25 l1.25 1.25 l-1.25 1.25z" fill="#111"/>
<path d="M627.45 430.21 l1.25 -1.25 l1.25 1.25 l-1.25 1.25z" fill="#111"/>
<path d="M628.23 431.00 l1.25 -1.25 l1.25 1.25 l-1.25 1.25z" fill="#111"/>
<path d="M632.65 436.04 l1.25 -1.25 l1.25 1.25 l-1.25 1.25z" fill="#111"/>
<path d="M635.25 436.83 l1.25 -1.25 l1.25 1.25 l-1.25 1.25z" fill="#111"/>
<path d="M636.55 437.36 l1.25 -1.25 l1.25 1.25 l-1.25 1.25z" fill="#111"/>
<path d="M639.15 438.42 l1.25 -1.25 l1.25 1.25 l-1.25 1.25z" fill="#111"/>
<path d="M640.97 439.22 l1.25 -1.25 l1.25 1.25 l-1.25 1.25z" fill="#111"/>
<path d="M642.53 439.75 l1.25 -1.25 l1.25 1.25 l-1.25 1.25z" fill="#111"/>
<path d="M643.57 440.01 l1.25 -1.25 l1.25 1.25 l-1.25 1.25z" fill="#111"/>
<path d="M645.65 440.41 l1.25 -1.25 l1.25 1.25 l-1.25 1.25z" fill="#111"/>
<path d="M648.25 440.81 l1.25 -1.25 l1.25 1.25 l-1.25 1.25z" fill="#111"/>
<path d="M650.33 440.94 l1.25 -1.25 l1.25 1.25 l-1.25 1.25z" fill="#111"/>
<path d="M649.29 441.07 l1.25 -1.25 l1.25 1.25 l-1.25 1.25z" fill="#111"/>
<path d="M681.01 441.07 l1.25 -1.25 l1.25 1.25 l-1.25 1.25z" fill="#111"/>
<path d="M682.57 441.07 l1.25 -1.25 l1.25 1.25 l-1.25 1.25z" fill="#111"/>
<path d="M684.65 440.94 l1.25 -1.25 l1.25 1.25 l-1.25 1.25z" fill="#111"/>
<path d="M686.21 440.81 l1.25 -1.25 l1.25 1.25 l-1.25 1.25z" fill="#111"/>
<path d="M687.77 440.54 l1.25 -1.25 l1.25 1.25 l-1.25 1.25z" fill="#111"/>
<path d="M689.85 440.28 l1.25 -1.25 l1.25 1.25 l-1.25 1.25z" fill="#111"/>
<path d="M691.93 439.75 l1.25 -1.25 l1.25 1.25 l-1.25 1.25z" fill="#111"/>
<path d="M693.75 438.95 l1.25 -1.25 l1.25 1.25 l-1.25 1.25z" fill="#111"/>
<path d="M695.57 438.42 l1.25 -1.25 l1.25 1.25 l-1.25 1.25z" fill="#111"/>
<path d="M697.65 437.62 l1.25 -1.25 l1.25 1.25 l-1.25 1.25z" fill="#111"/>
<path d="M699.73 436.56 l1.25 -1.25 l1.25 1.25 l-1.25 1.25z" fill="#111"/>
<path d="M700.77 435.77 l1.25 -1.25 l1.25 1.25 l-1.25 1.25z" fill="#111"/>
<path d="M702.33 430.47 l1.25 -1.25 l1.25 1.25 l-1.25 1.25z" fill="#111"/>
<path d="M704.93 427.82 l1.25 -1.25 l1.25 1.25 l-1.25 1.25z" fill="#111"/>
<path d="M705.45 430.74 l1.25 -1.25 l1.25 1.25 l-1.25 1.25z" fill="#111"/>
<path d="M715.07 364.22 l1.25 -1.25 l1.25 1.25 l-1.25 1.25z" fill="#111"/>
<path d="M715.07 386.75 l1.25 -1.25 l1.25 1.25 l-1.25 1.25z" fill="#111"/>
<text x="714.20" y="365.00" font-size="8.6" text-anchor="end" textLength="53.5" lengthAdjust="spacingAndGlyphs">MYC targets V1</text>
<text x="714.20" y="387.20" font-size="8.6" text-anchor="end" textLength="64.4" lengthAdjust="spacingAndGlyphs">KRAS signaling up</text>
<circle cx="107.70" cy="24.50" r="1.65" fill="#450457"/>
<circle cx="90.00" cy="30.07" r="1.65" fill="#46085c"/>
<circle cx="95.90" cy="30.07" r="1.65" fill="#450559"/>
<circle cx="101.80" cy="30.07" r="1.65" fill="#5ec962"/>
<circle cx="107.70" cy="30.07" r="1.65" fill="#1f9a8a"/>
<circle cx="54.60" cy="35.64" r="1.65" fill="#228d8d"/>
<circle cx="60.50" cy="35.64" r="1.65" fill="#440154"/>
<circle cx="66.40" cy="35.64" r="1.65" fill="#470d60"/>
<circle cx="72.30" cy="35.64" r="1.65" fill="#450457"/>
<circle cx="78.20" cy="35.64" r="1.65" fill="#450457"/>
<circle cx="84.10" cy="35.64" r="1.65" fill="#20a386"/>
<circle cx="90.00" cy="35.64" r="1.65" fill="#46075a"/>
<circle cx="95.90" cy="35.64" r="1.65" fill="#470d60"/>
<circle cx="101.80" cy="35.64" r="1.65" fill="#1f978b"/>
<circle cx="107.70" cy="35.64" r="1.65" fill="#460a5d"/>
<circle cx="113.60" cy="35.64" r="1.65" fill="#440256"/>
<circle cx="42.80" cy="41.21" r="1.65" fill="#1e9b8a"/>
<circle cx="48.70" cy="41.21" r="1.65" fill="#1fa188"/>
<circle cx="54.60" cy="41.21" r="1.65" fill="#b0dd2f"/>
<circle cx="60.50" cy="41.21" r="1.65" fill="#460b5e"/>
<circle cx="66.40" cy="41.21" r="1.65" fill="#460a5d"/>
<circle cx="72.30" cy="41.21" r="1.65" fill="#440154"/>
<circle cx="78.20" cy="41.21" r="1.65" fill="#460b5e"/>
<circle cx="84.10" cy="41.21" r="1.65" fill="#1f9a8a"/>
<circle cx="90.00" cy="41.21" r="1.65" fill="#450559"/>
<circle cx="95.90" cy="41.21" r="1.65" fill="#228c8d"/>
<circle cx="101.80" cy="41.21" r="1.65" fill="#470d60"/>
<circle cx="107.70" cy="41.21" r="1.65" fill="#46075a"/>
<circle cx="113.60" cy="41.21" r="1.65" fill="#460b5e"/>
<circle cx="119.50" cy="41.21" r="1.65" fill="#470d60"/>
<circle cx="36.90" cy="46.78" r="1.65" fill="#1e9d89"/>
<circle cx="42.80" cy="46.78" r="1.65" fill="#70cf57"/>
<circle cx="48.70" cy="46.78" r="1.65" fill="#46075a"/>
<circle cx="54.60" cy="46.78" r="1.65" fill="#1f9f88"/>
<circle cx="60.50" cy="46.78" r="1.65" fill="#56c667"/>
<circle cx="66.40" cy="46.78" r="1.65" fill="#70cf57"/>
<circle cx="72.30" cy="46.78" r="1.65" fill="#470d60"/>
<circle cx="78.20" cy="46.78" r="1.65" fill="#440154"/>
<circle cx="84.10" cy="46.78" r="1.65" fill="#440256"/>
<circle cx="90.00" cy="46.78" r="1.65" fill="#450457"/>
<circle cx="95.90" cy="46.78" r="1.65" fill="#470e61"/>
<circle cx="101.80" cy="46.78" r="1.65" fill="#46075a"/>
<circle cx="107.70" cy="46.78" r="1.65" fill="#460a5d"/>
<circle cx="113.60" cy="46.78" r="1.65" fill="#450559"/>
<circle cx="119.50" cy="46.78" r="1.65" fill="#2e6f8e"/>
<circle cx="19.20" cy="52.35" r="1.65" fill="#1f948c"/>
<circle cx="25.10" cy="52.35" r="1.65" fill="#2f6b8e"/>
<circle cx="31.00" cy="52.35" r="1.65" fill="#1f998a"/>
<circle cx="36.90" cy="52.35" r="1.65" fill="#1f998a"/>
<circle cx="42.80" cy="52.35" r="1.65" fill="#1fa187"/>
<circle cx="48.70" cy="52.35" r="1.65" fill="#63cb5f"/>
<circle cx="54.60" cy="52.35" r="1.65" fill="#1fa187"/>
<circle cx="60.50" cy="52.35" r="1.65" fill="#1fa088"/>
<circle cx="66.40" cy="52.35" r="1.65" fill="#20a386"/>
<circle cx="72.30" cy="52.35" r="1.65" fill="#1e9c89"/>
<circle cx="78.20" cy="52.35" r="1.65" fill="#440256"/>
<circle cx="84.10" cy="52.35" r="1.65" fill="#1fa088"/>
<circle cx="90.00" cy="52.35" r="1.65" fill="#470e61"/>
<circle cx="95.90" cy="52.35" r="1.65" fill="#470e61"/>
<circle cx="101.80" cy="52.35" r="1.65" fill="#46085c"/>
<circle cx="107.70" cy="52.35" r="1.65" fill="#460b5e"/>
<circle cx="113.60" cy="52.35" r="1.65" fill="#21918c"/>
<circle cx="119.50" cy="52.35" r="1.65" fill="#470d60"/>
<circle cx="125.40" cy="52.35" r="1.65" fill="#46085c"/>
<circle cx="19.20" cy="57.92" r="1.65" fill="#4cc26c"/>
<circle cx="25.10" cy="57.92" r="1.65" fill="#228d8d"/>
<circle cx="31.00" cy="57.92" r="1.65" fill="#2a778e"/>
<circle cx="36.90" cy="57.92" r="1.65" fill="#20a386"/>
<circle cx="42.80" cy="57.92" r="1.65" fill="#218e8d"/>
<circle cx="48.70" cy="57.92" r="1.65" fill="#69cd5b"/>
<circle cx="54.60" cy="57.92" r="1.65" fill="#1f958b"/>
<circle cx="60.50" cy="57.92" r="1.65" fill="#46c06f"/>
<circle cx="66.40" cy="57.92" r="1.65" fill="#20928c"/>
<circle cx="72.30" cy="57.92" r="1.65" fill="#c2df23"/>
<circle cx="78.20" cy="57.92" r="1.65" fill="#1fa188"/>
<circle cx="84.10" cy="57.92" r="1.65" fill="#440154"/>
<circle cx="90.00" cy="57.92" r="1.65" fill="#1f9a8a"/>
<circle cx="95.90" cy="57.92" r="1.65" fill="#440154"/>
<circle cx="101.80" cy="57.92" r="1.65" fill="#460b5e"/>
<circle cx="107.70" cy="57.92" r="1.65" fill="#20938c"/>
<circle cx="113.60" cy="57.92" r="1.65" fill="#470e61"/>
<circle cx="119.50" cy="57.92" r="1.65" fill="#1fa287"/>
<circle cx="125.40" cy="57.92" r="1.65" fill="#46085c"/>
<circle cx="19.20" cy="63.49" r="1.65" fill="#75d054"/>
<circle cx="25.10" cy="63.49" r="1.65" fill="#20928c"/>
<circle cx="31.00" cy="63.49" r="1.65" fill="#228d8d"/>
<circle cx="36.90" cy="63.49" r="1.65" fill="#2d718e"/>
<circle cx="42.80" cy="63.49" r="1.65" fill="#440154"/>
<circle cx="48.70" cy="63.49" r="1.65" fill="#21908d"/>
<circle cx="54.60" cy="63.49" r="1.65" fill="#46075a"/>
<circle cx="60.50" cy="63.49" r="1.65" fill="#460a5d"/>
<circle cx="66.40" cy="63.49" r="1.65" fill="#440256"/>
<circle cx="72.30" cy="63.49" r="1.65" fill="#440154"/>
<circle cx="78.20" cy="63.49" r="1.65" fill="#c8e020"/>
<circle cx="84.10" cy="63.49" r="1.65" fill="#450559"/>
<circle cx="90.00" cy="63.49" r="1.65" fill="#470e61"/>
<circle cx="95.90" cy="63.49" r="1.65" fill="#1fa188"/>
<circle cx="101.80" cy="63.49" r="1.65" fill="#450559"/>
<circle cx="107.70" cy="63.49" r="1.65" fill="#1f968b"/>
<circle cx="113.60" cy="63.49" r="1.65" fill="#46085c"/>
<circle cx="119.50" cy="63.49" r="1.65" fill="#460a5d"/>
<circle cx="125.40" cy="63.49" r="1.65" fill="#1f9a8a"/>
<circle cx="25.10" cy="69.06" r="1.65" fill="#1f998a"/>
<circle cx="31.00" cy="69.06" r="1.65" fill="#1f9a8a"/>
<circle cx="36.90" cy="69.06" r="1.65" fill="#1fa187"/>
<circle cx="42.80" cy="69.06" r="1.65" fill="#2e6f8e"/>
<circle cx="48.70" cy="69.06" r="1.65" fill="#1f958b"/>
<circle cx="54.60" cy="69.06" r="1.65" fill="#460b5e"/>
<circle cx="60.50" cy="69.06" r="1.65" fill="#450457"/>
<circle cx="66.40" cy="69.06" r="1.65" fill="#20928c"/>
<circle cx="72.30" cy="69.06" r="1.65" fill="#471063"/>
<circle cx="78.20" cy="69.06" r="1.65" fill="#46085c"/>
<circle cx="84.10" cy="69.06" r="1.65" fill="#1f988b"/>
<circle cx="90.00" cy="69.06" r="1.65" fill="#228c8d"/>
<circle cx="95.90" cy="69.06" r="1.65" fill="#1f958b"/>
<circle cx="101.80" cy="69.06" r="1.65" fill="#46085c"/>
<circle cx="107.70" cy="69.06" r="1.65" fill="#228c8d"/>
<circle cx="113.60" cy="69.06" r="1.65" fill="#1f9a8a"/>
<circle cx="119.50" cy="69.06" r="1.65" fill="#460a5d"/>
<circle cx="125.40" cy="69.06" r="1.65" fill="#440154"/>
<circle cx="25.10" cy="74.63" r="1.65" fill="#5ec962"/>
<circle cx="31.00" cy="74.63" r="1.65" fill="#46075a"/>
<circle cx="36.90" cy="74.63" r="1.65" fill="#1e9c89"/>
<circle cx="42.80" cy="74.63" r="1.65" fill="#20938c"/>
<circle cx="48.70" cy="74.63" r="1.65" fill="#1e9c89"/>
<circle cx="54.60" cy="74.63" r="1.65" fill="#1e9d89"/>
<circle cx="60.50" cy="74.63" r="1.65" fill="#228c8d"/>
<circle cx="66.40" cy="74.63" r="1.65" fill="#228d8d"/>
<circle cx="72.30" cy="74.63" r="1.65" fill="#2c728e"/>
<circle cx="78.20" cy="74.63" r="1.65" fill="#1fa287"/>
<circle cx="84.10" cy="74.63" r="1.65" fill="#31688e"/>
<circle cx="90.00" cy="74.63" r="1.65" fill="#1f968b"/>
<circle cx="95.90" cy="74.63" r="1.65" fill="#1f9a8a"/>
<circle cx="101.80" cy="74.63" r="1.65" fill="#20938c"/>
<circle cx="107.70" cy="74.63" r="1.65" fill="#1f948c"/>
<circle cx="113.60" cy="74.63" r="1.65" fill="#450559"/>
<circle cx="119.50" cy="74.63" r="1.65" fill="#1f948c"/>
<circle cx="125.40" cy="74.63" r="1.65" fill="#460a5d"/>
<circle cx="25.10" cy="80.20" r="1.65" fill="#450559"/>
<circle cx="31.00" cy="80.20" r="1.65" fill="#2f6c8e"/>
<circle cx="36.90" cy="80.20" r="1.65" fill="#1f9e89"/>
<circle cx="42.80" cy="80.20" r="1.65" fill="#228c8d"/>
<circle cx="48.70" cy="80.20" r="1.65" fill="#5cc863"/>
<circle cx="54.60" cy="80.20" r="1.65" fill="#1e9d89"/>
<circle cx="60.50" cy="80.20" r="1.65" fill="#4ec36b"/>
<circle cx="66.40" cy="80.20" r="1.65" fill="#21918c"/>
<circle cx="72.30" cy="80.20" r="1.65" fill="#470d60"/>
<circle cx="78.20" cy="80.20" r="1.65" fill="#4ac16d"/>
<circle cx="84.10" cy="80.20" r="1.65" fill="#21908d"/>
<circle cx="90.00" cy="80.20" r="1.65" fill="#2e6d8e"/>
<circle cx="95.90" cy="80.20" r="1.65" fill="#1e9c89"/>
<circle cx="101.80" cy="80.20" r="1.65" fill="#44bf70"/>
<circle cx="107.70" cy="80.20" r="1.65" fill="#450559"/>
<circle cx="113.60" cy="80.20" r="1.65" fill="#50c46a"/>
<circle cx="119.50" cy="80.20" r="1.65" fill="#1fa088"/>
<circle cx="125.40" cy="80.20" r="1.65" fill="#2e6d8e"/>
<circle cx="31.00" cy="85.77" r="1.65" fill="#1fa088"/>
<circle cx="36.90" cy="85.77" r="1.65" fill="#21908d"/>
<circle cx="42.80" cy="85.77" r="1.65" fill="#20938c"/>
<circle cx="48.70" cy="85.77" r="1.65" fill="#60ca60"/>
<circle cx="54.60" cy="85.77" r="1.65" fill="#6ece58"/>
<circle cx="60.50" cy="85.77" r="1.65" fill="#56c667"/>
<circle cx="66.40" cy="85.77" r="1.65" fill="#4ac16d"/>
<circle cx="72.30" cy="85.77" r="1.65" fill="#218e8d"/>
<circle cx="78.20" cy="85.77" r="1.65" fill="#46085c"/>
<circle cx="84.10" cy="85.77" r="1.65" fill="#21908d"/>
<circle cx="90.00" cy="85.77" r="1.65" fill="#2a768e"/>
<circle cx="95.90" cy="85.77" r="1.65" fill="#6ccd5a"/>
<circle cx="101.80" cy="85.77" r="1.65" fill="#21908d"/>
<circle cx="107.70" cy="85.77" r="1.65" fill="#20928c"/>
<circle cx="113.60" cy="85.77" r="1.65" fill="#1f9f88"/>
<circle cx="119.50" cy="85.77" r="1.65" fill="#460a5d"/>
<circle cx="125.40" cy="85.77" r="1.65" fill="#1f9f88"/>
<circle cx="31.00" cy="91.34" r="1.65" fill="#20938c"/>
<circle cx="36.90" cy="91.34" r="1.65" fill="#218f8d"/>
<circle cx="42.80" cy="91.34" r="1.65" fill="#4ec36b"/>
<circle cx="48.70" cy="91.34" r="1.65" fill="#1f9f88"/>
<circle cx="54.60" cy="91.34" r="1.65" fill="#a0da39"/>
<circle cx="60.50" cy="91.34" r="1.65" fill="#50c46a"/>
<circle cx="66.40" cy="91.34" r="1.65" fill="#1f958b"/>
<circle cx="72.30" cy="91.34" r="1.65" fill="#1f958b"/>
<circle cx="78.20" cy="91.34" r="1.65" fill="#1f958b"/>
<circle cx="84.10" cy="91.34" r="1.65" fill="#1fa187"/>
<circle cx="90.00" cy="91.34" r="1.65" fill="#218f8d"/>
<circle cx="95.90" cy="91.34" r="1.65" fill="#3fbc73"/>
<circle cx="101.80" cy="91.34" r="1.65" fill="#470e61"/>
<circle cx="107.70" cy="91.34" r="1.65" fill="#470e61"/>
<circle cx="113.60" cy="91.34" r="1.65" fill="#20a386"/>
<circle cx="119.50" cy="91.34" r="1.65" fill="#1f958b"/>
<circle cx="36.90" cy="96.91" r="1.65" fill="#1fa287"/>
<circle cx="42.80" cy="96.91" r="1.65" fill="#70cf57"/>
<circle cx="48.70" cy="96.91" r="1.65" fill="#4ac16d"/>
<circle cx="54.60" cy="96.91" r="1.65" fill="#c0df25"/>
<circle cx="60.50" cy="96.91" r="1.65" fill="#c5e021"/>
<circle cx="66.40" cy="96.91" r="1.65" fill="#60ca60"/>
<circle cx="72.30" cy="96.91" r="1.65" fill="#1f988b"/>
<circle cx="78.20" cy="96.91" r="1.65" fill="#4ec36b"/>
<circle cx="84.10" cy="96.91" r="1.65" fill="#50c46a"/>
<circle cx="90.00" cy="96.91" r="1.65" fill="#4ac16d"/>
<circle cx="95.90" cy="96.91" r="1.65" fill="#440154"/>
<circle cx="101.80" cy="96.91" r="1.65" fill="#460a5d"/>
<circle cx="107.70" cy="96.91" r="1.65" fill="#30698e"/>
<circle cx="113.60" cy="96.91" r="1.65" fill="#c5e021"/>
<circle cx="119.50" cy="96.91" r="1.65" fill="#228d8d"/>
<circle cx="36.90" cy="102.48" r="1.65" fill="#6ece58"/>
<circle cx="42.80" cy="102.48" r="1.65" fill="#63cb5f"/>
<circle cx="48.70" cy="102.48" r="1.65" fill="#cde11d"/>
<circle cx="54.60" cy="102.48" r="1.65" fill="#6ece58"/>
<circle cx="60.50" cy="102.48" r="1.65" fill="#6ece58"/>
<circle cx="66.40" cy="102.48" r="1.65" fill="#b5de2b"/>
<circle cx="72.30" cy="102.48" r="1.65" fill="#3fbc73"/>
<circle cx="78.20" cy="102.48" r="1.65" fill="#1e9d89"/>
<circle cx="84.10" cy="102.48" r="1.65" fill="#48c16e"/>
<circle cx="90.00" cy="102.48" r="1.65" fill="#20928c"/>
<circle cx="95.90" cy="102.48" r="1.65" fill="#1e9b8a"/>
<circle cx="101.80" cy="102.48" r="1.65" fill="#5ac864"/>
<circle cx="107.70" cy="102.48" r="1.65" fill="#aadc32"/>
<circle cx="113.60" cy="102.48" r="1.65" fill="#70cf57"/>
<circle cx="42.80" cy="108.05" r="1.65" fill="#b8de29"/>
<circle cx="48.70" cy="108.05" r="1.65" fill="#50c46a"/>
<circle cx="54.60" cy="108.05" r="1.65" fill="#4cc26c"/>
<circle cx="60.50" cy="108.05" r="1.65" fill="#6ccd5a"/>
<circle cx="66.40" cy="108.05" r="1.65" fill="#56c667"/>
<circle cx="72.30" cy="108.05" r="1.65" fill="#67cc5c"/>
<circle cx="78.20" cy="108.05" r="1.65" fill="#50c46a"/>
<circle cx="84.10" cy="108.05" r="1.65" fill="#48c16e"/>
<circle cx="90.00" cy="108.05" r="1.65" fill="#5ac864"/>
<circle cx="95.90" cy="108.05" r="1.65" fill="#69cd5b"/>
<circle cx="101.80" cy="108.05" r="1.65" fill="#98d83e"/>
<circle cx="107.70" cy="108.05" r="1.65" fill="#67cc5c"/>
<circle cx="42.80" cy="113.62" r="1.65" fill="#70cf57"/>
<circle cx="48.70" cy="113.62" r="1.65" fill="#c5e021"/>
<circle cx="54.60" cy="113.62" r="1.65" fill="#69cd5b"/>
<circle cx="60.50" cy="113.62" r="1.65" fill="#8ed645"/>
<circle cx="66.40" cy="113.62" r="1.65" fill="#5ec962"/>
<circle cx="72.30" cy="113.62" r="1.65" fill="#c8e020"/>
<circle cx="78.20" cy="113.62" r="1.65" fill="#40bd72"/>
<circle cx="84.10" cy="113.62" r="1.65" fill="#4cc26c"/>
<circle cx="90.00" cy="113.62" r="1.65" fill="#4cc26c"/>
<circle cx="95.90" cy="113.62" r="1.65" fill="#f4e61e"/>
<circle cx="48.70" cy="119.19" r="1.65" fill="#ece51b"/>
<circle cx="54.60" cy="119.19" r="1.65" fill="#addc30"/>
<circle cx="60.50" cy="119.19" r="1.65" fill="#c2df23"/>
<circle cx="66.40" cy="119.19" r="1.65" fill="#3fbc73"/>
<circle cx="72.30" cy="119.19" r="1.65" fill="#42be71"/>
<circle cx="78.20" cy="119.19" r="1.65" fill="#44bf70"/>
<circle cx="84.10" cy="119.19" r="1.65" fill="#44bf70"/>
<circle cx="90.00" cy="119.19" r="1.65" fill="#42be71"/>
<circle cx="48.70" cy="124.76" r="1.65" fill="#73d056"/>
<circle cx="54.60" cy="124.76" r="1.65" fill="#fde725"/>
<circle cx="60.50" cy="124.76" r="1.65" fill="#d8e219"/>
<circle cx="66.40" cy="124.76" r="1.65" fill="#f1e51d"/>
<circle cx="48.70" cy="130.33" r="1.65" fill="#4ec36b"/>
<circle cx="54.60" cy="130.33" r="1.65" fill="#e7e419"/>
<circle cx="60.50" cy="130.33" r="1.65" fill="#50c46a"/>
<circle cx="54.60" cy="135.90" r="1.65" fill="#60ca60"/>
<circle cx="12.12" cy="52.35" r="1.65" fill="#f1e51d"/>
<path d="M21.2 60.6h6.0M24.2 57.6v6.0M48.1 103.2h6.0M51.1 100.2v6.0M48.5 108.8h6.0M51.5 105.8v6.0M49.3 119.9h6.0M52.3 116.9v6.0M58.6 85.7h6.0M61.6 82.7v6.0M59.4 96.8h6.0M62.4 93.8v6.0M65.7 101.9h6.0M68.7 98.9v6.0M71.2 95.9h6.0M74.2 92.9v6.0" stroke="#bddf26" stroke-width="0.9" stroke-opacity="0.65" fill="none"/>
<path d="M21.6 66.1h6.0M24.6 63.1v6.0M64.1 79.7h6.0M67.1 76.7v6.0M71.6 101.5h6.0M74.6 98.5v6.0M77.5 101.0h6.0M80.5 98.0v6.0M89.7 105.7h6.0M92.7 102.7v6.0" stroke="#9bd93c" stroke-width="0.9" stroke-opacity="0.65" fill="none"/>
<path d="M27.1 60.1h6.0M30.1 57.1v6.0M46.4 81.0h6.0M49.4 78.0v6.0M46.8 86.6h6.0M49.8 83.6v6.0M52.7 86.1h6.0M55.7 83.1v6.0M58.2 80.1h6.0M61.2 77.1v6.0M69.1 68.1h6.0M72.1 65.1v6.0M73.8 51.0h6.0M76.8 48.0v6.0M88.0 83.5h6.0M91.0 80.5v6.0M99.0 71.5h6.0M102.0 68.5v6.0M102.8 43.3h6.0M105.8 40.3v6.0" stroke="#22a884" stroke-width="0.9" stroke-opacity="0.65" fill="none"/>
<path d="M27.5 65.7h6.0M30.5 62.7v6.0M53.6 97.2h6.0M56.6 94.2v6.0M60.7 113.5h6.0M63.7 110.5v6.0M65.3 96.3h6.0M68.3 93.3v6.0M83.8 106.1h6.0M86.8 103.1v6.0M86.8 66.8h6.0M89.8 63.8v6.0M93.1 71.9h6.0M96.1 68.9v6.0M93.9 83.0h6.0M96.9 80.0v6.0M123.3 80.8h6.0M126.3 77.8v6.0" stroke="#44bf70" stroke-width="0.9" stroke-opacity="0.65" fill="none"/>
<path d="M27.9 71.2h6.0M30.9 68.2v6.0M41.0 87.0h6.0M44.0 84.0v6.0M51.5 69.5h6.0M54.5 66.5v6.0M68.3 57.0h6.0M71.3 54.0v6.0M82.1 83.9h6.0M85.1 80.9v6.0M98.1 60.4h6.0M101.1 57.4v6.0" stroke="#25848e" stroke-width="0.9" stroke-opacity="0.65" fill="none"/>
<path d="M28.4 76.8h6.0M31.4 73.8v6.0M34.7 81.9h6.0M37.7 78.9v6.0M52.3 80.6h6.0M55.3 77.6v6.0M70.8 90.3h6.0M73.8 87.3v6.0M77.1 95.5h6.0M80.1 92.5v6.0M82.6 89.5h6.0M85.6 86.5v6.0M106.5 93.2h6.0M109.5 90.2v6.0" stroke="#7ad151" stroke-width="0.9" stroke-opacity="0.65" fill="none"/>
<path d="M28.8 82.3h6.0M31.8 79.3v6.0M38.5 53.7h6.0M41.5 50.7v6.0M40.1 75.9h6.0M43.1 72.9v6.0M47.7 97.7h6.0M50.7 94.7v6.0M55.2 119.4h6.0M58.2 116.4v6.0M55.7 46.8h6.0M58.7 43.8v6.0M66.2 107.5h6.0M69.2 104.5v6.0M81.3 72.8h6.0M84.3 69.8v6.0M83.0 95.0h6.0M86.0 92.0v6.0M88.4 89.0h6.0M91.4 86.0v6.0M90.6 38.6h6.0M93.6 35.6v6.0" stroke="#5ec962" stroke-width="0.9" stroke-opacity="0.65" fill="none"/>
<path d="M33.0 59.7h6.0M36.0 56.7v6.0M38.9 59.2h6.0M41.9 56.2v6.0M50.6 58.4h6.0M53.6 55.4v6.0M51.1 63.9h6.0M54.1 60.9v6.0M64.5 85.2h6.0M67.5 82.2v6.0M67.9 51.5h6.0M70.9 48.5v6.0M76.7 89.9h6.0M79.7 86.9v6.0M91.0 44.1h6.0M94.0 41.1v6.0M126.7 47.0h6.0M129.7 44.0v6.0M133.4 57.7h6.0M136.4 54.7v6.0" stroke="#1e9c89" stroke-width="0.9" stroke-opacity="0.65" fill="none"/>
<path d="M33.4 65.2h6.0M36.4 62.2v6.0M39.7 70.3h6.0M42.7 67.3v6.0M44.8 58.8h6.0M47.8 55.8v6.0M57.8 74.6h6.0M60.8 71.6v6.0M62.4 57.5h6.0M65.4 54.5v6.0M63.7 74.1h6.0M66.7 71.1v6.0M70.0 79.2h6.0M73.0 76.2v6.0M74.2 56.6h6.0M77.2 53.6v6.0M115.8 59.0h6.0M118.8 56.0v6.0M116.2 64.6h6.0M119.2 61.6v6.0M117.4 81.3h6.0M120.4 78.3v6.0M123.7 86.4h6.0M126.7 83.4v6.0" stroke="#21918c" stroke-width="0.9" stroke-opacity="0.65" fill="none"/>
<path d="M33.8 70.8h6.0M36.8 67.8v6.0M40.5 81.5h6.0M43.5 78.5v6.0M46.0 75.5h6.0M49.0 72.5v6.0M49.8 47.2h6.0M52.8 44.2v6.0M51.9 75.0h6.0M54.9 72.0v6.0M69.5 73.7h6.0M72.5 70.7v6.0M76.3 84.4h6.0M79.3 81.4v6.0M80.1 56.1h6.0M83.1 53.1v6.0M92.7 66.4h6.0M95.7 63.4v6.0M105.3 76.6h6.0M108.3 73.6v6.0M110.7 70.6h6.0M113.7 67.6v6.0" stroke="#2a788e" stroke-width="0.9" stroke-opacity="0.65" fill="none"/>
<path d="M34.2 76.3h6.0M37.2 73.3v6.0M45.2 64.3h6.0M48.2 61.3v6.0M67.0 40.4h6.0M70.0 37.4v6.0M68.7 62.6h6.0M71.7 59.6v6.0M74.6 62.1h6.0M77.6 59.1v6.0M75.0 67.7h6.0M78.0 64.7v6.0M79.2 45.0h6.0M82.2 42.0v6.0M79.6 50.6h6.0M82.6 47.6v6.0M80.9 67.2h6.0M83.9 64.2v6.0M84.7 39.0h6.0M87.7 36.0v6.0M85.5 50.1h6.0M88.5 47.1v6.0M86.4 61.3h6.0M89.4 58.3v6.0M92.2 60.8h6.0M95.2 57.8v6.0M96.5 38.1h6.0M99.5 35.1v6.0M97.7 54.8h6.0M100.7 51.8v6.0M102.3 37.7h6.0M105.3 34.7v6.0M103.6 54.4h6.0M106.6 51.4v6.0M104.4 65.5h6.0M107.4 62.5v6.0M106.1 87.7h6.0M109.1 84.7v6.0M108.6 42.8h6.0M111.6 39.8v6.0M109.1 48.4h6.0M112.1 45.4v6.0M109.9 59.5h6.0M112.9 56.5v6.0M113.7 31.3h6.0M116.7 28.3v6.0M114.1 36.8h6.0M117.1 33.8v6.0M114.5 42.4h6.0M117.5 39.4v6.0M115.4 53.5h6.0M118.4 50.5v6.0M120.4 41.9h6.0M123.4 38.9v6.0M121.7 58.6h6.0M124.7 55.6v6.0M122.1 64.2h6.0M125.1 61.2v6.0M126.3 41.5h6.0M129.3 38.5v6.0" stroke="#440154" stroke-width="0.9" stroke-opacity="0.65" fill="none"/>
<path d="M35.1 87.4h6.0M38.1 84.4v6.0M44.3 53.2h6.0M47.3 50.2v6.0M75.4 73.2h6.0M78.4 70.2v6.0M75.8 78.8h6.0M78.8 75.8v6.0M108.2 37.3h6.0M111.2 34.3v6.0M111.1 76.1h6.0M114.1 73.1v6.0M122.5 69.7h6.0M125.5 66.7v6.0" stroke="#2f6c8e" stroke-width="0.9" stroke-opacity="0.65" fill="none"/>
<path d="M35.5 93.0h6.0M38.5 90.0v6.0M50.2 52.8h6.0M53.2 49.8v6.0M56.5 57.9h6.0M59.5 54.9v6.0M61.2 40.8h6.0M64.2 37.8v6.0M61.6 46.4h6.0M64.6 43.4v6.0M62.0 51.9h6.0M65.0 48.9v6.0M72.0 107.0h6.0M75.0 104.0v6.0M91.8 55.3h6.0M94.8 52.3v6.0M94.3 88.6h6.0M97.3 85.6v6.0M99.8 82.6h6.0M102.8 79.6v6.0M104.8 71.0h6.0M107.8 68.0v6.0M117.0 75.7h6.0M120.0 72.7v6.0M128.8 74.8h6.0M131.8 71.8v6.0" stroke="#2fb47c" stroke-width="0.9" stroke-opacity="0.65" fill="none"/>
<path d="M39.3 64.8h6.0M42.3 61.8v6.0M56.9 63.5h6.0M59.9 60.5v6.0M103.2 48.8h6.0M106.2 45.8v6.0M105.7 82.1h6.0M108.7 79.1v6.0M127.1 52.6h6.0M130.1 49.6v6.0" stroke="#3b528b" stroke-width="0.9" stroke-opacity="0.65" fill="none"/>
<path d="M41.4 92.6h6.0M44.4 89.6v6.0M41.8 98.1h6.0M44.8 95.1v6.0M53.1 91.7h6.0M56.1 88.7v6.0M54.0 102.8h6.0M57.0 99.8v6.0M54.4 108.3h6.0M57.4 105.3v6.0M54.8 113.9h6.0M57.8 110.9v6.0M59.0 91.2h6.0M62.0 88.2v6.0M59.9 102.3h6.0M62.9 99.3v6.0M60.3 107.9h6.0M63.3 104.9v6.0M64.9 90.8h6.0M67.9 87.8v6.0M77.9 106.6h6.0M80.9 103.6v6.0M80.5 61.7h6.0M83.5 58.7v6.0M88.9 94.6h6.0M91.9 91.6v6.0M94.7 94.1h6.0M97.7 91.1v6.0M95.2 99.7h6.0M98.2 96.7v6.0M112.4 92.8h6.0M115.4 89.8v6.0" stroke="#fde725" stroke-width="0.9" stroke-opacity="0.65" fill="none"/>
<path d="M42.2 103.7h6.0M45.2 100.7v6.0M47.3 92.1h6.0M50.3 89.1v6.0M48.9 114.3h6.0M51.9 111.3v6.0M83.4 100.6h6.0M86.4 97.6v6.0M89.3 100.1h6.0M92.3 97.1v6.0M99.4 77.0h6.0M102.4 74.0v6.0M100.6 93.7h6.0M103.6 90.7v6.0M117.9 86.8h6.0M120.9 83.8v6.0M18.0 60.3h6.0M21.0 57.3v6.0" stroke="#dfe318" stroke-width="0.9" stroke-opacity="0.65" fill="none"/>
<path d="M45.6 69.9h6.0M48.6 66.9v6.0M56.1 52.4h6.0M59.1 49.4v6.0M63.2 68.6h6.0M66.2 65.6v6.0M81.7 78.4h6.0M84.7 75.4v6.0M85.1 44.6h6.0M88.1 41.6v6.0M85.9 55.7h6.0M88.9 52.7v6.0M91.4 49.7h6.0M94.4 46.7v6.0M93.5 77.5h6.0M96.5 74.5v6.0M104.0 59.9h6.0M107.0 56.9v6.0" stroke="#414487" stroke-width="0.9" stroke-opacity="0.65" fill="none"/>
<path d="M57.4 69.0h6.0M60.4 66.0v6.0M73.3 45.5h6.0M76.3 42.5v6.0M96.9 43.7h6.0M99.9 40.7v6.0M97.3 49.3h6.0M100.3 46.3v6.0M114.9 47.9h6.0M117.9 44.9v6.0M116.6 70.1h6.0M119.6 67.1v6.0M128.0 63.7h6.0M131.0 60.7v6.0" stroke="#471365" stroke-width="0.9" stroke-opacity="0.65" fill="none"/>
<path d="M62.8 63.0h6.0M65.8 60.0v6.0M67.5 45.9h6.0M70.5 42.9v6.0M100.2 88.1h6.0M103.2 85.1v6.0M109.5 53.9h6.0M112.5 50.9v6.0M111.6 81.7h6.0M114.6 78.7v6.0M120.8 47.5h6.0M123.8 44.5v6.0" stroke="#463480" stroke-width="0.9" stroke-opacity="0.65" fill="none"/>
<path d="M70.4 84.8h6.0M73.4 81.8v6.0M87.2 72.4h6.0M90.2 69.4v6.0M87.6 77.9h6.0M90.6 74.9v6.0M98.5 65.9h6.0M101.5 62.9v6.0M110.3 65.0h6.0M113.3 62.0v6.0M121.2 53.0h6.0M124.2 50.0v6.0" stroke="#355f8d" stroke-width="0.9" stroke-opacity="0.65" fill="none"/>
<path d="M72.9 39.9h6.0M75.9 36.9v6.0M78.8 39.5h6.0M81.8 36.5v6.0M112.0 87.3h6.0M115.0 84.3v6.0M120.0 36.4h6.0M123.0 33.4v6.0M122.9 75.3h6.0M125.9 72.3v6.0M127.5 58.2h6.0M130.5 55.2v6.0M128.4 69.3h6.0M131.4 66.3v6.0M133.0 52.2h6.0M136.0 49.2v6.0" stroke="#482475" stroke-width="0.9" stroke-opacity="0.65" fill="none"/>
<circle cx="270.65" cy="24.80" r="1.65" fill="#450457"/>
<circle cx="251.66" cy="30.35" r="1.65" fill="#46085c"/>
<circle cx="257.99" cy="30.35" r="1.65" fill="#450559"/>
<circle cx="264.32" cy="30.35" r="1.65" fill="#5ec962"/>
<circle cx="270.65" cy="30.35" r="1.65" fill="#1f9a8a"/>
<circle cx="213.68" cy="35.90" r="1.65" fill="#228d8d"/>
<circle cx="220.01" cy="35.90" r="1.65" fill="#440154"/>
<circle cx="226.34" cy="35.90" r="1.65" fill="#470d60"/>
<circle cx="232.67" cy="35.90" r="1.65" fill="#450457"/>
<circle cx="239.00" cy="35.90" r="1.65" fill="#450457"/>
<circle cx="245.33" cy="35.90" r="1.65" fill="#20a386"/>
<circle cx="251.66" cy="35.90" r="1.65" fill="#46075a"/>
<circle cx="257.99" cy="35.90" r="1.65" fill="#470d60"/>
<circle cx="264.32" cy="35.90" r="1.65" fill="#1f978b"/>
<circle cx="270.65" cy="35.90" r="1.65" fill="#460a5d"/>
<circle cx="276.98" cy="35.90" r="1.65" fill="#440256"/>
<circle cx="201.02" cy="41.45" r="1.65" fill="#1e9b8a"/>
<circle cx="207.35" cy="41.45" r="1.65" fill="#1fa188"/>
<circle cx="213.68" cy="41.45" r="1.65" fill="#b0dd2f"/>
<circle cx="220.01" cy="41.45" r="1.65" fill="#460b5e"/>
<circle cx="226.34" cy="41.45" r="1.65" fill="#460a5d"/>
<circle cx="232.67" cy="41.45" r="1.65" fill="#440154"/>
<circle cx="239.00" cy="41.45" r="1.65" fill="#460b5e"/>
<circle cx="245.33" cy="41.45" r="1.65" fill="#1f9a8a"/>
<circle cx="251.66" cy="41.45" r="1.65" fill="#450559"/>
<circle cx="257.99" cy="41.45" r="1.65" fill="#228c8d"/>
<circle cx="264.32" cy="41.45" r="1.65" fill="#470d60"/>
<circle cx="270.65" cy="41.45" r="1.65" fill="#46075a"/>
<circle cx="276.98" cy="41.45" r="1.65" fill="#460b5e"/>
<circle cx="283.31" cy="41.45" r="1.65" fill="#470d60"/>
<circle cx="194.69" cy="47.00" r="1.65" fill="#1e9d89"/>
<circle cx="201.02" cy="47.00" r="1.65" fill="#70cf57"/>
<circle cx="207.35" cy="47.00" r="1.65" fill="#46075a"/>
<circle cx="213.68" cy="47.00" r="1.65" fill="#1f9f88"/>
<circle cx="220.01" cy="47.00" r="1.65" fill="#56c667"/>
<circle cx="226.34" cy="47.00" r="1.65" fill="#70cf57"/>
<circle cx="232.67" cy="47.00" r="1.65" fill="#470d60"/>
<circle cx="239.00" cy="47.00" r="1.65" fill="#440154"/>
<circle cx="245.33" cy="47.00" r="1.65" fill="#440256"/>
<circle cx="251.66" cy="47.00" r="1.65" fill="#450457"/>
<circle cx="257.99" cy="47.00" r="1.65" fill="#470e61"/>
<circle cx="264.32" cy="47.00" r="1.65" fill="#46075a"/>
<circle cx="270.65" cy="47.00" r="1.65" fill="#460a5d"/>
<circle cx="276.98" cy="47.00" r="1.65" fill="#450559"/>
<circle cx="283.31" cy="47.00" r="1.65" fill="#2e6f8e"/>
<circle cx="175.70" cy="52.55" r="1.65" fill="#1f948c"/>
<circle cx="182.03" cy="52.55" r="1.65" fill="#2f6b8e"/>
<circle cx="188.36" cy="52.55" r="1.65" fill="#1f998a"/>
<circle cx="194.69" cy="52.55" r="1.65" fill="#1f998a"/>
<circle cx="201.02" cy="52.55" r="1.65" fill="#1fa187"/>
<circle cx="207.35" cy="52.55" r="1.65" fill="#63cb5f"/>
<circle cx="213.68" cy="52.55" r="1.65" fill="#1fa187"/>
<circle cx="220.01" cy="52.55" r="1.65" fill="#1fa088"/>
<circle cx="226.34" cy="52.55" r="1.65" fill="#20a386"/>
<circle cx="232.67" cy="52.55" r="1.65" fill="#1e9c89"/>
<circle cx="239.00" cy="52.55" r="1.65" fill="#440256"/>
<circle cx="245.33" cy="52.55" r="1.65" fill="#1fa088"/>
<circle cx="251.66" cy="52.55" r="1.65" fill="#470e61"/>
<circle cx="257.99" cy="52.55" r="1.65" fill="#470e61"/>
<circle cx="264.32" cy="52.55" r="1.65" fill="#46085c"/>
<circle cx="270.65" cy="52.55" r="1.65" fill="#460b5e"/>
<circle cx="276.98" cy="52.55" r="1.65" fill="#21918c"/>
<circle cx="283.31" cy="52.55" r="1.65" fill="#470d60"/>
<circle cx="289.64" cy="52.55" r="1.65" fill="#46085c"/>
<circle cx="175.70" cy="58.10" r="1.65" fill="#4cc26c"/>
<circle cx="182.03" cy="58.10" r="1.65" fill="#228d8d"/>
<circle cx="188.36" cy="58.10" r="1.65" fill="#2a778e"/>
<circle cx="194.69" cy="58.10" r="1.65" fill="#20a386"/>
<circle cx="201.02" cy="58.10" r="1.65" fill="#218e8d"/>
<circle cx="207.35" cy="58.10" r="1.65" fill="#69cd5b"/>
<circle cx="213.68" cy="58.10" r="1.65" fill="#1f958b"/>
<circle cx="220.01" cy="58.10" r="1.65" fill="#46c06f"/>
<circle cx="226.34" cy="58.10" r="1.65" fill="#20928c"/>
<circle cx="232.67" cy="58.10" r="1.65" fill="#c2df23"/>
<circle cx="239.00" cy="58.10" r="1.65" fill="#1fa188"/>
<circle cx="245.33" cy="58.10" r="1.65" fill="#440154"/>
<circle cx="251.66" cy="58.10" r="1.65" fill="#1f9a8a"/>
<circle cx="257.99" cy="58.10" r="1.65" fill="#440154"/>
<circle cx="264.32" cy="58.10" r="1.65" fill="#460b5e"/>
<circle cx="270.65" cy="58.10" r="1.65" fill="#20938c"/>
<circle cx="276.98" cy="58.10" r="1.65" fill="#470e61"/>
<circle cx="283.31" cy="58.10" r="1.65" fill="#1fa287"/>
<circle cx="289.64" cy="58.10" r="1.65" fill="#46085c"/>
<circle cx="175.70" cy="63.65" r="1.65" fill="#75d054"/>
<circle cx="182.03" cy="63.65" r="1.65" fill="#20928c"/>
<circle cx="188.36" cy="63.65" r="1.65" fill="#228d8d"/>
<circle cx="194.69" cy="63.65" r="1.65" fill="#2d718e"/>
<circle cx="201.02" cy="63.65" r="1.65" fill="#440154"/>
<circle cx="207.35" cy="63.65" r="1.65" fill="#21908d"/>
<circle cx="213.68" cy="63.65" r="1.65" fill="#46075a"/>
<circle cx="220.01" cy="63.65" r="1.65" fill="#460a5d"/>
<circle cx="226.34" cy="63.65" r="1.65" fill="#440256"/>
<circle cx="232.67" cy="63.65" r="1.65" fill="#440154"/>
<circle cx="239.00" cy="63.65" r="1.65" fill="#c8e020"/>
<circle cx="245.33" cy="63.65" r="1.65" fill="#450559"/>
<circle cx="251.66" cy="63.65" r="1.65" fill="#470e61"/>
<circle cx="257.99" cy="63.65" r="1.65" fill="#1fa188"/>
<circle cx="264.32" cy="63.65" r="1.65" fill="#450559"/>
<circle cx="270.65" cy="63.65" r="1.65" fill="#1f968b"/>
<circle cx="276.98" cy="63.65" r="1.65" fill="#46085c"/>
<circle cx="283.31" cy="63.65" r="1.65" fill="#460a5d"/>
<circle cx="289.64" cy="63.65" r="1.65" fill="#1f9a8a"/>
<circle cx="182.03" cy="69.20" r="1.65" fill="#1f998a"/>
<circle cx="188.36" cy="69.20" r="1.65" fill="#1f9a8a"/>
<circle cx="194.69" cy="69.20" r="1.65" fill="#1fa187"/>
<circle cx="201.02" cy="69.20" r="1.65" fill="#2e6f8e"/>
<circle cx="207.35" cy="69.20" r="1.65" fill="#1f958b"/>
<circle cx="213.68" cy="69.20" r="1.65" fill="#460b5e"/>
<circle cx="220.01" cy="69.20" r="1.65" fill="#450457"/>
<circle cx="226.34" cy="69.20" r="1.65" fill="#20928c"/>
<circle cx="232.67" cy="69.20" r="1.65" fill="#471063"/>
<circle cx="239.00" cy="69.20" r="1.65" fill="#46085c"/>
<circle cx="245.33" cy="69.20" r="1.65" fill="#1f988b"/>
<circle cx="251.66" cy="69.20" r="1.65" fill="#228c8d"/>
<circle cx="257.99" cy="69.20" r="1.65" fill="#1f958b"/>
<circle cx="264.32" cy="69.20" r="1.65" fill="#46085c"/>
<circle cx="270.65" cy="69.20" r="1.65" fill="#228c8d"/>
<circle cx="276.98" cy="69.20" r="1.65" fill="#1f9a8a"/>
<circle cx="283.31" cy="69.20" r="1.65" fill="#460a5d"/>
<circle cx="289.64" cy="69.20" r="1.65" fill="#440154"/>
<circle cx="182.03" cy="74.75" r="1.65" fill="#5ec962"/>
<circle cx="188.36" cy="74.75" r="1.65" fill="#46075a"/>
<circle cx="194.69" cy="74.75" r="1.65" fill="#1e9c89"/>
<circle cx="201.02" cy="74.75" r="1.65" fill="#20938c"/>
<circle cx="207.35" cy="74.75" r="1.65" fill="#1e9c89"/>
<circle cx="213.68" cy="74.75" r="1.65" fill="#1e9d89"/>
<circle cx="220.01" cy="74.75" r="1.65" fill="#228c8d"/>
<circle cx="226.34" cy="74.75" r="1.65" fill="#228d8d"/>
<circle cx="232.67" cy="74.75" r="1.65" fill="#2c728e"/>
<circle cx="239.00" cy="74.75" r="1.65" fill="#1fa287"/>
<circle cx="245.33" cy="74.75" r="1.65" fill="#31688e"/>
<circle cx="251.66" cy="74.75" r="1.65" fill="#1f968b"/>
<circle cx="257.99" cy="74.75" r="1.65" fill="#1f9a8a"/>
<circle cx="264.32" cy="74.75" r="1.65" fill="#20938c"/>
<circle cx="270.65" cy="74.75" r="1.65" fill="#1f948c"/>
<circle cx="276.98" cy="74.75" r="1.65" fill="#450559"/>
<circle cx="283.31" cy="74.75" r="1.65" fill="#1f948c"/>
<circle cx="289.64" cy="74.75" r="1.65" fill="#460a5d"/>
<circle cx="182.03" cy="80.30" r="1.65" fill="#450559"/>
<circle cx="188.36" cy="80.30" r="1.65" fill="#2f6c8e"/>
<circle cx="194.69" cy="80.30" r="1.65" fill="#1f9e89"/>
<circle cx="201.02" cy="80.30" r="1.65" fill="#228c8d"/>
<circle cx="207.35" cy="80.30" r="1.65" fill="#5cc863"/>
<circle cx="213.68" cy="80.30" r="1.65" fill="#1e9d89"/>
<circle cx="220.01" cy="80.30" r="1.65" fill="#4ec36b"/>
<circle cx="226.34" cy="80.30" r="1.65" fill="#21918c"/>
<circle cx="232.67" cy="80.30" r="1.65" fill="#470d60"/>
<circle cx="239.00" cy="80.30" r="1.65" fill="#4ac16d"/>
<circle cx="245.33" cy="80.30" r="1.65" fill="#21908d"/>
<circle cx="251.66" cy="80.30" r="1.65" fill="#2e6d8e"/>
<circle cx="257.99" cy="80.30" r="1.65" fill="#1e9c89"/>
<circle cx="264.32" cy="80.30" r="1.65" fill="#44bf70"/>
<circle cx="270.65" cy="80.30" r="1.65" fill="#450559"/>
<circle cx="276.98" cy="80.30" r="1.65" fill="#50c46a"/>
<circle cx="283.31" cy="80.30" r="1.65" fill="#1fa088"/>
<circle cx="289.64" cy="80.30" r="1.65" fill="#2e6d8e"/>
<circle cx="188.36" cy="85.85" r="1.65" fill="#1fa088"/>
<circle cx="194.69" cy="85.85" r="1.65" fill="#21908d"/>
<circle cx="201.02" cy="85.85" r="1.65" fill="#20938c"/>
<circle cx="207.35" cy="85.85" r="1.65" fill="#60ca60"/>
<circle cx="213.68" cy="85.85" r="1.65" fill="#6ece58"/>
<circle cx="220.01" cy="85.85" r="1.65" fill="#56c667"/>
<circle cx="226.34" cy="85.85" r="1.65" fill="#4ac16d"/>
<circle cx="232.67" cy="85.85" r="1.65" fill="#218e8d"/>
<circle cx="239.00" cy="85.85" r="1.65" fill="#46085c"/>
<circle cx="245.33" cy="85.85" r="1.65" fill="#21908d"/>
<circle cx="251.66" cy="85.85" r="1.65" fill="#2a768e"/>
<circle cx="257.99" cy="85.85" r="1.65" fill="#6ccd5a"/>
<circle cx="264.32" cy="85.85" r="1.65" fill="#21908d"/>
<circle cx="270.65" cy="85.85" r="1.65" fill="#20928c"/>
<circle cx="276.98" cy="85.85" r="1.65" fill="#1f9f88"/>
<circle cx="283.31" cy="85.85" r="1.65" fill="#460a5d"/>
<circle cx="289.64" cy="85.85" r="1.65" fill="#1f9f88"/>
<circle cx="188.36" cy="91.40" r="1.65" fill="#20938c"/>
<circle cx="194.69" cy="91.40" r="1.65" fill="#218f8d"/>
<circle cx="201.02" cy="91.40" r="1.65" fill="#4ec36b"/>
<circle cx="207.35" cy="91.40" r="1.65" fill="#1f9f88"/>
<circle cx="213.68" cy="91.40" r="1.65" fill="#a0da39"/>
<circle cx="220.01" cy="91.40" r="1.65" fill="#50c46a"/>
<circle cx="226.34" cy="91.40" r="1.65" fill="#1f958b"/>
<circle cx="232.67" cy="91.40" r="1.65" fill="#1f958b"/>
<circle cx="239.00" cy="91.40" r="1.65" fill="#1f958b"/>
<circle cx="245.33" cy="91.40" r="1.65" fill="#1fa187"/>
<circle cx="251.66" cy="91.40" r="1.65" fill="#218f8d"/>
<circle cx="257.99" cy="91.40" r="1.65" fill="#3fbc73"/>
<circle cx="264.32" cy="91.40" r="1.65" fill="#470e61"/>
<circle cx="270.65" cy="91.40" r="1.65" fill="#470e61"/>
<circle cx="276.98" cy="91.40" r="1.65" fill="#20a386"/>
<circle cx="283.31" cy="91.40" r="1.65" fill="#1f958b"/>
<circle cx="194.69" cy="96.95" r="1.65" fill="#1fa287"/>
<circle cx="201.02" cy="96.95" r="1.65" fill="#70cf57"/>
<circle cx="207.35" cy="96.95" r="1.65" fill="#4ac16d"/>
<circle cx="213.68" cy="96.95" r="1.65" fill="#c0df25"/>
<circle cx="220.01" cy="96.95" r="1.65" fill="#c5e021"/>
<circle cx="226.34" cy="96.95" r="1.65" fill="#60ca60"/>
<circle cx="232.67" cy="96.95" r="1.65" fill="#1f988b"/>
<circle cx="239.00" cy="96.95" r="1.65" fill="#4ec36b"/>
<circle cx="245.33" cy="96.95" r="1.65" fill="#50c46a"/>
<circle cx="251.66" cy="96.95" r="1.65" fill="#4ac16d"/>
<circle cx="257.99" cy="96.95" r="1.65" fill="#440154"/>
<circle cx="264.32" cy="96.95" r="1.65" fill="#460a5d"/>
<circle cx="270.65" cy="96.95" r="1.65" fill="#30698e"/>
<circle cx="276.98" cy="96.95" r="1.65" fill="#c5e021"/>
<circle cx="283.31" cy="96.95" r="1.65" fill="#228d8d"/>
<circle cx="194.69" cy="102.50" r="1.65" fill="#6ece58"/>
<circle cx="201.02" cy="102.50" r="1.65" fill="#63cb5f"/>
<circle cx="207.35" cy="102.50" r="1.65" fill="#cde11d"/>
<circle cx="213.68" cy="102.50" r="1.65" fill="#6ece58"/>
<circle cx="220.01" cy="102.50" r="1.65" fill="#6ece58"/>
<circle cx="226.34" cy="102.50" r="1.65" fill="#b5de2b"/>
<circle cx="232.67" cy="102.50" r="1.65" fill="#3fbc73"/>
<circle cx="239.00" cy="102.50" r="1.65" fill="#1e9d89"/>
<circle cx="245.33" cy="102.50" r="1.65" fill="#48c16e"/>
<circle cx="251.66" cy="102.50" r="1.65" fill="#20928c"/>
<circle cx="257.99" cy="102.50" r="1.65" fill="#1e9b8a"/>
<circle cx="264.32" cy="102.50" r="1.65" fill="#5ac864"/>
<circle cx="270.65" cy="102.50" r="1.65" fill="#aadc32"/>
<circle cx="276.98" cy="102.50" r="1.65" fill="#70cf57"/>
<circle cx="201.02" cy="108.05" r="1.65" fill="#b8de29"/>
<circle cx="207.35" cy="108.05" r="1.65" fill="#50c46a"/>
<circle cx="213.68" cy="108.05" r="1.65" fill="#4cc26c"/>
<circle cx="220.01" cy="108.05" r="1.65" fill="#6ccd5a"/>
<circle cx="226.34" cy="108.05" r="1.65" fill="#56c667"/>
<circle cx="232.67" cy="108.05" r="1.65" fill="#67cc5c"/>
<circle cx="239.00" cy="108.05" r="1.65" fill="#50c46a"/>
<circle cx="245.33" cy="108.05" r="1.65" fill="#48c16e"/>
<circle cx="251.66" cy="108.05" r="1.65" fill="#5ac864"/>
<circle cx="257.99" cy="108.05" r="1.65" fill="#69cd5b"/>
<circle cx="264.32" cy="108.05" r="1.65" fill="#98d83e"/>
<circle cx="270.65" cy="108.05" r="1.65" fill="#67cc5c"/>
<circle cx="201.02" cy="113.60" r="1.65" fill="#70cf57"/>
<circle cx="207.35" cy="113.60" r="1.65" fill="#c5e021"/>
<circle cx="213.68" cy="113.60" r="1.65" fill="#69cd5b"/>
<circle cx="220.01" cy="113.60" r="1.65" fill="#8ed645"/>
<circle cx="226.34" cy="113.60" r="1.65" fill="#5ec962"/>
<circle cx="232.67" cy="113.60" r="1.65" fill="#c8e020"/>
<circle cx="239.00" cy="113.60" r="1.65" fill="#40bd72"/>
<circle cx="245.33" cy="113.60" r="1.65" fill="#4cc26c"/>
<circle cx="251.66" cy="113.60" r="1.65" fill="#4cc26c"/>
<circle cx="257.99" cy="113.60" r="1.65" fill="#f4e61e"/>
<circle cx="207.35" cy="119.15" r="1.65" fill="#ece51b"/>
<circle cx="213.68" cy="119.15" r="1.65" fill="#addc30"/>
<circle cx="220.01" cy="119.15" r="1.65" fill="#c2df23"/>
<circle cx="226.34" cy="119.15" r="1.65" fill="#3fbc73"/>
<circle cx="232.67" cy="119.15" r="1.65" fill="#42be71"/>
<circle cx="239.00" cy="119.15" r="1.65" fill="#44bf70"/>
<circle cx="245.33" cy="119.15" r="1.65" fill="#44bf70"/>
<circle cx="251.66" cy="119.15" r="1.65" fill="#42be71"/>
<circle cx="207.35" cy="124.70" r="1.65" fill="#73d056"/>
<circle cx="213.68" cy="124.70" r="1.65" fill="#fde725"/>
<circle cx="220.01" cy="124.70" r="1.65" fill="#d8e219"/>
<circle cx="226.34" cy="124.70" r="1.65" fill="#f1e51d"/>
<circle cx="207.35" cy="130.25" r="1.65" fill="#4ec36b"/>
<circle cx="213.68" cy="130.25" r="1.65" fill="#e7e419"/>
<circle cx="220.01" cy="130.25" r="1.65" fill="#50c46a"/>
<circle cx="213.68" cy="135.80" r="1.65" fill="#60ca60"/>
<circle cx="168.10" cy="52.55" r="1.65" fill="#f1e51d"/>
<path d="M166.8 67.2h6.0M169.8 64.2v6.0M178.3 90.1h6.0M181.3 87.1v6.0M185.8 68.2h6.0M188.8 65.2v6.0M191.2 85.2h6.0M194.2 82.2v6.0M204.2 80.3h6.0M207.2 77.3v6.0M236.1 76.4h6.0M239.1 73.4v6.0M242.4 76.7h6.0M245.4 73.7v6.0M241.8 87.8h6.0M244.8 84.8v6.0M249.6 60.4h6.0M252.6 57.4v6.0M268.5 61.4h6.0M271.5 58.4v6.0M274.0 78.4h6.0M277.0 75.4v6.0" stroke="#2a788e" stroke-width="0.9" stroke-opacity="0.68" fill="none"/>
<path d="M166.5 72.8h6.0M169.5 69.8v6.0M184.3 95.9h6.0M187.3 92.9v6.0M196.1 113.2h6.0M199.1 110.2v6.0M203.6 91.4h6.0M206.6 88.4v6.0M201.8 124.6h6.0M204.8 121.6v6.0M217.7 64.3h6.0M220.7 61.3v6.0M234.9 98.6h6.0M237.9 95.6v6.0M234.3 109.7h6.0M237.3 106.7v6.0M247.0 110.3h6.0M250.0 107.3v6.0M254.2 94.0h6.0M257.2 91.0v6.0" stroke="#9bd93c" stroke-width="0.9" stroke-opacity="0.68" fill="none"/>
<path d="M173.1 67.6h6.0M176.1 64.6v6.0M178.9 79.0h6.0M181.9 76.0v6.0M186.1 62.7h6.0M189.1 59.7v6.0M184.6 90.4h6.0M187.6 87.4v6.0M191.5 79.6h6.0M194.5 76.6v6.0M204.7 69.2h6.0M207.7 66.2v6.0M224.3 59.1h6.0M227.3 56.1v6.0M228.9 92.7h6.0M231.9 89.7v6.0M237.5 48.7h6.0M240.5 45.7v6.0M255.6 66.3h6.0M258.6 63.3v6.0M255.0 77.4h6.0M258.0 74.4v6.0M280.6 73.2h6.0M283.6 70.2v6.0" stroke="#1e9c89" stroke-width="0.9" stroke-opacity="0.68" fill="none"/>
<path d="M172.8 73.1h6.0M175.8 70.1v6.0M179.5 67.9h6.0M182.5 64.9v6.0M179.2 73.4h6.0M182.2 70.4v6.0M186.4 57.1h6.0M189.4 54.1v6.0M198.4 68.9h6.0M201.4 65.9v6.0M197.8 80.0h6.0M200.8 77.0v6.0M197.3 91.1h6.0M200.3 88.1v6.0M211.6 58.5h6.0M214.6 55.5v6.0M218.0 58.8h6.0M221.0 55.8v6.0M223.4 75.8h6.0M226.4 72.8v6.0M248.1 88.2h6.0M251.1 85.2v6.0M256.8 44.2h6.0M259.8 41.2v6.0M263.4 38.9h6.0M266.4 35.9v6.0M268.3 67.0h6.0M271.3 64.0v6.0M268.0 72.5h6.0M271.0 69.5v6.0M274.6 67.3h6.0M277.6 64.3v6.0M280.0 84.3h6.0M283.0 81.3v6.0M287.5 62.4h6.0M290.5 59.4v6.0" stroke="#21918c" stroke-width="0.9" stroke-opacity="0.68" fill="none"/>
<path d="M172.6 78.6h6.0M175.6 75.6v6.0M185.2 79.3h6.0M188.2 76.3v6.0M199.3 52.3h6.0M202.3 49.3v6.0M243.8 49.0h6.0M246.8 46.0v6.0M273.7 83.9h6.0M276.7 80.9v6.0M286.9 73.5h6.0M289.9 70.5v6.0" stroke="#25848e" stroke-width="0.9" stroke-opacity="0.68" fill="none"/>
<path d="M179.8 62.3h6.0M182.8 59.3v6.0M178.6 84.5h6.0M181.6 81.5v6.0M193.0 51.9h6.0M196.0 48.9v6.0M205.9 47.0h6.0M208.9 44.0v6.0M205.3 58.1h6.0M208.3 55.1v6.0M218.3 53.3h6.0M221.3 50.3v6.0M216.8 81.0h6.0M219.8 78.0v6.0M223.1 81.3h6.0M226.1 78.3v6.0M222.5 92.4h6.0M225.5 89.4v6.0M230.6 59.5h6.0M233.6 56.5v6.0M237.8 43.2h6.0M240.8 40.2v6.0M235.5 87.5h6.0M238.5 84.5v6.0M242.1 82.3h6.0M245.1 79.3v6.0M261.3 77.7h6.0M264.3 74.7v6.0M286.6 79.1h6.0M289.6 76.1v6.0" stroke="#2fb47c" stroke-width="0.9" stroke-opacity="0.68" fill="none"/>
<path d="M185.5 73.8h6.0M188.5 70.8v6.0M192.4 63.0h6.0M195.4 60.0v6.0M190.7 96.3h6.0M193.7 93.3v6.0M205.0 63.7h6.0M208.0 60.7v6.0M204.5 74.8h6.0M207.5 71.8v6.0M216.5 86.5h6.0M219.5 83.5v6.0M235.8 82.0h6.0M238.8 79.0v6.0M255.3 71.9h6.0M258.3 68.9v6.0M254.7 82.9h6.0M257.7 79.9v6.0M261.6 72.2h6.0M264.6 69.2v6.0M281.5 56.6h6.0M284.5 53.6v6.0M279.7 89.8h6.0M282.7 86.8v6.0" stroke="#22a884" stroke-width="0.9" stroke-opacity="0.68" fill="none"/>
<path d="M184.9 84.8h6.0M187.9 81.8v6.0M267.1 89.2h6.0M270.1 86.2v6.0" stroke="#3b528b" stroke-width="0.9" stroke-opacity="0.68" fill="none"/>
<path d="M192.7 57.5h6.0M195.7 54.5v6.0M202.1 119.1h6.0M205.1 116.1v6.0M234.6 104.1h6.0M237.6 101.1v6.0M241.5 93.4h6.0M244.5 90.4v6.0M241.2 98.9h6.0M244.2 95.9v6.0M240.6 110.0h6.0M243.6 107.0v6.0M254.4 88.5h6.0M257.4 85.5v6.0M273.4 89.5h6.0M276.4 86.5v6.0" stroke="#bddf26" stroke-width="0.9" stroke-opacity="0.68" fill="none"/>
<path d="M192.1 68.6h6.0M195.1 65.6v6.0M191.8 74.1h6.0M194.8 71.1v6.0M198.1 74.4h6.0M201.1 71.4v6.0M229.7 76.1h6.0M232.7 73.1v6.0" stroke="#355f8d" stroke-width="0.9" stroke-opacity="0.68" fill="none"/>
<path d="M190.9 90.7h6.0M193.9 87.7v6.0M190.4 101.8h6.0M193.4 98.8v6.0M196.7 102.1h6.0M199.7 99.1v6.0M210.2 86.2h6.0M213.2 83.2v6.0M209.0 108.3h6.0M212.0 105.3v6.0M221.7 109.0h6.0M224.7 106.0v6.0M228.6 98.3h6.0M231.6 95.3v6.0M260.5 94.4h6.0M263.5 91.4v6.0" stroke="#7ad151" stroke-width="0.9" stroke-opacity="0.68" fill="none"/>
<path d="M190.1 107.3h6.0M193.1 104.3v6.0M197.0 96.6h6.0M200.0 93.6v6.0M196.4 107.7h6.0M199.4 104.7v6.0M205.6 52.6h6.0M208.6 49.6v6.0M203.0 102.5h6.0M206.0 99.5v6.0M202.7 108.0h6.0M205.7 105.0v6.0M202.4 113.6h6.0M205.4 110.6v6.0M209.9 91.7h6.0M212.9 88.7v6.0M209.6 97.3h6.0M212.6 94.3v6.0M209.3 102.8h6.0M212.3 99.8v6.0M208.7 113.9h6.0M211.7 110.9v6.0M208.5 119.4h6.0M211.5 116.4v6.0M208.2 125.0h6.0M211.2 122.0v6.0M215.9 97.6h6.0M218.9 94.6v6.0M215.6 103.1h6.0M218.6 100.1v6.0M215.1 114.2h6.0M218.1 111.2v6.0M214.8 119.8h6.0M217.8 116.8v6.0M222.0 103.5h6.0M225.0 100.5v6.0M228.3 103.8h6.0M231.3 100.8v6.0M228.0 109.3h6.0M231.0 106.3v6.0M235.2 93.0h6.0M238.2 90.0v6.0M240.9 104.5h6.0M243.9 101.5v6.0M247.8 93.7h6.0M250.8 90.7v6.0M253.9 99.6h6.0M256.9 96.6v6.0M253.6 105.1h6.0M256.6 102.1v6.0M260.2 99.9h6.0M263.2 96.9v6.0M266.8 94.7h6.0M269.8 91.7v6.0M273.1 95.0h6.0M276.1 92.0v6.0" stroke="#fde725" stroke-width="0.9" stroke-opacity="0.68" fill="none"/>
<path d="M199.0 57.8h6.0M202.0 54.8v6.0M224.9 48.0h6.0M227.9 45.0v6.0M223.7 70.2h6.0M226.7 67.2v6.0M231.2 48.4h6.0M234.2 45.4v6.0M236.9 59.8h6.0M239.9 56.8v6.0M244.1 43.5h6.0M247.1 40.5v6.0M275.4 50.7h6.0M278.4 47.7v6.0M282.1 45.5h6.0M285.1 42.5v6.0" stroke="#463480" stroke-width="0.9" stroke-opacity="0.68" fill="none"/>
<path d="M198.7 63.3h6.0M201.7 60.3v6.0M203.9 85.8h6.0M206.9 82.8v6.0M203.3 96.9h6.0M206.3 93.9v6.0M210.5 80.6h6.0M213.5 77.6v6.0M230.3 65.0h6.0M233.3 62.0v6.0M247.3 104.8h6.0M250.3 101.8v6.0" stroke="#5ec962" stroke-width="0.9" stroke-opacity="0.68" fill="none"/>
<path d="M197.6 85.5h6.0M200.6 82.5v6.0M211.4 64.0h6.0M214.4 61.0v6.0M229.2 87.2h6.0M232.2 84.2v6.0M242.7 71.2h6.0M245.7 68.2v6.0M249.0 71.5h6.0M252.0 68.5v6.0M248.4 82.6h6.0M251.4 79.6v6.0M261.1 83.3h6.0M264.1 80.3v6.0" stroke="#2f6c8e" stroke-width="0.9" stroke-opacity="0.68" fill="none"/>
<path d="M212.2 47.4h6.0M215.2 44.4v6.0M211.1 69.5h6.0M214.1 66.5v6.0M218.6 47.7h6.0M221.6 44.7v6.0M217.4 69.9h6.0M220.4 66.9v6.0M230.0 70.5h6.0M233.0 67.5v6.0M229.5 81.6h6.0M232.5 78.6v6.0M237.2 54.2h6.0M240.2 51.2v6.0M243.5 54.6h6.0M246.5 51.6v6.0M243.3 60.1h6.0M246.3 57.1v6.0M250.7 38.3h6.0M253.7 35.3v6.0M250.4 43.8h6.0M253.4 40.8v6.0M249.3 66.0h6.0M252.3 63.0v6.0M256.5 49.7h6.0M259.5 46.7v6.0M256.2 55.2h6.0M259.2 52.2v6.0M255.9 60.8h6.0M258.9 57.8v6.0M263.7 33.4h6.0M266.7 30.4v6.0M263.1 44.5h6.0M266.1 41.5v6.0M262.5 55.6h6.0M265.5 52.6v6.0M261.9 66.7h6.0M264.9 63.7v6.0M260.8 88.8h6.0M263.8 85.8v6.0M269.7 39.3h6.0M272.7 36.3v6.0M269.4 44.8h6.0M272.4 41.8v6.0M275.7 45.1h6.0M278.7 42.1v6.0M274.9 61.8h6.0M277.9 58.8v6.0M281.8 51.0h6.0M284.8 48.0v6.0M281.2 62.1h6.0M284.2 59.1v6.0M288.1 51.4h6.0M291.1 48.4v6.0M287.8 56.9h6.0M290.8 53.9v6.0M287.2 68.0h6.0M290.2 65.0v6.0" stroke="#440154" stroke-width="0.9" stroke-opacity="0.68" fill="none"/>
<path d="M211.9 52.9h6.0M214.9 49.9v6.0M224.6 53.6h6.0M227.6 50.6v6.0M250.2 49.4h6.0M253.2 46.4v6.0M249.9 54.9h6.0M252.9 51.9v6.0M248.7 77.1h6.0M251.7 74.1v6.0M268.8 55.9h6.0M271.8 52.9v6.0M267.4 83.6h6.0M270.4 80.6v6.0M275.2 56.2h6.0M278.2 53.2v6.0M274.3 72.9h6.0M277.3 69.9v6.0" stroke="#414487" stroke-width="0.9" stroke-opacity="0.68" fill="none"/>
<path d="M210.8 75.1h6.0M213.8 72.1v6.0M231.5 42.8h6.0M234.5 39.8v6.0M236.4 70.9h6.0M239.4 67.9v6.0M243.0 65.7h6.0M246.0 62.7v6.0M262.8 50.0h6.0M265.8 47.0v6.0M262.2 61.1h6.0M265.2 58.1v6.0M267.7 78.1h6.0M270.7 75.1v6.0M280.9 67.6h6.0M283.9 64.6v6.0" stroke="#482475" stroke-width="0.9" stroke-opacity="0.68" fill="none"/>
<path d="M217.1 75.4h6.0M220.1 72.4v6.0M230.9 53.9h6.0M233.9 50.9v6.0M244.4 37.9h6.0M247.4 34.9v6.0M269.1 50.4h6.0M272.1 47.4v6.0M276.0 39.6h6.0M279.0 36.6v6.0M280.3 78.7h6.0M283.3 75.7v6.0" stroke="#471365" stroke-width="0.9" stroke-opacity="0.68" fill="none"/>
<path d="M216.2 92.0h6.0M219.2 89.0v6.0M224.0 64.7h6.0M227.0 61.7v6.0M222.8 86.8h6.0M225.8 83.8v6.0M221.4 114.5h6.0M224.4 111.5v6.0M257.1 38.6h6.0M260.1 35.6v6.0" stroke="#44bf70" stroke-width="0.9" stroke-opacity="0.68" fill="none"/>
<path d="M215.4 108.7h6.0M218.4 105.7v6.0M222.3 97.9h6.0M225.3 94.9v6.0M236.6 65.3h6.0M239.6 62.3v6.0M247.5 99.2h6.0M250.5 96.2v6.0M266.5 100.2h6.0M269.5 97.2v6.0M163.7 67.6h6.0M166.7 64.6v6.0" stroke="#dfe318" stroke-width="0.9" stroke-opacity="0.68" fill="none"/>
<circle cx="423.05" cy="24.70" r="1.5" fill="#450457"/>
<circle cx="404.00" cy="30.26" r="1.5" fill="#46085c"/>
<circle cx="410.35" cy="30.26" r="1.5" fill="#450559"/>
<circle cx="416.70" cy="30.26" r="1.5" fill="#3fbc73"/>
<circle cx="423.05" cy="30.26" r="1.5" fill="#228c8d"/>
<circle cx="365.90" cy="35.82" r="1.5" fill="#365c8d"/>
<circle cx="372.25" cy="35.82" r="1.5" fill="#440154"/>
<circle cx="378.60" cy="35.82" r="1.5" fill="#470d60"/>
<circle cx="384.95" cy="35.82" r="1.5" fill="#450457"/>
<circle cx="391.30" cy="35.82" r="1.5" fill="#450457"/>
<circle cx="397.65" cy="35.82" r="1.5" fill="#1f958b"/>
<circle cx="404.00" cy="35.82" r="1.5" fill="#46075a"/>
<circle cx="410.35" cy="35.82" r="1.5" fill="#470d60"/>
<circle cx="416.70" cy="35.82" r="1.5" fill="#23888e"/>
<circle cx="423.05" cy="35.82" r="1.5" fill="#460a5d"/>
<circle cx="429.40" cy="35.82" r="1.5" fill="#440256"/>
<circle cx="353.20" cy="41.38" r="1.5" fill="#306a8e"/>
<circle cx="359.55" cy="41.38" r="1.5" fill="#2d708e"/>
<circle cx="365.90" cy="41.38" r="1.5" fill="#b0dd2f"/>
<circle cx="372.25" cy="41.38" r="1.5" fill="#460b5e"/>
<circle cx="378.60" cy="41.38" r="1.5" fill="#460a5d"/>
<circle cx="384.95" cy="41.38" r="1.5" fill="#440154"/>
<circle cx="391.30" cy="41.38" r="1.5" fill="#460b5e"/>
<circle cx="397.65" cy="41.38" r="1.5" fill="#228b8d"/>
<circle cx="404.00" cy="41.38" r="1.5" fill="#450559"/>
<circle cx="410.35" cy="41.38" r="1.5" fill="#277e8e"/>
<circle cx="416.70" cy="41.38" r="1.5" fill="#470d60"/>
<circle cx="423.05" cy="41.38" r="1.5" fill="#46075a"/>
<circle cx="429.40" cy="41.38" r="1.5" fill="#460b5e"/>
<circle cx="435.75" cy="41.38" r="1.5" fill="#470d60"/>
<circle cx="346.85" cy="46.94" r="1.5" fill="#2f6c8e"/>
<circle cx="353.20" cy="46.94" r="1.5" fill="#20a486"/>
<circle cx="359.55" cy="46.94" r="1.5" fill="#46075a"/>
<circle cx="365.90" cy="46.94" r="1.5" fill="#2e6f8e"/>
<circle cx="372.25" cy="46.94" r="1.5" fill="#1f988b"/>
<circle cx="378.60" cy="46.94" r="1.5" fill="#20a486"/>
<circle cx="384.95" cy="46.94" r="1.5" fill="#470d60"/>
<circle cx="391.30" cy="46.94" r="1.5" fill="#440154"/>
<circle cx="397.65" cy="46.94" r="1.5" fill="#440256"/>
<circle cx="404.00" cy="46.94" r="1.5" fill="#450457"/>
<circle cx="410.35" cy="46.94" r="1.5" fill="#470e61"/>
<circle cx="416.70" cy="46.94" r="1.5" fill="#46075a"/>
<circle cx="423.05" cy="46.94" r="1.5" fill="#460a5d"/>
<circle cx="429.40" cy="46.94" r="1.5" fill="#450559"/>
<circle cx="435.75" cy="46.94" r="1.5" fill="#355f8d"/>
<circle cx="327.80" cy="52.50" r="1.5" fill="#32648e"/>
<circle cx="334.15" cy="52.50" r="1.5" fill="#46337f"/>
<circle cx="340.50" cy="52.50" r="1.5" fill="#30698e"/>
<circle cx="346.85" cy="52.50" r="1.5" fill="#30698e"/>
<circle cx="353.20" cy="52.50" r="1.5" fill="#2d718e"/>
<circle cx="359.55" cy="52.50" r="1.5" fill="#1f9e89"/>
<circle cx="365.90" cy="52.50" r="1.5" fill="#2c718e"/>
<circle cx="372.25" cy="52.50" r="1.5" fill="#2d708e"/>
<circle cx="378.60" cy="52.50" r="1.5" fill="#2c738e"/>
<circle cx="384.95" cy="52.50" r="1.5" fill="#228d8d"/>
<circle cx="391.30" cy="52.50" r="1.5" fill="#440256"/>
<circle cx="397.65" cy="52.50" r="1.5" fill="#20928c"/>
<circle cx="404.00" cy="52.50" r="1.5" fill="#470e61"/>
<circle cx="410.35" cy="52.50" r="1.5" fill="#470e61"/>
<circle cx="416.70" cy="52.50" r="1.5" fill="#46085c"/>
<circle cx="423.05" cy="52.50" r="1.5" fill="#460b5e"/>
<circle cx="429.40" cy="52.50" r="1.5" fill="#26828e"/>
<circle cx="435.75" cy="52.50" r="1.5" fill="#470d60"/>
<circle cx="442.10" cy="52.50" r="1.5" fill="#46085c"/>
<circle cx="327.80" cy="58.06" r="1.5" fill="#1f948c"/>
<circle cx="334.15" cy="58.06" r="1.5" fill="#365c8d"/>
<circle cx="340.50" cy="58.06" r="1.5" fill="#414287"/>
<circle cx="346.85" cy="58.06" r="1.5" fill="#2c738e"/>
<circle cx="353.20" cy="58.06" r="1.5" fill="#365c8d"/>
<circle cx="359.55" cy="58.06" r="1.5" fill="#1fa188"/>
<circle cx="365.90" cy="58.06" r="1.5" fill="#32658e"/>
<circle cx="372.25" cy="58.06" r="1.5" fill="#20928c"/>
<circle cx="378.60" cy="58.06" r="1.5" fill="#33628d"/>
<circle cx="384.95" cy="58.06" r="1.5" fill="#c2df23"/>
<circle cx="391.30" cy="58.06" r="1.5" fill="#20928c"/>
<circle cx="397.65" cy="58.06" r="1.5" fill="#440154"/>
<circle cx="404.00" cy="58.06" r="1.5" fill="#228c8d"/>
<circle cx="410.35" cy="58.06" r="1.5" fill="#440154"/>
<circle cx="416.70" cy="58.06" r="1.5" fill="#460b5e"/>
<circle cx="423.05" cy="58.06" r="1.5" fill="#25848e"/>
<circle cx="429.40" cy="58.06" r="1.5" fill="#470e61"/>
<circle cx="435.75" cy="58.06" r="1.5" fill="#1f948c"/>
<circle cx="442.10" cy="58.06" r="1.5" fill="#46085c"/>
<circle cx="327.80" cy="63.62" r="1.5" fill="#21a685"/>
<circle cx="334.15" cy="63.62" r="1.5" fill="#33628d"/>
<circle cx="340.50" cy="63.62" r="1.5" fill="#365c8d"/>
<circle cx="346.85" cy="63.62" r="1.5" fill="#443a83"/>
<circle cx="353.20" cy="63.62" r="1.5" fill="#440154"/>
<circle cx="359.55" cy="63.62" r="1.5" fill="#355f8d"/>
<circle cx="365.90" cy="63.62" r="1.5" fill="#46075a"/>
<circle cx="372.25" cy="63.62" r="1.5" fill="#460a5d"/>
<circle cx="378.60" cy="63.62" r="1.5" fill="#440256"/>
<circle cx="384.95" cy="63.62" r="1.5" fill="#440154"/>
<circle cx="391.30" cy="63.62" r="1.5" fill="#c8e020"/>
<circle cx="397.65" cy="63.62" r="1.5" fill="#450559"/>
<circle cx="404.00" cy="63.62" r="1.5" fill="#470e61"/>
<circle cx="410.35" cy="63.62" r="1.5" fill="#20928c"/>
<circle cx="416.70" cy="63.62" r="1.5" fill="#450559"/>
<circle cx="423.05" cy="63.62" r="1.5" fill="#23888e"/>
<circle cx="429.40" cy="63.62" r="1.5" fill="#46085c"/>
<circle cx="435.75" cy="63.62" r="1.5" fill="#460a5d"/>
<circle cx="442.10" cy="63.62" r="1.5" fill="#228b8d"/>
<circle cx="334.15" cy="69.18" r="1.5" fill="#31688e"/>
<circle cx="340.50" cy="69.18" r="1.5" fill="#306a8e"/>
<circle cx="346.85" cy="69.18" r="1.5" fill="#2c718e"/>
<circle cx="353.20" cy="69.18" r="1.5" fill="#453882"/>
<circle cx="359.55" cy="69.18" r="1.5" fill="#32658e"/>
<circle cx="365.90" cy="69.18" r="1.5" fill="#460b5e"/>
<circle cx="372.25" cy="69.18" r="1.5" fill="#450457"/>
<circle cx="378.60" cy="69.18" r="1.5" fill="#33628d"/>
<circle cx="384.95" cy="69.18" r="1.5" fill="#471063"/>
<circle cx="391.30" cy="69.18" r="1.5" fill="#46085c"/>
<circle cx="397.65" cy="69.18" r="1.5" fill="#238a8d"/>
<circle cx="404.00" cy="69.18" r="1.5" fill="#287d8e"/>
<circle cx="410.35" cy="69.18" r="1.5" fill="#24878e"/>
<circle cx="416.70" cy="69.18" r="1.5" fill="#46085c"/>
<circle cx="423.05" cy="69.18" r="1.5" fill="#277e8e"/>
<circle cx="429.40" cy="69.18" r="1.5" fill="#228c8d"/>
<circle cx="435.75" cy="69.18" r="1.5" fill="#460a5d"/>
<circle cx="442.10" cy="69.18" r="1.5" fill="#440154"/>
<circle cx="334.15" cy="74.74" r="1.5" fill="#1e9d89"/>
<circle cx="340.50" cy="74.74" r="1.5" fill="#46075a"/>
<circle cx="346.85" cy="74.74" r="1.5" fill="#2f6c8e"/>
<circle cx="353.20" cy="74.74" r="1.5" fill="#33638d"/>
<circle cx="359.55" cy="74.74" r="1.5" fill="#2f6c8e"/>
<circle cx="365.90" cy="74.74" r="1.5" fill="#2e6d8e"/>
<circle cx="372.25" cy="74.74" r="1.5" fill="#375b8d"/>
<circle cx="378.60" cy="74.74" r="1.5" fill="#365c8d"/>
<circle cx="384.95" cy="74.74" r="1.5" fill="#32648e"/>
<circle cx="391.30" cy="74.74" r="1.5" fill="#1f948c"/>
<circle cx="397.65" cy="74.74" r="1.5" fill="#38598c"/>
<circle cx="404.00" cy="74.74" r="1.5" fill="#23888e"/>
<circle cx="410.35" cy="74.74" r="1.5" fill="#228b8d"/>
<circle cx="416.70" cy="74.74" r="1.5" fill="#25848e"/>
<circle cx="423.05" cy="74.74" r="1.5" fill="#25858e"/>
<circle cx="429.40" cy="74.74" r="1.5" fill="#450559"/>
<circle cx="435.75" cy="74.74" r="1.5" fill="#25858e"/>
<circle cx="442.10" cy="74.74" r="1.5" fill="#460a5d"/>
<circle cx="334.15" cy="80.30" r="1.5" fill="#450559"/>
<circle cx="340.50" cy="80.30" r="1.5" fill="#46337f"/>
<circle cx="346.85" cy="80.30" r="1.5" fill="#2e6e8e"/>
<circle cx="353.20" cy="80.30" r="1.5" fill="#375b8d"/>
<circle cx="359.55" cy="80.30" r="1.5" fill="#1e9c89"/>
<circle cx="365.90" cy="80.30" r="1.5" fill="#2e6d8e"/>
<circle cx="372.25" cy="80.30" r="1.5" fill="#1f958b"/>
<circle cx="378.60" cy="80.30" r="1.5" fill="#34608d"/>
<circle cx="384.95" cy="80.30" r="1.5" fill="#470d60"/>
<circle cx="391.30" cy="80.30" r="1.5" fill="#31b57b"/>
<circle cx="397.65" cy="80.30" r="1.5" fill="#26828e"/>
<circle cx="404.00" cy="80.30" r="1.5" fill="#355e8d"/>
<circle cx="410.35" cy="80.30" r="1.5" fill="#218e8d"/>
<circle cx="416.70" cy="80.30" r="1.5" fill="#2cb17e"/>
<circle cx="423.05" cy="80.30" r="1.5" fill="#450559"/>
<circle cx="429.40" cy="80.30" r="1.5" fill="#34b679"/>
<circle cx="435.75" cy="80.30" r="1.5" fill="#21918c"/>
<circle cx="442.10" cy="80.30" r="1.5" fill="#355e8d"/>
<circle cx="340.50" cy="85.86" r="1.5" fill="#2d708e"/>
<circle cx="346.85" cy="85.86" r="1.5" fill="#355f8d"/>
<circle cx="353.20" cy="85.86" r="1.5" fill="#33638d"/>
<circle cx="359.55" cy="85.86" r="1.5" fill="#1f9e89"/>
<circle cx="365.90" cy="85.86" r="1.5" fill="#20a386"/>
<circle cx="372.25" cy="85.86" r="1.5" fill="#1f988b"/>
<circle cx="378.60" cy="85.86" r="1.5" fill="#20938c"/>
<circle cx="384.95" cy="85.86" r="1.5" fill="#27808e"/>
<circle cx="391.30" cy="85.86" r="1.5" fill="#46085c"/>
<circle cx="397.65" cy="85.86" r="1.5" fill="#26828e"/>
<circle cx="404.00" cy="85.86" r="1.5" fill="#31678e"/>
<circle cx="410.35" cy="85.86" r="1.5" fill="#4ac16d"/>
<circle cx="416.70" cy="85.86" r="1.5" fill="#26828e"/>
<circle cx="423.05" cy="85.86" r="1.5" fill="#25838e"/>
<circle cx="429.40" cy="85.86" r="1.5" fill="#21918c"/>
<circle cx="435.75" cy="85.86" r="1.5" fill="#460a5d"/>
<circle cx="442.10" cy="85.86" r="1.5" fill="#21918c"/>
<circle cx="340.50" cy="91.42" r="1.5" fill="#33638d"/>
<circle cx="346.85" cy="91.42" r="1.5" fill="#355e8d"/>
<circle cx="353.20" cy="91.42" r="1.5" fill="#1f948c"/>
<circle cx="359.55" cy="91.42" r="1.5" fill="#2e6f8e"/>
<circle cx="365.90" cy="91.42" r="1.5" fill="#a0da39"/>
<circle cx="372.25" cy="91.42" r="1.5" fill="#1f968b"/>
<circle cx="378.60" cy="91.42" r="1.5" fill="#32658e"/>
<circle cx="384.95" cy="91.42" r="1.5" fill="#24878e"/>
<circle cx="391.30" cy="91.42" r="1.5" fill="#24878e"/>
<circle cx="397.65" cy="91.42" r="1.5" fill="#20938c"/>
<circle cx="404.00" cy="91.42" r="1.5" fill="#26818e"/>
<circle cx="410.35" cy="91.42" r="1.5" fill="#29af7f"/>
<circle cx="416.70" cy="91.42" r="1.5" fill="#470e61"/>
<circle cx="423.05" cy="91.42" r="1.5" fill="#470e61"/>
<circle cx="429.40" cy="91.42" r="1.5" fill="#1f948c"/>
<circle cx="435.75" cy="91.42" r="1.5" fill="#24878e"/>
<circle cx="346.85" cy="96.98" r="1.5" fill="#20938c"/>
<circle cx="353.20" cy="96.98" r="1.5" fill="#50c46a"/>
<circle cx="359.55" cy="96.98" r="1.5" fill="#2fb47c"/>
<circle cx="365.90" cy="96.98" r="1.5" fill="#c0df25"/>
<circle cx="372.25" cy="96.98" r="1.5" fill="#c5e021"/>
<circle cx="378.60" cy="96.98" r="1.5" fill="#42be71"/>
<circle cx="384.95" cy="96.98" r="1.5" fill="#23898e"/>
<circle cx="391.30" cy="96.98" r="1.5" fill="#32b67a"/>
<circle cx="397.65" cy="96.98" r="1.5" fill="#35b779"/>
<circle cx="404.00" cy="96.98" r="1.5" fill="#31b57b"/>
<circle cx="410.35" cy="96.98" r="1.5" fill="#440154"/>
<circle cx="416.70" cy="96.98" r="1.5" fill="#460a5d"/>
<circle cx="423.05" cy="96.98" r="1.5" fill="#375a8c"/>
<circle cx="429.40" cy="96.98" r="1.5" fill="#c5e021"/>
<circle cx="435.75" cy="96.98" r="1.5" fill="#277e8e"/>
<circle cx="346.85" cy="102.54" r="1.5" fill="#4ec36b"/>
<circle cx="353.20" cy="102.54" r="1.5" fill="#44bf70"/>
<circle cx="359.55" cy="102.54" r="1.5" fill="#cde11d"/>
<circle cx="365.90" cy="102.54" r="1.5" fill="#4ec36b"/>
<circle cx="372.25" cy="102.54" r="1.5" fill="#4ec36b"/>
<circle cx="378.60" cy="102.54" r="1.5" fill="#b5de2b"/>
<circle cx="384.95" cy="102.54" r="1.5" fill="#29af7f"/>
<circle cx="391.30" cy="102.54" r="1.5" fill="#218f8d"/>
<circle cx="397.65" cy="102.54" r="1.5" fill="#2eb37c"/>
<circle cx="404.00" cy="102.54" r="1.5" fill="#25848e"/>
<circle cx="410.35" cy="102.54" r="1.5" fill="#228d8d"/>
<circle cx="416.70" cy="102.54" r="1.5" fill="#3bbb75"/>
<circle cx="423.05" cy="102.54" r="1.5" fill="#aadc32"/>
<circle cx="429.40" cy="102.54" r="1.5" fill="#50c46a"/>
<circle cx="353.20" cy="108.10" r="1.5" fill="#b8de29"/>
<circle cx="359.55" cy="108.10" r="1.5" fill="#35b779"/>
<circle cx="365.90" cy="108.10" r="1.5" fill="#31b57b"/>
<circle cx="372.25" cy="108.10" r="1.5" fill="#4cc26c"/>
<circle cx="378.60" cy="108.10" r="1.5" fill="#3aba76"/>
<circle cx="384.95" cy="108.10" r="1.5" fill="#48c16e"/>
<circle cx="391.30" cy="108.10" r="1.5" fill="#35b779"/>
<circle cx="397.65" cy="108.10" r="1.5" fill="#2fb47c"/>
<circle cx="404.00" cy="108.10" r="1.5" fill="#3bbb75"/>
<circle cx="410.35" cy="108.10" r="1.5" fill="#4ac16d"/>
<circle cx="416.70" cy="108.10" r="1.5" fill="#98d83e"/>
<circle cx="423.05" cy="108.10" r="1.5" fill="#48c16e"/>
<circle cx="353.20" cy="113.66" r="1.5" fill="#4ec36b"/>
<circle cx="359.55" cy="113.66" r="1.5" fill="#c5e021"/>
<circle cx="365.90" cy="113.66" r="1.5" fill="#4ac16d"/>
<circle cx="372.25" cy="113.66" r="1.5" fill="#8ed645"/>
<circle cx="378.60" cy="113.66" r="1.5" fill="#40bd72"/>
<circle cx="384.95" cy="113.66" r="1.5" fill="#c8e020"/>
<circle cx="391.30" cy="113.66" r="1.5" fill="#2ab07f"/>
<circle cx="397.65" cy="113.66" r="1.5" fill="#32b67a"/>
<circle cx="404.00" cy="113.66" r="1.5" fill="#32b67a"/>
<circle cx="410.35" cy="113.66" r="1.5" fill="#f4e61e"/>
<circle cx="359.55" cy="119.22" r="1.5" fill="#ece51b"/>
<circle cx="365.90" cy="119.22" r="1.5" fill="#addc30"/>
<circle cx="372.25" cy="119.22" r="1.5" fill="#c2df23"/>
<circle cx="378.60" cy="119.22" r="1.5" fill="#29af7f"/>
<circle cx="384.95" cy="119.22" r="1.5" fill="#2ab07f"/>
<circle cx="391.30" cy="119.22" r="1.5" fill="#2db27d"/>
<circle cx="397.65" cy="119.22" r="1.5" fill="#2db27d"/>
<circle cx="404.00" cy="119.22" r="1.5" fill="#2cb17e"/>
<circle cx="359.55" cy="124.78" r="1.5" fill="#52c569"/>
<circle cx="365.90" cy="124.78" r="1.5" fill="#fde725"/>
<circle cx="372.25" cy="124.78" r="1.5" fill="#d8e219"/>
<circle cx="378.60" cy="124.78" r="1.5" fill="#f1e51d"/>
<circle cx="359.55" cy="130.34" r="1.5" fill="#34b679"/>
<circle cx="365.90" cy="130.34" r="1.5" fill="#e7e419"/>
<circle cx="372.25" cy="130.34" r="1.5" fill="#35b779"/>
<circle cx="365.90" cy="135.90" r="1.5" fill="#40bd72"/>
<circle cx="320.18" cy="52.50" r="1.5" fill="#f1e51d"/>
<path d="M324.7 53.2h5.8M327.6 50.3v5.8M343.8 47.6h5.8M346.7 44.7v5.8M343.8 97.7h5.8M346.7 94.8v5.8M356.5 69.9h5.8M359.4 67.0v5.8M362.8 58.8h5.8M365.7 55.9v5.8M362.8 81.0h5.8M365.7 78.1v5.8M388.2 92.1h5.8M391.1 89.2v5.8M394.6 42.1h5.8M397.5 39.2v5.8M394.6 53.2h5.8M397.5 50.3v5.8M400.9 103.2h5.8M403.8 100.3v5.8M407.3 81.0h5.8M410.2 78.1v5.8M413.6 36.5h5.8M416.5 33.6v5.8M420.0 31.0h5.8M422.9 28.1v5.8" stroke="#22a884" stroke-width="0.85" stroke-opacity="0.75" fill="none"/>
<path d="M324.7 58.8h5.8M327.6 55.9v5.8M337.4 86.6h5.8M340.3 83.7v5.8M343.8 69.9h5.8M346.7 67.0v5.8M343.8 81.0h5.8M346.7 78.1v5.8M350.1 53.2h5.8M353.0 50.3v5.8M356.5 42.1h5.8M359.4 39.2v5.8M362.8 53.2h5.8M365.7 50.3v5.8M369.2 47.6h5.8M372.1 44.7v5.8M375.5 119.9h5.8M378.4 117.0v5.8M388.2 119.9h5.8M391.1 117.0v5.8M394.6 92.1h5.8M397.5 89.2v5.8M394.6 103.2h5.8M397.5 100.3v5.8M394.6 119.9h5.8M397.5 117.0v5.8M413.6 31.0h5.8M416.5 28.1v5.8M426.3 86.6h5.8M429.2 83.7v5.8M432.7 81.0h5.8M435.6 78.1v5.8" stroke="#2fb47c" stroke-width="0.85" stroke-opacity="0.75" fill="none"/>
<path d="M324.7 64.3h5.8M327.6 61.4v5.8M350.1 103.2h5.8M353.0 100.3v5.8M350.1 114.4h5.8M353.0 111.5v5.8M356.5 108.8h5.8M359.4 105.9v5.8M356.5 125.5h5.8M359.4 122.6v5.8M362.8 108.8h5.8M365.7 105.9v5.8M362.8 114.4h5.8M365.7 111.5v5.8M369.2 81.0h5.8M372.1 78.1v5.8M375.5 86.6h5.8M378.4 83.7v5.8M375.5 97.7h5.8M378.4 94.8v5.8M375.5 108.8h5.8M378.4 105.9v5.8M375.5 114.4h5.8M378.4 111.5v5.8M381.9 108.8h5.8M384.8 105.9v5.8M381.9 119.9h5.8M384.8 117.0v5.8M388.2 108.8h5.8M391.1 105.9v5.8M388.2 114.4h5.8M391.1 111.5v5.8M394.6 108.8h5.8M397.5 105.9v5.8M400.9 108.8h5.8M403.8 105.9v5.8M400.9 114.4h5.8M403.8 111.5v5.8M407.3 86.6h5.8M410.2 83.7v5.8M407.3 92.1h5.8M410.2 89.2v5.8" stroke="#44bf70" stroke-width="0.85" stroke-opacity="0.75" fill="none"/>
<path d="M331.1 53.2h5.8M334.0 50.3v5.8M337.4 81.0h5.8M340.3 78.1v5.8M381.9 75.4h5.8M384.8 72.5v5.8M400.9 81.0h5.8M403.8 78.1v5.8M400.9 86.6h5.8M403.8 83.7v5.8M439.0 81.0h5.8M441.9 78.1v5.8" stroke="#2a788e" stroke-width="0.85" stroke-opacity="0.75" fill="none"/>
<path d="M331.1 58.8h5.8M334.0 55.9v5.8M331.1 64.3h5.8M334.0 61.4v5.8M337.4 58.8h5.8M340.3 55.9v5.8M337.4 64.3h5.8M340.3 61.4v5.8M343.8 42.1h5.8M346.7 39.2v5.8M350.1 58.8h5.8M353.0 55.9v5.8M350.1 69.9h5.8M353.0 67.0v5.8M350.1 81.0h5.8M353.0 78.1v5.8M362.8 36.5h5.8M365.7 33.6v5.8M375.5 75.4h5.8M378.4 72.5v5.8M381.9 92.1h5.8M384.8 89.2v5.8M394.6 81.0h5.8M397.5 78.1v5.8M394.6 86.6h5.8M397.5 83.7v5.8M400.9 69.9h5.8M403.8 67.0v5.8M400.9 75.4h5.8M403.8 72.5v5.8M420.0 69.9h5.8M422.9 67.0v5.8M420.0 75.4h5.8M422.9 72.5v5.8M432.7 75.4h5.8M435.6 72.5v5.8M432.7 92.1h5.8M435.6 89.2v5.8M439.0 64.3h5.8M441.9 61.4v5.8" stroke="#25848e" stroke-width="0.85" stroke-opacity="0.75" fill="none"/>
<path d="M331.1 69.9h5.8M334.0 67.0v5.8M337.4 69.9h5.8M340.3 67.0v5.8M337.4 92.1h5.8M340.3 89.2v5.8M343.8 53.2h5.8M346.7 50.3v5.8M343.8 58.8h5.8M346.7 55.9v5.8M343.8 75.4h5.8M346.7 72.5v5.8M343.8 86.6h5.8M346.7 83.7v5.8M343.8 92.1h5.8M346.7 89.2v5.8M350.1 42.1h5.8M353.0 39.2v5.8M350.1 75.4h5.8M353.0 72.5v5.8M350.1 86.6h5.8M353.0 83.7v5.8M356.5 64.3h5.8M359.4 61.4v5.8M356.5 92.1h5.8M359.4 89.2v5.8M362.8 47.6h5.8M365.7 44.7v5.8M369.2 53.2h5.8M372.1 50.3v5.8M369.2 75.4h5.8M372.1 72.5v5.8M375.5 81.0h5.8M378.4 78.1v5.8M381.9 86.6h5.8M384.8 83.7v5.8M388.2 58.8h5.8M391.1 55.9v5.8M400.9 58.8h5.8M403.8 55.9v5.8M400.9 92.1h5.8M403.8 89.2v5.8M407.3 64.3h5.8M410.2 61.4v5.8M407.3 75.4h5.8M410.2 72.5v5.8M407.3 103.2h5.8M410.2 100.3v5.8M413.6 86.6h5.8M416.5 83.7v5.8M426.3 92.1h5.8M429.2 89.2v5.8M432.7 58.8h5.8M435.6 55.9v5.8M439.0 86.6h5.8M441.9 83.7v5.8" stroke="#1e9c89" stroke-width="0.85" stroke-opacity="0.75" fill="none"/>
<path d="M331.1 75.4h5.8M334.0 72.5v5.8M350.1 47.6h5.8M353.0 44.7v5.8M350.1 92.1h5.8M353.0 89.2v5.8M350.1 97.7h5.8M353.0 94.8v5.8M356.5 53.2h5.8M359.4 50.3v5.8M356.5 58.8h5.8M359.4 55.9v5.8M356.5 81.0h5.8M359.4 78.1v5.8M356.5 86.6h5.8M359.4 83.7v5.8M356.5 97.7h5.8M359.4 94.8v5.8M362.8 86.6h5.8M365.7 83.7v5.8M362.8 103.2h5.8M365.7 100.3v5.8M369.2 58.8h5.8M372.1 55.9v5.8M369.2 86.6h5.8M372.1 83.7v5.8M369.2 92.1h5.8M372.1 89.2v5.8M369.2 108.8h5.8M372.1 105.9v5.8M369.2 131.0h5.8M372.1 128.1v5.8M381.9 103.2h5.8M384.8 100.3v5.8M388.2 81.0h5.8M391.1 78.1v5.8M388.2 97.7h5.8M391.1 94.8v5.8M394.6 97.7h5.8M397.5 94.8v5.8M394.6 114.4h5.8M397.5 111.5v5.8M400.9 97.7h5.8M403.8 94.8v5.8M400.9 119.9h5.8M403.8 117.0v5.8M413.6 81.0h5.8M416.5 78.1v5.8M420.0 108.8h5.8M422.9 105.9v5.8" stroke="#5ec962" stroke-width="0.85" stroke-opacity="0.75" fill="none"/>
<path d="M331.1 81.0h5.8M334.0 78.1v5.8M350.1 64.3h5.8M353.0 61.4v5.8M369.2 42.1h5.8M372.1 39.2v5.8M375.5 42.1h5.8M378.4 39.2v5.8M375.5 64.3h5.8M378.4 61.4v5.8M381.9 36.5h5.8M384.8 33.6v5.8M388.2 42.1h5.8M391.1 39.2v5.8M388.2 47.6h5.8M391.1 44.7v5.8M394.6 64.3h5.8M397.5 61.4v5.8M400.9 31.0h5.8M403.8 28.1v5.8M407.3 31.0h5.8M410.2 28.1v5.8M407.3 97.7h5.8M410.2 94.8v5.8M413.6 42.1h5.8M416.5 39.2v5.8M413.6 47.6h5.8M416.5 44.7v5.8M413.6 53.2h5.8M416.5 50.3v5.8M413.6 97.7h5.8M416.5 94.8v5.8M420.0 36.5h5.8M422.9 33.6v5.8M420.0 47.6h5.8M422.9 44.7v5.8M420.0 53.2h5.8M422.9 50.3v5.8M426.3 64.3h5.8M429.2 61.4v5.8M432.7 42.1h5.8M435.6 39.2v5.8M439.0 53.2h5.8M441.9 50.3v5.8" stroke="#471365" stroke-width="0.85" stroke-opacity="0.75" fill="none"/>
<path d="M337.4 53.2h5.8M340.3 50.3v5.8M356.5 75.4h5.8M359.4 72.5v5.8M362.8 75.4h5.8M365.7 72.5v5.8M375.5 53.2h5.8M378.4 50.3v5.8M375.5 58.8h5.8M378.4 55.9v5.8M375.5 69.9h5.8M378.4 67.0v5.8M375.5 92.1h5.8M378.4 89.2v5.8M381.9 53.2h5.8M384.8 50.3v5.8M381.9 97.7h5.8M384.8 94.8v5.8M388.2 75.4h5.8M391.1 72.5v5.8M388.2 103.2h5.8M391.1 100.3v5.8M394.6 36.5h5.8M397.5 33.6v5.8M394.6 69.9h5.8M397.5 67.0v5.8M407.3 42.1h5.8M410.2 39.2v5.8M407.3 69.9h5.8M410.2 67.0v5.8M413.6 75.4h5.8M416.5 72.5v5.8M420.0 58.8h5.8M422.9 55.9v5.8M420.0 64.3h5.8M422.9 61.4v5.8M420.0 86.6h5.8M422.9 83.7v5.8M426.3 53.2h5.8M429.2 50.3v5.8M426.3 69.9h5.8M429.2 67.0v5.8M432.7 97.7h5.8M435.6 94.8v5.8" stroke="#21918c" stroke-width="0.85" stroke-opacity="0.75" fill="none"/>
<path d="M337.4 75.4h5.8M340.3 72.5v5.8M369.2 64.3h5.8M372.1 61.4v5.8M375.5 36.5h5.8M378.4 33.6v5.8M381.9 81.0h5.8M384.8 78.1v5.8M394.6 58.8h5.8M397.5 55.9v5.8M400.9 36.5h5.8M403.8 33.6v5.8M400.9 53.2h5.8M403.8 50.3v5.8M420.0 25.4h5.8M422.9 22.5v5.8M420.0 42.1h5.8M422.9 39.2v5.8M420.0 81.0h5.8M422.9 78.1v5.8M432.7 86.6h5.8M435.6 83.7v5.8" stroke="#482475" stroke-width="0.85" stroke-opacity="0.75" fill="none"/>
<path d="M343.8 64.3h5.8M346.7 61.4v5.8M420.0 97.7h5.8M422.9 94.8v5.8M432.7 47.6h5.8M435.6 44.7v5.8" stroke="#355f8d" stroke-width="0.85" stroke-opacity="0.75" fill="none"/>
<path d="M343.8 103.2h5.8M346.7 100.3v5.8M356.5 131.0h5.8M359.4 128.1v5.8M362.8 119.9h5.8M365.7 117.0v5.8M362.8 136.6h5.8M365.7 133.7v5.8M369.2 103.2h5.8M372.1 100.3v5.8M407.3 108.8h5.8M410.2 105.9v5.8M413.6 103.2h5.8M416.5 100.3v5.8M413.6 108.8h5.8M416.5 105.9v5.8M420.0 103.2h5.8M422.9 100.3v5.8M426.3 81.0h5.8M429.2 78.1v5.8" stroke="#7ad151" stroke-width="0.85" stroke-opacity="0.75" fill="none"/>
<path d="M350.1 108.8h5.8M353.0 105.9v5.8M362.8 97.7h5.8M365.7 94.8v5.8M369.2 125.5h5.8M372.1 122.6v5.8M381.9 58.8h5.8M384.8 55.9v5.8" stroke="#bddf26" stroke-width="0.85" stroke-opacity="0.75" fill="none"/>
<path d="M356.5 47.6h5.8M359.4 44.7v5.8M362.8 64.3h5.8M365.7 61.4v5.8M362.8 69.9h5.8M365.7 67.0v5.8M369.2 36.5h5.8M372.1 33.6v5.8M369.2 69.9h5.8M372.1 67.0v5.8M381.9 42.1h5.8M384.8 39.2v5.8M381.9 47.6h5.8M384.8 44.7v5.8M381.9 64.3h5.8M384.8 61.4v5.8M381.9 69.9h5.8M384.8 67.0v5.8M388.2 36.5h5.8M391.1 33.6v5.8M388.2 53.2h5.8M391.1 50.3v5.8M388.2 69.9h5.8M391.1 67.0v5.8M388.2 86.6h5.8M391.1 83.7v5.8M394.6 31.0h5.8M397.5 28.1v5.8M394.6 47.6h5.8M397.5 44.7v5.8M400.9 42.1h5.8M403.8 39.2v5.8M400.9 47.6h5.8M403.8 44.7v5.8M400.9 64.3h5.8M403.8 61.4v5.8M407.3 36.5h5.8M410.2 33.6v5.8M407.3 47.6h5.8M410.2 44.7v5.8M407.3 53.2h5.8M410.2 50.3v5.8M407.3 58.8h5.8M410.2 55.9v5.8M413.6 58.8h5.8M416.5 55.9v5.8M413.6 64.3h5.8M416.5 61.4v5.8M413.6 69.9h5.8M416.5 67.0v5.8M413.6 92.1h5.8M416.5 89.2v5.8M420.0 92.1h5.8M422.9 89.2v5.8M426.3 36.5h5.8M429.2 33.6v5.8M426.3 42.1h5.8M429.2 39.2v5.8M426.3 47.6h5.8M429.2 44.7v5.8M426.3 58.8h5.8M429.2 55.9v5.8M426.3 75.4h5.8M429.2 72.5v5.8M432.7 53.2h5.8M435.6 50.3v5.8M432.7 64.3h5.8M435.6 61.4v5.8M432.7 69.9h5.8M435.6 67.0v5.8M439.0 58.8h5.8M441.9 55.9v5.8M439.0 69.9h5.8M441.9 67.0v5.8M439.0 75.4h5.8M441.9 72.5v5.8" stroke="#440154" stroke-width="0.85" stroke-opacity="0.75" fill="none"/>
<path d="M356.5 103.2h5.8M359.4 100.3v5.8M356.5 114.4h5.8M359.4 111.5v5.8M369.2 119.9h5.8M372.1 117.0v5.8M375.5 103.2h5.8M378.4 100.3v5.8M375.5 125.5h5.8M378.4 122.6v5.8M317.4 56.3h5.8M320.3 53.4v5.8" stroke="#dfe318" stroke-width="0.85" stroke-opacity="0.75" fill="none"/>
<path d="M356.5 119.9h5.8M359.4 117.0v5.8M362.8 125.5h5.8M365.7 122.6v5.8M362.8 131.0h5.8M365.7 128.1v5.8M369.2 97.7h5.8M372.1 94.8v5.8M407.3 114.4h5.8M410.2 111.5v5.8" stroke="#fde725" stroke-width="0.85" stroke-opacity="0.75" fill="none"/>
<path d="M362.8 42.1h5.8M365.7 39.2v5.8M362.8 92.1h5.8M365.7 89.2v5.8M369.2 114.4h5.8M372.1 111.5v5.8M375.5 47.6h5.8M378.4 44.7v5.8M381.9 114.4h5.8M384.8 111.5v5.8M388.2 64.3h5.8M391.1 61.4v5.8M426.3 97.7h5.8M429.2 94.8v5.8M426.3 103.2h5.8M429.2 100.3v5.8" stroke="#9bd93c" stroke-width="0.85" stroke-opacity="0.75" fill="none"/>
<path d="M394.6 75.4h5.8M397.5 72.5v5.8" stroke="#2f6c8e" stroke-width="0.85" stroke-opacity="0.75" fill="none"/>
</svg>
</body></html>
